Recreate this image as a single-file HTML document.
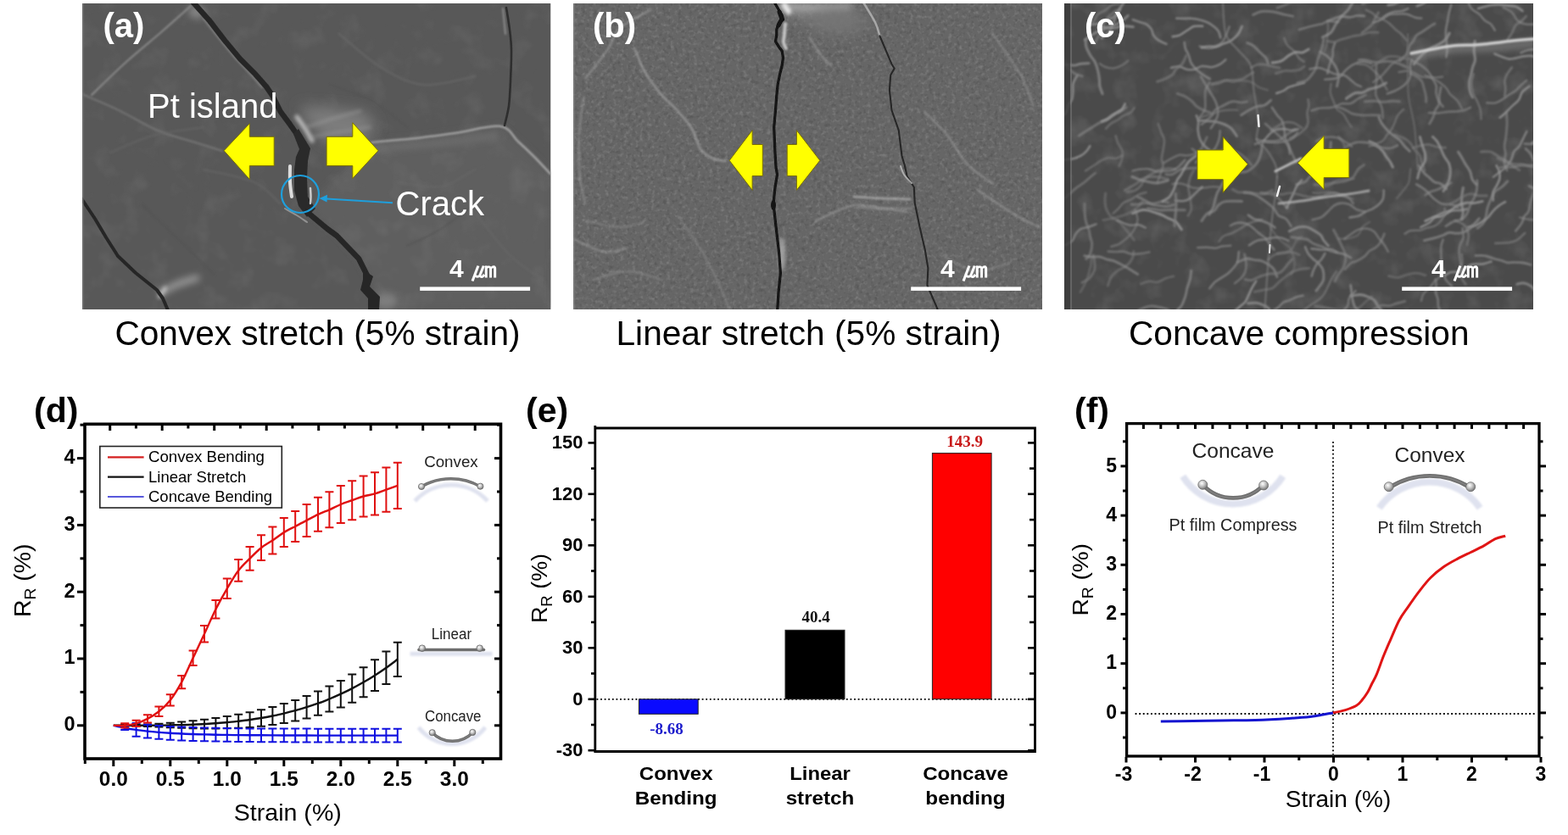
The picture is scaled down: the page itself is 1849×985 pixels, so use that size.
<!DOCTYPE html>
<html><head><meta charset="utf-8"><title>Figure</title>
<style>html,body{margin:0;padding:0;background:#fff;overflow:hidden;width:1849px;height:985px;} svg{display:block;}</style></head>
<body><svg width="1849" height="985" viewBox="0 0 1849 985">
<rect width="1849" height="985" fill="#fff"/>
<defs>
<filter id="b05" filterUnits="userSpaceOnUse" x="0" y="0" width="1849" height="985"><feGaussianBlur stdDeviation="0.5"/></filter>
<filter id="b1" filterUnits="userSpaceOnUse" x="0" y="0" width="1849" height="985"><feGaussianBlur stdDeviation="1"/></filter>
<filter id="b15" filterUnits="userSpaceOnUse" x="0" y="0" width="1849" height="985"><feGaussianBlur stdDeviation="1.5"/></filter>
<filter id="b2" filterUnits="userSpaceOnUse" x="0" y="0" width="1849" height="985"><feGaussianBlur stdDeviation="2"/></filter>
<filter id="b4" filterUnits="userSpaceOnUse" x="0" y="0" width="1849" height="985"><feGaussianBlur stdDeviation="4"/></filter>
<filter id="b8" filterUnits="userSpaceOnUse" x="0" y="0" width="1849" height="985"><feGaussianBlur stdDeviation="8"/></filter>
<filter id="nA" x="0" y="0" width="100%" height="100%">
  <feTurbulence type="fractalNoise" baseFrequency="0.035" numOctaves="3" seed="3" result="t"/>
  <feColorMatrix type="matrix" values="0 0 0 0 0.5  0 0 0 0 0.5  0 0 0 0 0.5  1.3 0 0 0 -0.65"/>
</filter>
<filter id="nB" x="0" y="0" width="100%" height="100%">
  <feTurbulence type="fractalNoise" baseFrequency="0.22" numOctaves="2" seed="7" result="t"/>
  <feColorMatrix type="matrix" values="0 0 0 0 1  0 0 0 0 1  0 0 0 0 1  0 0 0 1.6 -0.8" result="w"/>
</filter>
<filter id="nB2" x="0" y="0" width="100%" height="100%">
  <feTurbulence type="fractalNoise" baseFrequency="0.22" numOctaves="2" seed="11" result="t"/>
  <feColorMatrix type="matrix" values="0 0 0 0 0  0 0 0 0 0  0 0 0 0 0  0 0 0 1.6 -0.8" result="w"/>
</filter>
<clipPath id="cA"><rect x="97" y="4" width="552.5" height="361"/></clipPath>
<clipPath id="cB"><rect x="676" y="4" width="553" height="361"/></clipPath>
<clipPath id="cC"><rect x="1255" y="4" width="553" height="361"/></clipPath>
</defs>
<g clip-path="url(#cA)">
<rect x="97" y="4" width="552.5" height="361" fill="#585858"/>
<polygon points="438.0,168.0 492.0,163.0 537.0,157.0 590.0,149.0 611.0,167.0 629.0,184.0 649.0,205.0 649.5,365.0 445.0,365.0 436.0,330.0 423.0,305.0 397.0,276.0 373.0,256.0 360.0,247.0" fill="#5e5e5e" filter="url(#b4)"/>
<rect x="97" y="4" width="552.5" height="361" filter="url(#nA)" opacity="0.18"/>
<path d="M97.0,111.0 C104.2,114.2 125.2,122.8 140.0,130.0 C154.8,137.2 171.0,147.7 186.0,154.0 C201.0,160.3 217.3,164.0 230.0,168.0 C242.7,172.0 256.7,176.3 262.0,178.0" fill="none" stroke="#767676" stroke-width="2.5" stroke-linecap="round" stroke-linejoin="round" opacity="0.8" filter="url(#b1)"/>
<path d="M167.0,241.0 C174.2,247.8 195.7,268.2 210.0,282.0 C224.3,295.8 245.8,317.0 253.0,324.0" fill="none" stroke="#535353" stroke-width="2" stroke-linecap="round" stroke-linejoin="round" opacity="0.7" filter="url(#b1)"/>
<path d="M400.0,40.0 C408.3,46.7 433.3,70.0 450.0,80.0 C466.7,90.0 481.7,98.3 500.0,100.0 C518.3,101.7 550.0,91.7 560.0,90.0" fill="none" stroke="#686868" stroke-width="3" stroke-linecap="round" stroke-linejoin="round" opacity="0.6" filter="url(#b1)"/>
<path d="M390.0,100.0 C398.3,103.3 425.0,111.7 440.0,120.0 C455.0,128.3 473.3,145.0 480.0,150.0" fill="none" stroke="#525252" stroke-width="2" stroke-linecap="round" stroke-linejoin="round" opacity="0.6" filter="url(#b1)"/>
<path d="M470.0,215.0 C478.3,215.8 505.0,222.5 520.0,220.0 C535.0,217.5 553.3,203.3 560.0,200.0" fill="none" stroke="#686868" stroke-width="3" stroke-linecap="round" stroke-linejoin="round" opacity="0.5" filter="url(#b1)"/>
<path d="M480.0,290.0 C486.7,286.7 506.7,278.3 520.0,270.0 C533.3,261.7 553.3,245.0 560.0,240.0" fill="none" stroke="#525252" stroke-width="2" stroke-linecap="round" stroke-linejoin="round" opacity="0.6" filter="url(#b1)"/>
<path d="M560.0,250.0 C566.7,258.3 586.7,286.7 600.0,300.0 C613.3,313.3 633.3,325.0 640.0,330.0" fill="none" stroke="#686868" stroke-width="3" stroke-linecap="round" stroke-linejoin="round" opacity="0.5" filter="url(#b1)"/>
<path d="M240.0,200.0 C250.0,202.5 285.0,208.3 300.0,215.0 C315.0,221.7 325.0,235.8 330.0,240.0" fill="none" stroke="#686868" stroke-width="3" stroke-linecap="round" stroke-linejoin="round" opacity="0.5" filter="url(#b1)"/>
<path d="M130.0,180.0 C138.3,176.7 161.7,165.0 180.0,160.0 C198.3,155.0 230.0,151.7 240.0,150.0" fill="none" stroke="#666" stroke-width="3" stroke-linecap="round" stroke-linejoin="round" opacity="0.5" filter="url(#b1)"/>
<path d="M108.0,112.0 C115.0,105.3 136.3,84.3 150.0,72.0 C163.7,59.7 177.5,48.8 190.0,38.0 C202.5,27.2 219.2,12.2 225.0,7.0" fill="none" stroke="#8c8c8c" stroke-width="2.2" stroke-linecap="round" stroke-linejoin="round" opacity="0.9" filter="url(#b1)"/>
<path d="M438.0,168.0 C443.3,167.5 461.0,165.8 470.0,165.0 C479.0,164.2 480.8,164.3 492.0,163.0 C503.2,161.7 520.7,159.3 537.0,157.0 C553.3,154.7 577.7,147.3 590.0,149.0 C602.3,150.7 604.5,161.2 611.0,167.0 C617.5,172.8 622.7,177.7 629.0,184.0 C635.3,190.3 645.7,201.5 649.0,205.0" fill="none" stroke="#a8a8a8" stroke-width="2.5" stroke-linecap="round" stroke-linejoin="round" opacity="0.95" filter="url(#b1)"/>
<path d="M445.0,175.0 C452.5,174.3 474.2,172.5 490.0,171.0 C505.8,169.5 524.2,167.8 540.0,166.0 C555.8,164.2 577.5,161.0 585.0,160.0" fill="none" stroke="#777" stroke-width="6" stroke-linecap="round" stroke-linejoin="round" opacity="0.8" filter="url(#b4)"/>
<path d="M362.0,140.0 C365.8,141.7 377.0,147.0 385.0,150.0 C393.0,153.0 401.7,155.5 410.0,158.0 C418.3,160.5 430.8,163.8 435.0,165.0" fill="none" stroke="#7a7a7a" stroke-width="10" stroke-linecap="round" stroke-linejoin="round" opacity="0.8" filter="url(#b8)"/>
<path d="M190.0,345.0 C193.3,343.3 203.0,337.8 210.0,335.0 C217.0,332.2 228.3,329.2 232.0,328.0" fill="none" stroke="#a8a8a8" stroke-width="7" stroke-linecap="round" stroke-linejoin="round" opacity="0.9" filter="url(#b4)"/>
<path d="M188.0,350.0 L195.0,340.0" fill="none" stroke="#c8c8c8" stroke-width="4" stroke-linecap="round" stroke-linejoin="round" opacity="0.9" filter="url(#b2)"/>
<ellipse cx="232" cy="14" rx="10" ry="8" fill="#909090" filter="url(#b4)" opacity="0.8"/>
<ellipse cx="455" cy="355" rx="14" ry="10" fill="#8a8a8a" filter="url(#b4)" opacity="0.7"/>
<polygon points="352.0,125.0 372.0,150.0 385.0,168.0 420.0,166.0 445.0,150.0 430.0,132.0 395.0,128.0" fill="#7c7c7c" filter="url(#b8)"/>
<path d="M350.0,138.0 C351.7,140.3 357.0,147.3 360.0,152.0 C363.0,156.7 366.7,163.7 368.0,166.0" fill="none" stroke="#c8c8c8" stroke-width="5" stroke-linecap="round" stroke-linejoin="round" opacity="0.9" filter="url(#b2)"/>
<path d="M362.0,150.0 C367.0,148.3 381.5,143.2 392.0,140.0 C402.5,136.8 419.5,132.5 425.0,131.0" fill="none" stroke="#a0a0a0" stroke-width="3" stroke-linecap="round" stroke-linejoin="round" opacity="0.55" filter="url(#b2)"/>
<path d="M366.0,162.0 C371.7,161.0 388.3,158.0 400.0,156.0 C411.7,154.0 430.0,151.0 436.0,150.0" fill="none" stroke="#a0a0a0" stroke-width="3" stroke-linecap="round" stroke-linejoin="round" opacity="0.5" filter="url(#b2)"/>
<path d="M240.0,22.0 L259.0,46.0 L278.0,69.0 L296.0,88.0 L309.0,103.0" fill="none" stroke="#8c8c8c" stroke-width="2.5" stroke-linecap="round" stroke-linejoin="round" opacity="0.7" filter="url(#b1)"/>
<path d="M228.0,3.0 L246.6,23.8 L264.8,47.5 L283.1,69.5 L301.4,87.8 L314.2,102.4 L321.5,113.3 L330.7,131.6 L341.6,146.3 L354.4,164.5 L362.0,175.5" fill="none" stroke="#282828" stroke-width="6.5" stroke-linecap="round" stroke-linejoin="round" opacity="1" filter="url(#b05)"/>
<polygon points="346.0,158.0 352.0,152.0 366.0,175.0 363.0,190.0 362.0,210.0 363.0,232.0 372.0,246.0 362.0,256.0 352.0,243.0 347.0,225.0 347.0,200.0 349.0,185.0 353.0,176.0" fill="#2b2b2b" filter="url(#b05)"/>
<path d="M362.0,250.0 L386.0,270.0 L397.0,278.0 L423.0,305.0 L433.0,325.0" fill="none" stroke="#262626" stroke-width="6.5" stroke-linecap="round" stroke-linejoin="round" opacity="1" filter="url(#b05)"/>
<polygon points="428.0,318.0 440.0,326.0 436.0,338.0 448.0,350.0 447.0,366.0 434.0,366.0 434.0,352.0 425.0,342.0 428.0,330.0" fill="#262626" filter="url(#b05)"/>
<path d="M342.0,196.0 C342.0,199.2 341.7,209.0 342.0,215.0 C342.3,221.0 343.7,229.2 344.0,232.0" fill="none" stroke="#e4e4e4" stroke-width="4" stroke-linecap="round" stroke-linejoin="round" opacity="0.95" filter="url(#b05)"/>
<path d="M366.0,222.0 C366.1,223.7 366.5,229.0 366.5,232.0 C366.5,235.0 366.1,238.7 366.0,240.0" fill="none" stroke="#d8d8d8" stroke-width="2.5" stroke-linecap="round" stroke-linejoin="round" opacity="0.9" filter="url(#b05)"/>
<path d="M336.0,246.0 C338.3,247.3 345.7,251.3 350.0,254.0 C354.3,256.7 360.0,260.7 362.0,262.0" fill="none" stroke="#a0a0a0" stroke-width="2" stroke-linecap="round" stroke-linejoin="round" opacity="0.8" filter="url(#b05)"/>
<path d="M96.0,234.0 L112.0,258.0 L125.0,280.0 L139.0,302.0 L160.0,322.0 L185.0,342.0 L192.0,352.0 L198.0,366.0" fill="none" stroke="#262626" stroke-width="4" stroke-linecap="round" stroke-linejoin="round" opacity="1" filter="url(#b05)"/>
<path d="M597.0,9.0 C597.7,13.3 600.0,26.7 601.0,35.0 C602.0,43.3 602.8,49.0 603.0,59.0 C603.2,69.0 602.5,84.0 602.0,95.0 C601.5,106.0 601.2,116.2 600.0,125.0 C598.8,133.8 595.8,144.2 595.0,148.0" fill="none" stroke="#2e2e2e" stroke-width="2.6" stroke-linecap="round" stroke-linejoin="round" opacity="1" filter="url(#b05)"/>
<path d="M593.0,10.0 L596.0,40.0" fill="none" stroke="#9a9a9a" stroke-width="2" stroke-linecap="round" stroke-linejoin="round" opacity="0.8" filter="url(#b1)"/>
<rect x="97" y="4" width="2" height="361" fill="#777" opacity="0.6"/>
</g>
<polygon points="264.1,177.7 294.3,145.7 294.3,161.3 323.2,161.3 323.2,195.6 294.3,195.6 294.3,211.5" fill="#ffff00" stroke="#7a7000" stroke-width="1" stroke-linejoin="miter"/>
<polygon points="446.0,177.7 415.8,144.8 415.8,161.3 385.1,161.3 385.1,195.6 415.8,195.6 415.8,210.6" fill="#ffff00" stroke="#7a7000" stroke-width="1" stroke-linejoin="miter"/>
<circle cx="354" cy="229" r="22" fill="none" stroke="#1e9fdc" stroke-width="2.2"/>
<line x1="381" y1="234.3" x2="463" y2="239.2" stroke="#1e9fdc" stroke-width="2"/>
<polygon points="376.5,234.0 386.0,229.8 385.5,238.6" fill="#1e9fdc"/>
<g clip-path="url(#cB)">
<rect x="676" y="4" width="553" height="361" fill="#666666"/>
<rect x="676" y="4" width="553" height="361" filter="url(#nB)" opacity="0.22"/>
<rect x="676" y="4" width="553" height="361" filter="url(#nB2)" opacity="0.22"/>
<path d="M690.7,92.0 C695.0,86.5 709.6,68.8 716.3,59.0 C723.0,49.2 722.5,41.2 731.0,33.3 C739.5,25.3 761.5,15.0 767.6,11.3" fill="none" stroke="#a4a4a4" stroke-width="3" stroke-linecap="round" stroke-linejoin="round" opacity="0.45" filter="url(#b1)"/>
<path d="M749.0,59.0 C750.9,63.3 755.4,76.0 760.3,84.6 C765.2,93.1 772.5,103.0 778.6,110.3 C784.7,117.6 790.8,121.9 796.9,128.6 C803.0,135.3 810.3,142.7 815.2,150.6 C820.1,158.5 821.9,170.1 826.2,176.2 C830.5,182.3 835.9,184.9 840.9,187.2 C845.9,189.5 853.5,189.5 856.0,190.0" fill="none" stroke="#a4a4a4" stroke-width="3" stroke-linecap="round" stroke-linejoin="round" opacity="0.6" filter="url(#b1)"/>
<path d="M688.0,115.0 C687.2,122.5 683.7,144.2 683.0,160.0 C682.3,175.8 682.8,196.7 684.0,210.0 C685.2,223.3 689.0,235.0 690.0,240.0" fill="none" stroke="#a4a4a4" stroke-width="3" stroke-linecap="round" stroke-linejoin="round" opacity="0.35" filter="url(#b1)"/>
<path d="M676.0,282.0 C682.0,284.5 701.7,295.2 712.0,297.0 C722.3,298.8 733.7,293.7 738.0,293.0" fill="none" stroke="#a4a4a4" stroke-width="3" stroke-linecap="round" stroke-linejoin="round" opacity="0.4" filter="url(#b1)"/>
<path d="M688.0,260.0 C695.0,261.3 718.0,267.7 730.0,268.0 C742.0,268.3 755.0,263.0 760.0,262.0" fill="none" stroke="#a4a4a4" stroke-width="2.5" stroke-linecap="round" stroke-linejoin="round" opacity="0.3" filter="url(#b1)"/>
<path d="M961.8,260.5 C969.1,257.4 992.4,244.6 1005.8,242.2 C1019.2,239.8 1031.7,244.6 1042.4,245.9 C1053.1,247.2 1065.4,249.3 1070.0,250.0" fill="none" stroke="#a4a4a4" stroke-width="3" stroke-linecap="round" stroke-linejoin="round" opacity="0.45" filter="url(#b1)"/>
<path d="M1090.0,132.0 C1094.3,136.3 1107.1,147.5 1115.7,157.9 C1124.3,168.3 1132.2,184.7 1141.4,194.5 C1150.6,204.3 1165.8,212.8 1170.7,216.5" fill="none" stroke="#a4a4a4" stroke-width="3" stroke-linecap="round" stroke-linejoin="round" opacity="0.45" filter="url(#b1)"/>
<path d="M1152.4,223.9 C1159.7,228.8 1184.1,245.9 1196.3,253.2 C1208.5,260.5 1220.7,265.4 1225.6,267.8" fill="none" stroke="#a4a4a4" stroke-width="3" stroke-linecap="round" stroke-linejoin="round" opacity="0.45" filter="url(#b1)"/>
<path d="M954.5,44.3 C957.0,48.0 964.9,60.8 969.2,66.3 C973.5,71.8 978.3,75.5 980.1,77.3" fill="none" stroke="#a4a4a4" stroke-width="3" stroke-linecap="round" stroke-linejoin="round" opacity="0.45" filter="url(#b1)"/>
<path d="M1170.7,40.6 C1176.2,48.5 1195.8,74.2 1203.7,88.3 C1211.6,102.3 1215.9,118.8 1218.3,124.9" fill="none" stroke="#a4a4a4" stroke-width="3" stroke-linecap="round" stroke-linejoin="round" opacity="0.35" filter="url(#b1)"/>
<path d="M800.0,255.0 C805.0,262.5 821.7,285.8 830.0,300.0 C838.3,314.2 845.0,329.2 850.0,340.0 C855.0,350.8 858.3,360.8 860.0,365.0" fill="none" stroke="#a4a4a4" stroke-width="2.5" stroke-linecap="round" stroke-linejoin="round" opacity="0.3" filter="url(#b1)"/>
<path d="M700.0,330.0 C706.7,328.3 726.7,320.0 740.0,320.0 C753.3,320.0 773.3,328.3 780.0,330.0" fill="none" stroke="#a4a4a4" stroke-width="3" stroke-linecap="round" stroke-linejoin="round" opacity="0.3" filter="url(#b1)"/>
<path d="M1110.0,300.0 C1116.7,303.3 1136.7,318.3 1150.0,320.0 C1163.3,321.7 1183.3,311.7 1190.0,310.0" fill="none" stroke="#a4a4a4" stroke-width="3" stroke-linecap="round" stroke-linejoin="round" opacity="0.3" filter="url(#b1)"/>
<path d="M1007.0,232.0 C1012.5,232.3 1029.0,233.5 1040.0,234.0 C1051.0,234.5 1067.5,234.8 1073.0,235.0" fill="none" stroke="#b0b0b0" stroke-width="3" stroke-linecap="round" stroke-linejoin="round" opacity="0.7" filter="url(#b1)"/>
<path d="M1010.0,245.0 C1015.8,245.2 1034.2,245.8 1045.0,246.0 C1055.8,246.2 1070.0,246.0 1075.0,246.0" fill="none" stroke="#a0a0a0" stroke-width="3" stroke-linecap="round" stroke-linejoin="round" opacity="0.4" filter="url(#b1)"/>
<path d="M922.0,7.0 C925.0,7.3 932.8,8.5 940.0,9.0 C947.2,9.5 955.0,10.0 965.0,10.0 C975.0,10.0 994.2,9.2 1000.0,9.0" fill="none" stroke="#c8c8c8" stroke-width="8" stroke-linecap="round" stroke-linejoin="round" opacity="0.95" filter="url(#b4)"/>
<path d="M930.0,12.0 C935.0,13.3 948.3,18.3 960.0,20.0 C971.7,21.7 993.3,21.7 1000.0,22.0" fill="none" stroke="#888" stroke-width="14" stroke-linecap="round" stroke-linejoin="round" opacity="0.7" filter="url(#b8)"/>
<path d="M925.0,6.0 L930.0,14.0" fill="none" stroke="#f0f0f0" stroke-width="6" stroke-linecap="round" stroke-linejoin="round" opacity="1" filter="url(#b2)"/>
<path d="M926.0,28.0 C925.8,30.0 925.3,36.3 925.0,40.0 C924.7,43.7 923.7,47.2 924.0,50.0 C924.3,52.8 926.5,55.8 927.0,57.0" fill="none" stroke="#c8c8c8" stroke-width="4" stroke-linecap="round" stroke-linejoin="round" opacity="0.95" filter="url(#b1)"/>
<ellipse cx="922" cy="300" rx="4" ry="20" fill="#b0b0b0" filter="url(#b2)" opacity="0.8"/>
<ellipse cx="990" cy="25" rx="35" ry="18" fill="#747474" filter="url(#b8)" opacity="0.8"/>
<path d="M913.3,3.0 L918.4,11.7 L922.2,18.1 L923.5,23.2 L918.4,27.0 L915.8,34.7 L915.8,41.1 L914.5,48.8 L918.4,55.2 L922.2,60.3 L923.5,68.0 L922.2,77.0 L919.7,87.2 L917.1,100.0 L915.8,112.8 L914.5,130.0 L912.7,150.0 L914.0,180.6 L915.0,197.0 L916.5,206.0 L914.0,221.0 L912.0,240.0 L915.0,267.0 L918.6,298.0 L920.4,322.0 L918.0,345.0 L916.7,366.0" fill="none" stroke="#121212" stroke-width="3.2" stroke-linecap="round" stroke-linejoin="round" opacity="1" filter="url(#b05)"/>
<path d="M919.0,14.0 L922.0,22.0 L918.0,30.0" fill="none" stroke="#121212" stroke-width="5" stroke-linecap="round" stroke-linejoin="round" opacity="1" filter="url(#b05)"/>
<ellipse cx="912" cy="242" rx="3" ry="6" fill="#141414"/>
<path d="M1018.2,3.0 C1020.6,7.0 1029.1,20.4 1032.3,27.0 C1035.5,33.6 1036.6,39.8 1037.4,42.4" fill="none" stroke="#b8b8b8" stroke-width="2.5" stroke-linecap="round" stroke-linejoin="round" opacity="0.8" filter="url(#b05)"/>
<path d="M1037.4,42.4 L1051.5,75.7 L1054.7,80.8 L1050.2,88.5 L1048.9,106.4 L1051.5,130.0 L1059.8,153.8 L1063.5,184.0 L1066.8,195.0 L1069.6,207.9 L1077.8,220.7 L1078.7,239.1 L1084.3,266.7 L1090.7,294.2 L1094.4,316.3 L1093.4,336.5 L1104.5,362.2 L1106.0,366.0" fill="none" stroke="#262626" stroke-width="2.1" stroke-linecap="round" stroke-linejoin="round" opacity="1" filter="url(#b05)"/>
<path d="M1062.0,196.0 C1062.7,197.7 1063.8,202.7 1066.0,206.0 C1068.2,209.3 1073.5,214.3 1075.0,216.0" fill="none" stroke="#c0c0c0" stroke-width="2" stroke-linecap="round" stroke-linejoin="round" opacity="0.8" filter="url(#b05)"/>
<rect x="676" y="4" width="2" height="361" fill="#888" opacity="0.5"/>
</g>
<polygon points="860.2,189.3 887.1,153.7 887.1,170.5 899.3,170.5 899.3,207.5 887.1,207.5 887.1,224.3" fill="#ffff00" stroke="#7a7000" stroke-width="1" stroke-linejoin="miter"/>
<polygon points="966.8,189.3 939.4,153.7 939.4,170.5 928.2,170.5 928.2,207.5 939.4,207.5 939.4,224.3" fill="#ffff00" stroke="#7a7000" stroke-width="1" stroke-linejoin="miter"/>
<g clip-path="url(#cC)">
<rect x="1255" y="4" width="553" height="361" fill="#4a4a4a"/>
<rect x="1255" y="4" width="553" height="361" filter="url(#nA)" opacity="0.3"/>
<path d="M1606.3,4.4 C1608.1,3.8 1614.2,2.4 1617.1,0.7 C1620.0,-1.0 1622.1,-3.4 1623.5,-5.8 C1625.0,-8.1 1625.0,-11.1 1625.7,-13.6 C1626.4,-16.0 1627.3,-19.3 1627.6,-20.4" fill="none" stroke="#868686" stroke-width="2.9610599788721887" stroke-linecap="round" stroke-linejoin="round" opacity="0.7364078451689613" filter="url(#b1)"/>
<path d="M1482.0,164.4 C1483.4,164.8 1486.9,166.8 1490.2,167.2 C1493.6,167.6 1498.8,167.1 1502.0,166.7 C1505.2,166.4 1506.6,166.5 1509.3,165.1 C1512.0,163.7 1515.1,160.3 1518.1,158.2 C1521.2,156.0 1526.0,153.4 1527.5,152.4" fill="none" stroke="#7e7e7e" stroke-width="3.1784926111834966" stroke-linecap="round" stroke-linejoin="round" opacity="0.6644912365818803" filter="url(#b1)"/>
<path d="M1458.9,203.1 C1460.6,203.0 1466.5,203.4 1469.4,202.6 C1472.3,201.8 1474.3,200.0 1476.3,198.4 C1478.4,196.8 1480.1,195.2 1481.6,193.2 C1483.1,191.3 1484.2,189.4 1485.2,186.6 C1486.2,183.9 1487.2,179.9 1487.8,176.8 C1488.4,173.7 1488.6,169.4 1488.7,168.0" fill="none" stroke="#868686" stroke-width="2.961456250766841" stroke-linecap="round" stroke-linejoin="round" opacity="0.7180700697510773" filter="url(#b1)"/>
<path d="M1631.2,21.9 C1632.4,21.1 1635.7,17.9 1638.6,17.0 C1641.6,16.1 1645.4,16.6 1648.8,16.5 C1652.2,16.5 1655.8,15.9 1659.2,16.7 C1662.6,17.4 1666.4,20.0 1669.3,20.8 C1672.1,21.6 1675.2,21.4 1676.4,21.5" fill="none" stroke="#989898" stroke-width="2.452950884169238" stroke-linecap="round" stroke-linejoin="round" opacity="0.6104659148089315" filter="url(#b1)"/>
<path d="M1760.9,208.8 C1762.5,207.7 1767.5,203.9 1770.1,201.8 C1772.7,199.7 1774.5,198.7 1776.5,196.5 C1778.5,194.2 1780.5,191.2 1782.0,188.3 C1783.5,185.4 1783.7,181.6 1785.2,179.0 C1786.8,176.3 1789.6,175.4 1791.5,172.5 C1793.5,169.6 1795.4,164.7 1796.9,161.8 C1798.3,158.9 1799.7,156.2 1800.3,155.1" fill="none" stroke="#8e8e8e" stroke-width="2.5222730554786086" stroke-linecap="round" stroke-linejoin="round" opacity="0.7944411638666663" filter="url(#b1)"/>
<path d="M1335.4,251.5 C1337.3,250.9 1343.6,248.2 1346.6,247.7 C1349.6,247.1 1350.8,247.5 1353.6,248.1 C1356.5,248.7 1360.6,250.3 1363.6,251.3 C1366.5,252.2 1369.0,253.0 1371.4,254.1 C1373.8,255.2 1375.5,256.5 1378.0,257.7 C1380.5,259.0 1383.9,259.4 1386.4,261.6 C1389.0,263.8 1392.1,269.2 1393.3,270.7" fill="none" stroke="#989898" stroke-width="3.0095697592416517" stroke-linecap="round" stroke-linejoin="round" opacity="0.8387552395480458" filter="url(#b1)"/>
<path d="M1531.8,35.1 C1533.6,34.6 1538.7,33.0 1542.2,32.0 C1545.7,31.1 1549.9,30.1 1552.8,29.4 C1555.7,28.7 1557.4,28.6 1559.6,27.9 C1561.8,27.2 1563.1,25.4 1566.1,25.1 C1569.1,24.7 1575.6,25.7 1577.5,25.8" fill="none" stroke="#989898" stroke-width="2.5926972739577865" stroke-linecap="round" stroke-linejoin="round" opacity="0.5457809241352235" filter="url(#b1)"/>
<path d="M1565.6,24.7 C1567.0,24.2 1571.6,22.5 1574.4,21.5 C1577.2,20.6 1579.5,19.4 1582.4,19.2 C1585.2,19.0 1588.3,20.4 1591.4,20.3 C1594.5,20.2 1598.0,18.6 1600.9,18.4 C1603.8,18.2 1607.6,18.8 1608.9,18.9" fill="none" stroke="#989898" stroke-width="2.9373495677106263" stroke-linecap="round" stroke-linejoin="round" opacity="0.6095969199989717" filter="url(#b1)"/>
<path d="M1456.0,334.2 C1457.3,333.1 1461.7,330.1 1463.7,327.9 C1465.8,325.7 1467.3,324.0 1468.2,321.2 C1469.2,318.4 1469.6,314.7 1469.5,311.1 C1469.3,307.5 1467.8,301.6 1467.5,299.8" fill="none" stroke="#989898" stroke-width="2.590403707495196" stroke-linecap="round" stroke-linejoin="round" opacity="0.4783429399554614" filter="url(#b1)"/>
<path d="M1623.0,75.8 C1622.9,77.3 1622.7,82.3 1622.8,85.1 C1622.8,87.9 1623.4,89.9 1623.4,92.6 C1623.3,95.3 1622.7,98.0 1622.5,101.3 C1622.4,104.7 1621.7,109.2 1622.6,112.6 C1623.4,116.0 1626.2,119.0 1627.4,121.7 C1628.6,124.3 1629.3,125.6 1629.8,128.6 C1630.4,131.6 1630.6,137.7 1630.7,139.5" fill="none" stroke="#8e8e8e" stroke-width="2.552167126752649" stroke-linecap="round" stroke-linejoin="round" opacity="0.5494625335681143" filter="url(#b1)"/>
<path d="M1498.5,154.0 C1500.1,153.0 1505.4,149.6 1508.0,148.0 C1510.7,146.4 1511.5,145.0 1514.4,144.5 C1517.3,144.0 1522.0,143.9 1525.5,145.0 C1529.0,146.1 1533.8,150.1 1535.4,151.1" fill="none" stroke="#868686" stroke-width="2.788512900360575" stroke-linecap="round" stroke-linejoin="round" opacity="0.5165244442415656" filter="url(#b1)"/>
<path d="M1365.8,146.2 C1366.4,147.9 1368.2,153.4 1369.4,156.5 C1370.6,159.6 1372.6,161.5 1372.9,164.9 C1373.3,168.3 1372.1,173.1 1371.6,176.8 C1371.1,180.5 1369.8,184.1 1369.8,187.2 C1369.8,190.4 1371.8,192.6 1371.5,195.5 C1371.3,198.5 1369.7,201.7 1368.5,205.0 C1367.4,208.2 1365.4,213.4 1364.8,215.0" fill="none" stroke="#8e8e8e" stroke-width="2.781430813687148" stroke-linecap="round" stroke-linejoin="round" opacity="0.4700569349055814" filter="url(#b1)"/>
<path d="M1764.5,195.2 C1765.0,196.3 1767.1,199.2 1767.8,201.8 C1768.4,204.4 1769.0,207.8 1768.4,210.8 C1767.9,213.8 1765.7,217.2 1764.4,219.8 C1763.2,222.3 1761.6,223.3 1761.0,226.1 C1760.3,228.9 1760.6,234.7 1760.6,236.4" fill="none" stroke="#989898" stroke-width="2.563407359538829" stroke-linecap="round" stroke-linejoin="round" opacity="0.8238825030945709" filter="url(#b1)"/>
<path d="M1649.6,85.0 C1651.6,84.7 1658.2,83.4 1661.2,83.5 C1664.2,83.7 1665.3,84.8 1667.8,86.0 C1670.4,87.1 1673.4,89.7 1676.5,90.6 C1679.5,91.4 1683.3,90.9 1686.2,91.0 C1689.1,91.2 1691.3,91.5 1693.8,91.4 C1696.3,91.4 1699.9,90.7 1701.1,90.6" fill="none" stroke="#868686" stroke-width="2.5261974658857858" stroke-linecap="round" stroke-linejoin="round" opacity="0.5978108354955536" filter="url(#b1)"/>
<path d="M1716.1,260.2 C1717.6,260.9 1722.7,262.6 1725.0,264.2 C1727.3,265.9 1728.5,267.8 1729.7,270.1 C1730.8,272.4 1731.7,275.1 1731.8,278.2 C1731.8,281.3 1730.3,287.0 1730.0,288.7" fill="none" stroke="#868686" stroke-width="2.8838638616241794" stroke-linecap="round" stroke-linejoin="round" opacity="0.5589392849259265" filter="url(#b1)"/>
<path d="M1650.5,71.8 C1651.8,70.4 1656.9,66.7 1658.8,63.8 C1660.7,60.9 1660.7,56.7 1662.0,54.1 C1663.3,51.6 1665.2,50.6 1666.5,48.5 C1667.9,46.5 1668.4,43.6 1670.2,41.8 C1671.9,40.0 1674.3,39.4 1676.8,37.7 C1679.4,36.0 1682.9,33.4 1685.5,31.7 C1688.0,30.0 1690.8,28.4 1691.9,27.8" fill="none" stroke="#868686" stroke-width="3.0676760159088134" stroke-linecap="round" stroke-linejoin="round" opacity="0.668236115682209" filter="url(#b1)"/>
<path d="M1574.1,50.8 C1573.7,52.1 1572.1,56.0 1571.7,58.5 C1571.3,61.0 1572.2,63.0 1571.5,66.0 C1570.8,69.1 1568.7,73.4 1567.7,76.8 C1566.7,80.2 1565.8,85.0 1565.4,86.6" fill="none" stroke="#868686" stroke-width="2.589389865783487" stroke-linecap="round" stroke-linejoin="round" opacity="0.8203055290278226" filter="url(#b1)"/>
<path d="M1336.8,296.6 C1336.5,298.0 1336.5,302.2 1335.1,305.0 C1333.7,307.9 1331.0,311.3 1328.2,313.7 C1325.5,316.0 1321.5,316.8 1318.5,318.9 C1315.6,321.1 1312.6,323.4 1310.6,326.4 C1308.5,329.4 1307.0,335.2 1306.3,337.0" fill="none" stroke="#7e7e7e" stroke-width="3.053269284477543" stroke-linecap="round" stroke-linejoin="round" opacity="0.5389734870182658" filter="url(#b1)"/>
<path d="M1505.1,110.1 C1506.5,109.5 1511.1,108.2 1513.5,107.0 C1516.0,105.8 1517.2,104.0 1519.6,102.9 C1522.1,101.8 1525.0,101.3 1528.0,100.4 C1531.1,99.5 1536.4,98.0 1538.0,97.6" fill="none" stroke="#989898" stroke-width="2.492273401481142" stroke-linecap="round" stroke-linejoin="round" opacity="0.8256948561298862" filter="url(#b1)"/>
<path d="M1793.3,62.3 C1794.6,61.8 1798.5,59.7 1801.4,59.1 C1804.3,58.5 1807.9,58.0 1810.6,58.5 C1813.2,59.0 1815.4,60.3 1817.3,61.9 C1819.3,63.6 1821.4,67.2 1822.2,68.2" fill="none" stroke="#8e8e8e" stroke-width="2.4013530225749036" stroke-linecap="round" stroke-linejoin="round" opacity="0.7335141135336682" filter="url(#b1)"/>
<path d="M1767.9,198.0 C1769.2,197.8 1772.6,197.0 1775.2,196.8 C1777.9,196.7 1780.6,197.3 1783.9,197.0 C1787.1,196.7 1791.7,195.3 1794.9,195.0 C1798.2,194.8 1800.5,195.7 1803.4,195.5 C1806.3,195.4 1810.9,194.4 1812.3,194.2" fill="none" stroke="#7e7e7e" stroke-width="2.843529982133435" stroke-linecap="round" stroke-linejoin="round" opacity="0.7288833656777596" filter="url(#b1)"/>
<path d="M1353.4,245.7 C1354.8,245.9 1359.3,246.4 1361.8,246.7 C1364.4,247.1 1366.0,247.9 1368.7,248.0 C1371.4,248.1 1374.6,247.5 1377.9,247.5 C1381.1,247.4 1384.9,247.7 1388.1,247.8 C1391.4,247.8 1395.8,247.7 1397.3,247.7" fill="none" stroke="#868686" stroke-width="3.0349883192848015" stroke-linecap="round" stroke-linejoin="round" opacity="0.6544695987498348" filter="url(#b1)"/>
<path d="M1787.3,272.5 C1788.5,270.9 1792.8,266.0 1794.5,263.1 C1796.2,260.3 1796.2,257.5 1797.5,255.2 C1798.9,252.8 1801.3,252.2 1802.5,249.3 C1803.8,246.3 1804.0,241.2 1805.0,237.6 C1805.9,233.9 1807.3,230.9 1808.4,227.3 C1809.5,223.8 1811.0,218.2 1811.6,216.3" fill="none" stroke="#868686" stroke-width="2.707182773914201" stroke-linecap="round" stroke-linejoin="round" opacity="0.7373383661995954" filter="url(#b1)"/>
<path d="M1470.8,50.6 C1472.0,51.2 1475.6,52.3 1478.1,54.1 C1480.5,56.0 1483.1,59.2 1485.5,61.5 C1488.0,63.9 1491.1,65.9 1492.7,68.2 C1494.4,70.5 1495.0,74.1 1495.4,75.3" fill="none" stroke="#868686" stroke-width="2.9340621860690828" stroke-linecap="round" stroke-linejoin="round" opacity="0.7705666406889058" filter="url(#b1)"/>
<path d="M1803.2,219.5 C1804.6,220.3 1809.2,222.0 1811.7,224.2 C1814.2,226.4 1816.1,230.3 1818.0,232.9 C1819.9,235.4 1820.8,237.3 1823.1,239.4 C1825.3,241.5 1828.9,243.2 1831.2,245.5 C1833.6,247.8 1835.4,250.7 1837.0,253.2 C1838.6,255.7 1839.2,258.5 1841.0,260.5 C1842.9,262.5 1846.8,264.5 1848.0,265.3" fill="none" stroke="#989898" stroke-width="3.114421466232254" stroke-linecap="round" stroke-linejoin="round" opacity="0.5843390146485256" filter="url(#b1)"/>
<path d="M1290.5,51.9 C1291.2,50.5 1293.3,46.5 1294.8,43.9 C1296.3,41.3 1298.4,38.9 1299.5,36.1 C1300.6,33.3 1300.1,30.0 1301.5,27.2 C1302.8,24.5 1305.1,21.9 1307.6,19.4 C1310.0,16.9 1314.8,13.4 1316.3,12.2" fill="none" stroke="#7e7e7e" stroke-width="3.1541933259472774" stroke-linecap="round" stroke-linejoin="round" opacity="0.6407918930229428" filter="url(#b1)"/>
<path d="M1413.7,142.0 C1415.1,142.1 1419.2,142.4 1422.1,142.6 C1424.9,142.8 1427.7,142.6 1431.0,143.1 C1434.3,143.7 1438.2,144.5 1441.7,145.8 C1445.1,147.1 1448.7,148.6 1451.5,151.1 C1454.3,153.5 1457.3,159.1 1458.5,160.7" fill="none" stroke="#8e8e8e" stroke-width="2.8735142205023285" stroke-linecap="round" stroke-linejoin="round" opacity="0.8127715450347073" filter="url(#b1)"/>
<path d="M1619.6,26.6 C1621.0,26.1 1625.4,24.8 1627.9,23.4 C1630.3,21.9 1632.0,19.3 1634.5,17.8 C1637.0,16.3 1639.5,15.1 1642.7,14.3 C1645.9,13.5 1650.7,13.6 1653.7,12.9 C1656.7,12.1 1659.4,10.4 1660.5,10.0" fill="none" stroke="#8e8e8e" stroke-width="2.441668486594604" stroke-linecap="round" stroke-linejoin="round" opacity="0.7496097044331402" filter="url(#b1)"/>
<path d="M1782.8,79.5 C1781.7,81.1 1777.6,86.5 1776.2,89.2 C1774.8,92.0 1774.5,93.7 1774.3,96.1 C1774.1,98.5 1775.2,100.8 1775.2,103.7 C1775.2,106.6 1774.6,111.8 1774.5,113.5" fill="none" stroke="#868686" stroke-width="2.6049949572497493" stroke-linecap="round" stroke-linejoin="round" opacity="0.6360135933740882" filter="url(#b1)"/>
<path d="M1453.4,223.4 C1454.5,224.0 1457.6,226.4 1460.1,226.9 C1462.7,227.4 1465.3,226.3 1468.7,226.5 C1472.0,226.8 1476.6,228.0 1480.3,228.3 C1484.0,228.7 1487.5,229.4 1490.9,228.7 C1494.2,228.1 1498.8,225.1 1500.4,224.4" fill="none" stroke="#868686" stroke-width="3.0179847079609794" stroke-linecap="round" stroke-linejoin="round" opacity="0.4907605221783906" filter="url(#b1)"/>
<path d="M1725.4,221.4 C1725.2,222.9 1724.2,227.3 1723.9,230.4 C1723.6,233.5 1723.4,236.4 1723.6,239.9 C1723.8,243.3 1725.2,247.9 1725.2,251.0 C1725.2,254.1 1723.9,257.2 1723.7,258.4" fill="none" stroke="#989898" stroke-width="3.0629658488019667" stroke-linecap="round" stroke-linejoin="round" opacity="0.7042340424405784" filter="url(#b1)"/>
<path d="M1644.6,159.2 C1646.4,159.8 1652.5,161.5 1655.6,163.1 C1658.6,164.7 1660.9,166.4 1663.0,168.7 C1665.1,171.0 1666.5,174.7 1668.4,177.1 C1670.2,179.5 1672.7,180.7 1674.0,183.0 C1675.4,185.4 1675.4,188.1 1676.4,191.1 C1677.4,194.1 1679.4,199.5 1680.0,201.2" fill="none" stroke="#7e7e7e" stroke-width="2.7954452028927377" stroke-linecap="round" stroke-linejoin="round" opacity="0.5845586479565501" filter="url(#b1)"/>
<path d="M1428.6,178.8 C1430.4,178.7 1436.2,178.5 1439.1,178.0 C1442.0,177.5 1443.5,176.0 1445.8,175.8 C1448.1,175.7 1450.5,176.3 1453.1,177.1 C1455.8,178.0 1459.0,179.2 1461.8,180.9 C1464.5,182.7 1467.4,185.3 1469.8,187.6 C1472.1,190.0 1474.9,193.6 1475.9,194.8" fill="none" stroke="#8e8e8e" stroke-width="2.577277120378024" stroke-linecap="round" stroke-linejoin="round" opacity="0.4872213402218687" filter="url(#b1)"/>
<path d="M1635.9,110.4 C1637.5,109.8 1642.7,108.2 1645.9,106.7 C1649.1,105.1 1652.4,103.1 1654.9,101.2 C1657.4,99.3 1659.2,97.5 1660.7,95.3 C1662.1,93.1 1663.1,90.7 1663.5,87.9 C1663.8,85.0 1662.7,81.1 1662.9,78.2 C1663.1,75.3 1664.3,71.8 1664.6,70.5" fill="none" stroke="#868686" stroke-width="2.6211997015749513" stroke-linecap="round" stroke-linejoin="round" opacity="0.7454418614035803" filter="url(#b1)"/>
<path d="M1578.1,281.6 C1579.6,281.6 1583.7,282.0 1586.9,281.7 C1590.1,281.3 1594.5,280.5 1597.2,279.4 C1599.9,278.4 1601.5,277.2 1603.1,275.2 C1604.7,273.3 1604.8,269.9 1606.8,267.6 C1608.9,265.4 1613.7,262.7 1615.1,261.7" fill="none" stroke="#7e7e7e" stroke-width="2.4098123227004065" stroke-linecap="round" stroke-linejoin="round" opacity="0.4910350587151043" filter="url(#b1)"/>
<path d="M1405.7,175.5 C1406.8,176.5 1410.9,179.2 1412.8,181.5 C1414.8,183.8 1415.1,187.1 1417.3,189.4 C1419.4,191.6 1423.0,193.9 1425.7,195.0 C1428.4,196.0 1430.7,195.4 1433.4,195.7 C1436.1,196.1 1439.5,196.1 1441.8,197.1 C1444.2,198.2 1446.6,201.2 1447.6,202.0" fill="none" stroke="#7e7e7e" stroke-width="3.032592663874736" stroke-linecap="round" stroke-linejoin="round" opacity="0.6925270604971852" filter="url(#b1)"/>
<path d="M1372.5,192.0 C1374.0,191.2 1378.2,188.5 1381.3,187.0 C1384.4,185.4 1388.2,183.4 1391.1,182.8 C1394.1,182.2 1396.1,183.8 1399.1,183.5 C1402.1,183.3 1406.4,182.4 1409.2,181.2 C1411.9,180.1 1414.0,178.5 1415.7,176.8 C1417.3,175.0 1417.7,173.1 1419.0,170.6 C1420.3,168.1 1422.6,163.1 1423.3,161.6" fill="none" stroke="#989898" stroke-width="2.6304839116749514" stroke-linecap="round" stroke-linejoin="round" opacity="0.4630559421523697" filter="url(#b1)"/>
<path d="M1404.7,319.1 C1404.5,320.7 1404.2,325.6 1403.4,329.1 C1402.6,332.6 1400.8,336.8 1399.9,340.2 C1398.9,343.7 1398.8,346.4 1397.7,349.7 C1396.6,353.1 1394.9,357.7 1393.4,360.4 C1391.8,363.1 1389.7,363.6 1388.4,365.8 C1387.0,368.0 1385.7,372.4 1385.2,373.7" fill="none" stroke="#989898" stroke-width="2.77495837622093" stroke-linecap="round" stroke-linejoin="round" opacity="0.625661379469495" filter="url(#b1)"/>
<path d="M1416.8,146.7 C1417.8,146.0 1420.5,144.0 1422.4,142.3 C1424.4,140.5 1427.1,138.5 1428.8,136.4 C1430.5,134.4 1430.4,132.0 1432.7,130.1 C1434.9,128.1 1439.0,126.3 1442.4,124.6 C1445.8,122.8 1449.6,120.3 1453.1,119.7 C1456.6,119.1 1460.5,120.9 1463.4,120.9 C1466.3,121.0 1469.3,120.1 1470.5,119.9" fill="none" stroke="#868686" stroke-width="2.921207591546949" stroke-linecap="round" stroke-linejoin="round" opacity="0.6382003293006534" filter="url(#b1)"/>
<path d="M1762.6,63.4 C1764.0,64.0 1768.4,66.0 1771.2,67.1 C1774.0,68.1 1776.8,69.4 1779.4,69.6 C1782.1,69.9 1784.3,69.1 1787.1,68.6 C1790.0,68.0 1793.3,66.8 1796.4,66.4 C1799.4,65.9 1802.7,65.7 1805.4,65.9 C1808.0,66.1 1809.8,67.6 1812.3,67.6 C1814.9,67.5 1819.1,66.1 1820.4,65.8" fill="none" stroke="#8e8e8e" stroke-width="2.7233400456005965" stroke-linecap="round" stroke-linejoin="round" opacity="0.8380738907234309" filter="url(#b1)"/>
<path d="M1535.7,367.5 C1537.0,366.5 1540.5,363.2 1543.1,361.4 C1545.7,359.5 1548.8,357.8 1551.1,356.3 C1553.4,354.7 1555.2,353.7 1557.0,352.0 C1558.8,350.3 1560.2,348.8 1561.9,346.1 C1563.5,343.4 1565.5,338.7 1566.9,335.9 C1568.2,333.1 1568.4,332.0 1569.9,329.4 C1571.4,326.8 1574.9,321.7 1575.9,320.2" fill="none" stroke="#868686" stroke-width="2.4109395715728485" stroke-linecap="round" stroke-linejoin="round" opacity="0.5743000553573341" filter="url(#b1)"/>
<path d="M1475.5,79.7 C1476.7,79.1 1479.9,76.8 1482.4,76.2 C1485.0,75.6 1488.0,75.8 1490.9,76.2 C1493.8,76.5 1496.7,77.6 1499.7,78.2 C1502.7,78.9 1507.4,79.8 1508.9,80.2" fill="none" stroke="#7e7e7e" stroke-width="2.70686881059772" stroke-linecap="round" stroke-linejoin="round" opacity="0.6705060307521878" filter="url(#b1)"/>
<path d="M1765.9,186.6 C1767.6,187.4 1772.7,190.0 1776.2,191.1 C1779.7,192.3 1783.9,193.3 1786.8,193.7 C1789.7,194.1 1790.8,193.2 1793.8,193.6 C1796.8,194.0 1801.3,195.2 1804.7,196.1 C1808.2,197.1 1811.7,197.8 1814.5,199.4 C1817.3,200.9 1820.3,204.4 1821.4,205.5" fill="none" stroke="#7e7e7e" stroke-width="2.841533933656649" stroke-linecap="round" stroke-linejoin="round" opacity="0.588049576677203" filter="url(#b1)"/>
<path d="M1552.0,166.7 C1553.2,166.0 1556.9,163.7 1559.3,162.9 C1561.7,162.0 1563.4,161.6 1566.4,161.6 C1569.3,161.5 1573.8,161.8 1576.9,162.5 C1580.0,163.3 1582.1,164.6 1585.0,166.3 C1587.8,168.0 1592.5,171.6 1594.1,172.7" fill="none" stroke="#868686" stroke-width="2.429615689076461" stroke-linecap="round" stroke-linejoin="round" opacity="0.6481314598465694" filter="url(#b1)"/>
<path d="M1528.8,217.5 C1530.6,216.9 1537.1,215.5 1539.8,213.9 C1542.5,212.3 1542.2,209.9 1544.9,208.1 C1547.5,206.3 1552.7,205.3 1555.6,203.0 C1558.5,200.8 1560.5,197.4 1562.3,194.4 C1564.1,191.5 1565.2,187.9 1566.3,185.1 C1567.3,182.4 1567.9,181.0 1568.4,178.0 C1568.9,175.1 1569.3,169.5 1569.4,167.7" fill="none" stroke="#7e7e7e" stroke-width="2.9014393432063903" stroke-linecap="round" stroke-linejoin="round" opacity="0.8316558370490704" filter="url(#b1)"/>
<path d="M1746.4,179.0 C1748.3,179.0 1754.6,178.1 1758.0,179.1 C1761.5,180.1 1764.5,183.3 1767.1,184.8 C1769.7,186.3 1771.1,186.6 1773.7,188.3 C1776.4,190.0 1779.9,192.9 1782.9,195.0 C1785.9,197.1 1790.2,199.7 1791.7,200.7" fill="none" stroke="#8e8e8e" stroke-width="3.0369147721297693" stroke-linecap="round" stroke-linejoin="round" opacity="0.46839638747088513" filter="url(#b1)"/>
<path d="M1410.8,136.3 C1411.2,137.5 1412.9,140.4 1413.2,143.3 C1413.5,146.1 1412.2,149.8 1412.6,153.4 C1412.9,156.9 1413.8,161.5 1415.1,164.6 C1416.4,167.8 1418.4,170.1 1420.4,172.3 C1422.4,174.4 1425.7,176.7 1426.8,177.5" fill="none" stroke="#8e8e8e" stroke-width="2.772202604420241" stroke-linecap="round" stroke-linejoin="round" opacity="0.8095634126801283" filter="url(#b1)"/>
<path d="M1407.5,201.1 C1406.8,202.4 1404.5,206.0 1403.4,209.2 C1402.4,212.4 1401.5,216.9 1401.3,220.2 C1401.2,223.6 1402.1,226.3 1402.6,229.1 C1403.0,231.9 1403.5,234.2 1403.9,237.2 C1404.2,240.2 1405.2,244.1 1404.7,247.0 C1404.2,249.9 1401.5,253.3 1400.9,254.6" fill="none" stroke="#7e7e7e" stroke-width="2.852743213564559" stroke-linecap="round" stroke-linejoin="round" opacity="0.5597921520712911" filter="url(#b1)"/>
<path d="M1632.5,275.7 C1631.7,277.5 1629.3,283.4 1627.6,286.2 C1625.8,288.9 1624.2,290.5 1622.0,292.2 C1619.9,293.8 1617.0,294.3 1614.9,296.0 C1612.8,297.7 1611.8,300.1 1609.4,302.1 C1606.9,304.1 1602.9,306.4 1600.2,307.8 C1597.4,309.2 1595.3,308.8 1593.0,310.5 C1590.6,312.2 1587.1,316.5 1585.9,317.8" fill="none" stroke="#8e8e8e" stroke-width="2.7526585521302493" stroke-linecap="round" stroke-linejoin="round" opacity="0.5735731535810544" filter="url(#b1)"/>
<path d="M1572.5,271.1 C1573.1,272.2 1574.6,274.9 1576.1,277.8 C1577.6,280.7 1579.7,284.9 1581.4,288.5 C1583.0,292.0 1585.2,295.9 1586.1,299.0 C1587.0,302.1 1587.0,304.4 1586.6,307.3 C1586.2,310.2 1585.4,313.3 1583.8,316.3 C1582.3,319.2 1579.1,322.3 1577.5,324.9 C1575.9,327.5 1574.7,330.6 1574.1,331.7" fill="none" stroke="#8e8e8e" stroke-width="3.1732001675702017" stroke-linecap="round" stroke-linejoin="round" opacity="0.5063028060023531" filter="url(#b1)"/>
<path d="M1731.0,268.0 C1732.4,267.7 1737.1,266.9 1739.7,266.0 C1742.3,265.0 1743.9,264.0 1746.4,262.4 C1749.0,260.7 1752.7,258.2 1755.1,256.0 C1757.4,253.7 1758.6,251.2 1760.6,249.0 C1762.6,246.8 1764.7,244.8 1767.1,243.0 C1769.5,241.2 1773.7,238.9 1775.1,238.1" fill="none" stroke="#989898" stroke-width="2.577093760059192" stroke-linecap="round" stroke-linejoin="round" opacity="0.8161023634972637" filter="url(#b1)"/>
<path d="M1280.7,305.6 C1281.5,304.7 1284.2,303.0 1285.4,300.1 C1286.5,297.2 1287.6,291.6 1287.7,288.3 C1287.7,285.0 1286.4,283.1 1285.8,280.4 C1285.2,277.6 1285.0,274.9 1284.1,271.6 C1283.2,268.3 1281.1,263.9 1280.3,260.5 C1279.5,257.0 1279.4,254.2 1279.2,250.8 C1279.0,247.4 1279.0,242.0 1279.0,240.2" fill="none" stroke="#7e7e7e" stroke-width="3.0669544666370574" stroke-linecap="round" stroke-linejoin="round" opacity="0.7119687589973855" filter="url(#b1)"/>
<path d="M1592.8,349.0 C1594.8,348.8 1601.4,347.5 1604.5,347.6 C1607.7,347.7 1609.1,348.5 1611.7,349.6 C1614.4,350.7 1618.2,352.0 1620.4,354.0 C1622.6,356.0 1623.5,359.2 1625.1,361.4 C1626.8,363.7 1629.3,366.5 1630.2,367.6" fill="none" stroke="#8e8e8e" stroke-width="3.0593528655452573" stroke-linecap="round" stroke-linejoin="round" opacity="0.829604315304855" filter="url(#b1)"/>
<path d="M1296.8,75.0 C1298.0,75.7 1301.1,78.3 1303.9,79.2 C1306.7,80.1 1310.3,80.8 1313.6,80.4 C1316.9,80.0 1321.0,78.1 1323.8,76.7 C1326.5,75.2 1329.0,72.5 1330.1,71.7" fill="none" stroke="#868686" stroke-width="2.518043343953155" stroke-linecap="round" stroke-linejoin="round" opacity="0.5814238213728922" filter="url(#b1)"/>
<path d="M1753.8,-3.9 C1755.4,-4.9 1760.5,-7.2 1763.1,-9.8 C1765.7,-12.3 1768.0,-16.2 1769.3,-19.3 C1770.6,-22.3 1769.8,-25.0 1770.9,-27.9 C1771.9,-30.8 1774.8,-33.8 1775.6,-36.7 C1776.3,-39.5 1775.3,-43.6 1775.2,-45.0" fill="none" stroke="#868686" stroke-width="2.820868421278294" stroke-linecap="round" stroke-linejoin="round" opacity="0.7466872227816598" filter="url(#b1)"/>
<path d="M1666.3,174.5 C1667.6,174.2 1671.0,172.9 1674.1,172.2 C1677.1,171.6 1681.2,170.3 1684.6,170.5 C1688.0,170.7 1691.1,172.8 1694.4,173.4 C1697.8,174.0 1702.9,174.0 1704.6,174.1" fill="none" stroke="#8e8e8e" stroke-width="2.7831855287986906" stroke-linecap="round" stroke-linejoin="round" opacity="0.47433016299780234" filter="url(#b1)"/>
<path d="M1471.9,253.7 C1473.1,254.5 1476.6,257.4 1479.0,258.5 C1481.5,259.6 1483.7,259.3 1486.5,260.1 C1489.3,261.0 1493.0,262.1 1495.8,263.5 C1498.6,264.9 1502.0,267.6 1503.3,268.4" fill="none" stroke="#989898" stroke-width="2.88434143322825" stroke-linecap="round" stroke-linejoin="round" opacity="0.6314861670301887" filter="url(#b1)"/>
<path d="M1301.0,259.6 C1302.9,259.2 1308.6,258.4 1312.3,257.6 C1316.0,256.7 1319.6,255.7 1323.0,254.6 C1326.5,253.4 1330.1,252.1 1332.9,250.6 C1335.7,249.2 1337.6,248.1 1340.0,245.9 C1342.5,243.6 1346.4,238.4 1347.7,237.0" fill="none" stroke="#7e7e7e" stroke-width="3.065417510779884" stroke-linecap="round" stroke-linejoin="round" opacity="0.4768533232546591" filter="url(#b1)"/>
<path d="M1297.7,31.4 C1299.3,31.7 1304.5,32.7 1307.4,32.9 C1310.2,33.2 1312.0,33.1 1315.0,32.7 C1317.9,32.3 1321.5,30.9 1325.1,30.7 C1328.7,30.6 1334.5,31.5 1336.4,31.7" fill="none" stroke="#8e8e8e" stroke-width="2.880328072979742" stroke-linecap="round" stroke-linejoin="round" opacity="0.8373594501245898" filter="url(#b1)"/>
<path d="M1443.7,212.9 C1443.0,214.2 1440.9,218.2 1439.5,220.6 C1438.2,222.9 1436.6,224.7 1435.6,227.0 C1434.5,229.4 1433.9,231.9 1433.1,234.8 C1432.3,237.7 1432.1,241.3 1430.8,244.3 C1429.6,247.4 1426.6,251.6 1425.8,253.1" fill="none" stroke="#8e8e8e" stroke-width="2.9262649823991107" stroke-linecap="round" stroke-linejoin="round" opacity="0.6935979662212262" filter="url(#b1)"/>
<path d="M1636.8,5.9 C1638.1,5.7 1641.9,5.8 1644.6,4.7 C1647.4,3.6 1651.0,1.8 1653.4,-0.6 C1655.8,-3.0 1657.0,-7.6 1659.1,-9.7 C1661.1,-11.8 1663.2,-12.0 1665.6,-13.3 C1668.0,-14.5 1671.1,-16.0 1673.5,-17.3 C1676.0,-18.6 1679.2,-20.5 1680.3,-21.1" fill="none" stroke="#989898" stroke-width="3.021468495973393" stroke-linecap="round" stroke-linejoin="round" opacity="0.7386383870970692" filter="url(#b1)"/>
<path d="M1565.7,27.0 C1565.8,28.4 1566.2,32.4 1566.1,35.4 C1566.0,38.3 1565.2,41.8 1564.9,44.7 C1564.6,47.7 1564.8,50.5 1564.3,53.1 C1563.8,55.7 1562.2,59.0 1561.8,60.2" fill="none" stroke="#7e7e7e" stroke-width="2.9425743143468277" stroke-linecap="round" stroke-linejoin="round" opacity="0.49435590888037223" filter="url(#b1)"/>
<path d="M1580.1,193.7 C1580.8,192.4 1583.3,188.7 1584.2,186.2 C1585.1,183.7 1585.5,181.3 1585.6,178.6 C1585.7,175.9 1586.0,172.9 1584.8,170.0 C1583.7,167.1 1579.6,162.8 1578.5,161.3" fill="none" stroke="#868686" stroke-width="2.826065878293939" stroke-linecap="round" stroke-linejoin="round" opacity="0.501674280703686" filter="url(#b1)"/>
<path d="M1375.0,205.6 C1376.2,205.6 1379.4,206.6 1382.2,205.7 C1385.1,204.7 1388.9,201.0 1392.3,199.8 C1395.6,198.6 1398.7,198.8 1402.1,198.5 C1405.4,198.2 1409.6,198.3 1412.6,198.0 C1415.6,197.8 1417.7,198.1 1420.1,197.0 C1422.5,195.9 1424.2,193.1 1426.9,191.7 C1429.6,190.2 1434.8,188.9 1436.4,188.3" fill="none" stroke="#989898" stroke-width="3.0755874878517577" stroke-linecap="round" stroke-linejoin="round" opacity="0.4852519525191539" filter="url(#b1)"/>
<path d="M1382.5,217.0 C1383.8,216.9 1388.0,216.2 1390.6,216.3 C1393.1,216.5 1395.1,217.1 1397.8,218.0 C1400.5,218.8 1403.4,220.8 1406.8,221.4 C1410.1,222.1 1413.9,222.0 1417.6,221.8 C1421.4,221.6 1426.1,220.5 1429.3,220.3 C1432.6,220.1 1435.8,220.5 1437.1,220.5" fill="none" stroke="#8e8e8e" stroke-width="2.5578174422591866" stroke-linecap="round" stroke-linejoin="round" opacity="0.5085776873110778" filter="url(#b1)"/>
<path d="M1585.4,281.6 C1586.7,280.7 1590.5,277.8 1593.4,276.0 C1596.2,274.1 1599.2,271.8 1602.4,270.7 C1605.6,269.7 1609.6,269.3 1612.6,269.7 C1615.6,270.1 1618.2,271.5 1620.4,273.3 C1622.5,275.0 1623.6,277.9 1625.4,280.2 C1627.2,282.6 1629.4,284.7 1631.3,287.5 C1633.3,290.2 1636.1,295.3 1637.0,296.8" fill="none" stroke="#8e8e8e" stroke-width="2.45935252493863" stroke-linecap="round" stroke-linejoin="round" opacity="0.5907768890480306" filter="url(#b1)"/>
<path d="M1505.9,9.2 C1507.4,8.7 1511.9,7.2 1514.9,6.0 C1517.9,4.9 1520.5,3.1 1524.0,2.4 C1527.4,1.7 1531.7,2.1 1535.4,1.8 C1539.2,1.5 1544.6,0.8 1546.4,0.5" fill="none" stroke="#868686" stroke-width="2.7805032223544557" stroke-linecap="round" stroke-linejoin="round" opacity="0.5786107051521714" filter="url(#b1)"/>
<path d="M1330.2,18.3 C1329.3,19.2 1326.7,21.9 1324.9,23.4 C1323.0,25.0 1321.8,26.1 1318.9,27.5 C1316.1,28.9 1311.2,30.6 1307.8,31.8 C1304.4,33.1 1301.6,33.8 1298.3,35.2 C1295.1,36.7 1291.3,38.8 1288.1,40.8 C1285.0,42.7 1280.7,46.0 1279.3,47.1" fill="none" stroke="#8e8e8e" stroke-width="2.9178442855754456" stroke-linecap="round" stroke-linejoin="round" opacity="0.7656907726254658" filter="url(#b1)"/>
<path d="M1282.2,30.6 C1283.6,29.6 1288.1,26.9 1290.1,24.6 C1292.2,22.4 1292.3,19.2 1294.5,17.1 C1296.8,14.9 1300.8,13.7 1303.6,11.8 C1306.4,9.9 1308.8,7.0 1311.6,5.8 C1314.3,4.5 1318.6,4.6 1320.0,4.3" fill="none" stroke="#7e7e7e" stroke-width="2.662781243402867" stroke-linecap="round" stroke-linejoin="round" opacity="0.7073973053445277" filter="url(#b1)"/>
<path d="M1317.2,260.0 C1318.6,260.6 1322.8,262.6 1325.6,263.6 C1328.4,264.6 1331.3,265.6 1334.1,265.8 C1336.9,266.1 1339.3,264.6 1342.1,265.0 C1344.9,265.5 1349.4,268.1 1350.8,268.7" fill="none" stroke="#868686" stroke-width="2.5239561383555236" stroke-linecap="round" stroke-linejoin="round" opacity="0.8499906484412114" filter="url(#b1)"/>
<path d="M1412.1,292.1 C1414.0,292.1 1419.9,291.7 1423.5,291.8 C1427.1,291.9 1430.5,292.9 1433.4,292.7 C1436.4,292.5 1438.1,291.0 1441.0,290.5 C1444.0,290.0 1449.4,289.9 1451.1,289.8" fill="none" stroke="#868686" stroke-width="2.4349539423636113" stroke-linecap="round" stroke-linejoin="round" opacity="0.7384731991221708" filter="url(#b1)"/>
<path d="M1450.8,266.3 C1452.1,265.7 1455.2,263.3 1458.3,262.9 C1461.3,262.4 1466.2,262.9 1469.2,263.7 C1472.1,264.5 1473.7,266.0 1476.1,267.7 C1478.4,269.5 1480.8,272.0 1483.5,274.2 C1486.1,276.4 1489.7,278.4 1492.1,280.8 C1494.4,283.2 1495.8,286.3 1497.5,288.6 C1499.3,290.9 1501.7,293.6 1502.5,294.6" fill="none" stroke="#868686" stroke-width="2.510718827682745" stroke-linecap="round" stroke-linejoin="round" opacity="0.770503689660619" filter="url(#b1)"/>
<path d="M1386.3,236.7 C1387.8,236.8 1393.1,237.5 1395.8,237.1 C1398.6,236.7 1400.4,235.9 1402.7,234.4 C1405.0,232.9 1407.0,230.4 1409.5,228.1 C1412.0,225.8 1416.4,221.8 1417.8,220.6" fill="none" stroke="#8e8e8e" stroke-width="2.5776304055255843" stroke-linecap="round" stroke-linejoin="round" opacity="0.8285653052047042" filter="url(#b1)"/>
<path d="M1499.9,126.8 C1501.0,128.4 1504.7,134.1 1506.7,136.7 C1508.6,139.2 1510.2,139.2 1511.5,141.9 C1512.8,144.6 1513.8,149.1 1514.5,152.7 C1515.1,156.3 1514.7,160.6 1515.6,163.6 C1516.4,166.7 1518.7,168.1 1519.6,171.0 C1520.5,174.0 1520.8,179.7 1521.1,181.4" fill="none" stroke="#868686" stroke-width="2.775288101724395" stroke-linecap="round" stroke-linejoin="round" opacity="0.7535364619062428" filter="url(#b1)"/>
<path d="M1592.7,336.5 C1592.9,338.3 1593.8,344.0 1594.2,347.0 C1594.6,350.0 1594.5,352.0 1595.1,354.5 C1595.7,357.1 1596.4,360.2 1598.0,362.5 C1599.6,364.9 1602.9,366.2 1604.8,368.6 C1606.7,370.9 1608.6,375.3 1609.4,376.6" fill="none" stroke="#8e8e8e" stroke-width="2.799863377790088" stroke-linecap="round" stroke-linejoin="round" opacity="0.7846750882421341" filter="url(#b1)"/>
<path d="M1547.9,233.2 C1549.5,233.1 1554.8,232.9 1557.9,232.1 C1561.0,231.4 1563.7,229.5 1566.3,228.7 C1568.9,227.8 1571.2,227.0 1573.5,227.1 C1575.9,227.2 1577.9,228.4 1580.5,229.3 C1583.2,230.2 1587.0,230.7 1589.5,232.5 C1592.1,234.2 1594.7,238.7 1595.8,240.0" fill="none" stroke="#7e7e7e" stroke-width="2.4348275401334214" stroke-linecap="round" stroke-linejoin="round" opacity="0.799332575411007" filter="url(#b1)"/>
<path d="M1463.6,135.7 C1465.1,134.8 1469.5,131.7 1472.6,130.0 C1475.8,128.3 1479.4,126.6 1482.5,125.6 C1485.6,124.6 1488.4,125.4 1491.1,124.2 C1493.8,122.9 1497.4,119.2 1498.7,118.2" fill="none" stroke="#868686" stroke-width="2.9477460531271866" stroke-linecap="round" stroke-linejoin="round" opacity="0.7821534627054411" filter="url(#b1)"/>
<path d="M1799.2,175.4 C1800.1,176.4 1803.0,178.5 1804.7,181.2 C1806.5,183.9 1807.9,188.6 1809.6,191.5 C1811.3,194.4 1812.7,195.8 1814.8,198.3 C1816.9,200.8 1820.3,204.2 1822.4,206.4 C1824.5,208.5 1825.8,209.4 1827.5,211.4 C1829.2,213.4 1831.4,215.9 1832.5,218.2 C1833.6,220.6 1833.8,224.1 1834.1,225.3" fill="none" stroke="#989898" stroke-width="3.039473929214592" stroke-linecap="round" stroke-linejoin="round" opacity="0.5592866424455494" filter="url(#b1)"/>
<path d="M1491.9,145.8 C1493.1,146.9 1496.3,149.8 1499.0,152.1 C1501.6,154.4 1504.9,157.3 1507.7,159.8 C1510.5,162.3 1513.7,165.0 1515.7,167.3 C1517.8,169.6 1518.3,170.8 1519.8,173.5 C1521.3,176.2 1523.3,180.5 1524.7,183.4 C1526.1,186.4 1527.6,190.0 1528.2,191.3" fill="none" stroke="#8e8e8e" stroke-width="2.6365119594722737" stroke-linecap="round" stroke-linejoin="round" opacity="0.5811679621366239" filter="url(#b1)"/>
<path d="M1496.9,265.6 C1497.9,267.2 1500.5,272.1 1502.8,275.3 C1505.1,278.4 1507.7,281.7 1510.6,284.4 C1513.5,287.1 1518.1,289.1 1520.3,291.3 C1522.4,293.6 1522.6,295.4 1523.5,297.9 C1524.5,300.4 1525.8,303.2 1526.2,306.3 C1526.6,309.4 1526.7,313.9 1526.0,316.7 C1525.3,319.6 1522.8,322.3 1522.2,323.4" fill="none" stroke="#7e7e7e" stroke-width="2.453786690449687" stroke-linecap="round" stroke-linejoin="round" opacity="0.4639195863194168" filter="url(#b1)"/>
<path d="M1684.9,133.1 C1686.8,133.1 1692.9,133.5 1696.6,133.3 C1700.3,133.1 1703.9,132.2 1707.3,131.9 C1710.7,131.6 1713.7,131.8 1717.0,131.5 C1720.3,131.1 1724.3,130.7 1727.1,129.9 C1729.9,129.1 1732.8,127.2 1734.0,126.7" fill="none" stroke="#868686" stroke-width="2.709589904031411" stroke-linecap="round" stroke-linejoin="round" opacity="0.6496175841025867" filter="url(#b1)"/>
<path d="M1562.3,93.7 C1564.3,93.5 1571.1,93.3 1574.3,92.6 C1577.4,91.9 1579.3,91.0 1581.3,89.5 C1583.3,87.9 1583.8,85.6 1586.3,83.4 C1588.7,81.1 1592.3,77.9 1595.8,76.1 C1599.2,74.3 1603.5,72.7 1607.0,72.4 C1610.6,72.2 1615.4,74.3 1617.1,74.7" fill="none" stroke="#8e8e8e" stroke-width="2.6322898262222507" stroke-linecap="round" stroke-linejoin="round" opacity="0.6699988589947562" filter="url(#b1)"/>
<path d="M1414.5,54.4 C1416.0,54.8 1420.8,56.7 1423.7,57.0 C1426.5,57.2 1428.7,56.9 1431.6,55.8 C1434.5,54.7 1438.6,52.5 1441.0,50.2 C1443.3,47.8 1444.3,44.8 1445.7,41.6 C1447.2,38.5 1449.0,33.1 1449.7,31.4" fill="none" stroke="#868686" stroke-width="2.468972385321546" stroke-linecap="round" stroke-linejoin="round" opacity="0.6947793450482084" filter="url(#b1)"/>
<path d="M1419.7,371.8 C1421.0,372.0 1424.5,371.6 1427.1,372.8 C1429.6,374.0 1432.4,377.0 1435.2,379.0 C1438.0,381.0 1440.6,383.1 1443.8,384.8 C1446.9,386.6 1451.2,387.6 1454.2,389.5 C1457.2,391.5 1458.6,394.5 1461.7,396.4 C1464.8,398.2 1469.0,399.5 1472.7,400.8 C1476.4,402.1 1481.9,403.7 1483.7,404.3" fill="none" stroke="#8e8e8e" stroke-width="2.814481706339213" stroke-linecap="round" stroke-linejoin="round" opacity="0.7825563225870165" filter="url(#b1)"/>
<path d="M1416.8,56.1 C1418.2,55.9 1422.0,55.1 1425.0,54.9 C1428.0,54.7 1431.8,55.5 1434.8,54.9 C1437.7,54.4 1439.8,52.7 1442.6,51.5 C1445.3,50.4 1448.5,50.0 1451.4,48.1 C1454.4,46.2 1457.9,43.1 1460.1,40.2 C1462.3,37.4 1463.9,32.5 1464.6,31.0" fill="none" stroke="#989898" stroke-width="2.8508944275450365" stroke-linecap="round" stroke-linejoin="round" opacity="0.7870120016453556" filter="url(#b1)"/>
<path d="M1711.3,5.7 C1710.8,7.4 1709.2,12.7 1708.4,16.2 C1707.7,19.6 1707.2,22.9 1706.7,26.2 C1706.1,29.5 1705.1,32.6 1704.9,36.2 C1704.8,39.8 1705.4,44.2 1705.6,47.9 C1705.9,51.7 1706.5,55.7 1706.5,58.9 C1706.5,62.2 1705.6,66.0 1705.4,67.4" fill="none" stroke="#8e8e8e" stroke-width="2.5264643576121655" stroke-linecap="round" stroke-linejoin="round" opacity="0.7254454286691934" filter="url(#b1)"/>
<path d="M1479.8,170.1 C1481.6,169.5 1487.4,166.7 1490.4,166.2 C1493.5,165.8 1495.1,167.3 1498.0,167.6 C1500.9,167.8 1504.6,168.1 1507.8,167.9 C1511.0,167.7 1514.2,167.1 1517.0,166.3 C1519.8,165.5 1522.3,164.6 1524.5,162.9 C1526.7,161.3 1529.1,157.6 1530.0,156.5" fill="none" stroke="#7e7e7e" stroke-width="2.734507794667901" stroke-linecap="round" stroke-linejoin="round" opacity="0.7956655401449724" filter="url(#b1)"/>
<path d="M1788.9,335.2 C1790.2,335.0 1793.9,333.6 1796.6,333.9 C1799.3,334.3 1802.7,335.8 1805.3,337.5 C1807.8,339.2 1809.3,342.7 1811.8,344.3 C1814.3,346.0 1817.5,346.5 1820.2,347.4 C1822.9,348.4 1825.6,349.0 1828.1,349.9 C1830.5,350.8 1833.6,352.3 1834.7,352.7" fill="none" stroke="#989898" stroke-width="3.105871581094561" stroke-linecap="round" stroke-linejoin="round" opacity="0.6479576814100705" filter="url(#b1)"/>
<path d="M1614.7,172.4 C1616.0,172.0 1619.9,171.0 1622.6,169.9 C1625.3,168.8 1628.6,167.6 1630.7,166.0 C1632.8,164.3 1633.3,162.2 1634.9,160.0 C1636.5,157.9 1638.9,155.7 1640.5,153.2 C1642.1,150.7 1643.1,148.0 1644.4,145.2 C1645.7,142.4 1646.4,138.9 1648.2,136.2 C1650.0,133.5 1654.0,130.1 1655.1,128.8" fill="none" stroke="#8e8e8e" stroke-width="2.477345188819788" stroke-linecap="round" stroke-linejoin="round" opacity="0.5014653562756861" filter="url(#b1)"/>
<path d="M1455.9,367.0 C1457.1,366.0 1461.0,362.6 1463.1,360.8 C1465.2,358.9 1467.0,358.1 1468.5,356.0 C1470.1,353.9 1471.1,350.9 1472.3,348.2 C1473.6,345.5 1474.7,342.6 1476.2,339.8 C1477.7,337.0 1480.3,333.0 1481.1,331.6" fill="none" stroke="#989898" stroke-width="2.6548240254074456" stroke-linecap="round" stroke-linejoin="round" opacity="0.8225474942119959" filter="url(#b1)"/>
<path d="M1467.0,227.4 C1468.4,227.5 1472.7,227.3 1475.5,228.0 C1478.3,228.7 1480.6,229.9 1483.6,231.7 C1486.5,233.4 1490.3,236.2 1493.3,238.5 C1496.3,240.8 1499.3,243.0 1501.7,245.6 C1504.1,248.2 1505.3,252.0 1507.7,254.1 C1510.2,256.2 1513.8,255.9 1516.3,258.0 C1518.7,260.1 1521.6,265.4 1522.6,266.9" fill="none" stroke="#868686" stroke-width="2.866818621638112" stroke-linecap="round" stroke-linejoin="round" opacity="0.7385600449185227" filter="url(#b1)"/>
<path d="M1341.3,232.1 C1342.6,232.7 1346.0,234.2 1348.8,235.7 C1351.5,237.1 1354.8,239.8 1357.8,240.9 C1360.9,242.1 1363.9,242.2 1366.9,242.6 C1369.9,243.1 1372.9,243.7 1375.9,243.5 C1379.0,243.3 1383.6,241.7 1385.2,241.3" fill="none" stroke="#7e7e7e" stroke-width="2.9886698170149453" stroke-linecap="round" stroke-linejoin="round" opacity="0.7991270835649281" filter="url(#b1)"/>
<path d="M1280.2,47.1 C1280.3,48.5 1280.0,52.4 1281.0,55.6 C1282.0,58.7 1284.4,63.1 1286.1,66.0 C1287.8,68.9 1289.8,70.2 1291.2,73.1 C1292.6,75.9 1293.8,79.7 1294.6,83.1 C1295.5,86.5 1296.0,90.4 1296.4,93.4 C1296.8,96.5 1296.2,98.5 1296.8,101.4 C1297.4,104.3 1299.4,109.1 1300.0,110.7" fill="none" stroke="#868686" stroke-width="3.1858082371807965" stroke-linecap="round" stroke-linejoin="round" opacity="0.8265942185309845" filter="url(#b1)"/>
<path d="M1680.7,260.7 C1682.5,259.9 1688.2,256.9 1691.3,255.9 C1694.5,255.0 1696.8,256.1 1699.7,255.1 C1702.5,254.1 1705.6,252.0 1708.7,249.9 C1711.8,247.9 1714.7,244.5 1718.1,242.7 C1721.6,240.9 1726.1,239.8 1729.4,239.2 C1732.7,238.7 1734.7,239.8 1737.8,239.5 C1741.0,239.2 1746.5,237.8 1748.2,237.4" fill="none" stroke="#989898" stroke-width="2.924777640440726" stroke-linecap="round" stroke-linejoin="round" opacity="0.8196038527559522" filter="url(#b1)"/>
<path d="M1667.2,75.7 C1668.3,74.4 1671.6,70.2 1673.7,67.9 C1675.7,65.7 1677.2,64.0 1679.5,62.1 C1681.8,60.3 1685.1,58.1 1687.5,56.7 C1689.9,55.3 1691.5,55.0 1694.1,53.6 C1696.7,52.2 1700.6,50.6 1703.1,48.2 C1705.7,45.8 1708.2,40.7 1709.2,39.2" fill="none" stroke="#8e8e8e" stroke-width="3.18232856946647" stroke-linecap="round" stroke-linejoin="round" opacity="0.8358075068901556" filter="url(#b1)"/>
<path d="M1334.2,241.1 C1335.6,241.2 1340.1,241.5 1342.7,241.2 C1345.3,240.9 1346.9,239.7 1349.8,239.5 C1352.7,239.4 1356.6,240.5 1360.0,240.2 C1363.5,239.9 1367.5,238.0 1370.4,237.8 C1373.4,237.6 1376.3,238.8 1377.5,238.9" fill="none" stroke="#868686" stroke-width="3.0700839112746046" stroke-linecap="round" stroke-linejoin="round" opacity="0.6171539928980021" filter="url(#b1)"/>
<path d="M1772.7,8.7 C1774.4,9.7 1780.2,12.0 1782.9,14.6 C1785.7,17.1 1786.7,21.8 1789.2,24.0 C1791.7,26.3 1794.6,27.6 1798.1,28.3 C1801.5,29.0 1806.1,28.9 1810.0,28.5 C1813.9,28.1 1819.7,26.3 1821.6,25.9" fill="none" stroke="#7e7e7e" stroke-width="2.507359956807254" stroke-linecap="round" stroke-linejoin="round" opacity="0.8057039855079666" filter="url(#b1)"/>
<path d="M1529.9,97.9 C1531.6,97.4 1537.4,96.7 1540.1,95.2 C1542.9,93.7 1544.3,91.5 1546.2,89.0 C1548.2,86.5 1550.4,83.3 1551.7,80.2 C1553.0,77.1 1553.0,73.4 1553.9,70.4 C1554.8,67.3 1556.2,64.7 1557.1,61.9 C1558.1,59.2 1559.0,56.3 1559.6,53.7 C1560.2,51.1 1560.7,47.5 1560.9,46.3" fill="none" stroke="#868686" stroke-width="3.148660309601111" stroke-linecap="round" stroke-linejoin="round" opacity="0.6409816393959572" filter="url(#b1)"/>
<path d="M1248.9,139.6 C1250.2,138.5 1255.1,135.5 1257.0,132.8 C1258.9,130.0 1259.1,125.7 1260.3,123.1 C1261.5,120.4 1263.3,119.3 1264.1,116.8 C1264.9,114.3 1265.0,111.3 1265.2,108.3 C1265.4,105.3 1264.6,102.0 1265.4,98.8 C1266.2,95.7 1269.2,91.0 1270.0,89.4" fill="none" stroke="#989898" stroke-width="2.910969060159507" stroke-linecap="round" stroke-linejoin="round" opacity="0.7261161509675256" filter="url(#b1)"/>
<path d="M1776.5,133.6 C1776.6,135.4 1777.1,141.0 1777.1,144.3 C1777.1,147.6 1776.9,150.3 1776.6,153.3 C1776.4,156.4 1776.0,159.4 1775.6,162.6 C1775.2,165.9 1774.1,169.8 1774.1,172.9 C1774.0,175.9 1775.4,177.7 1775.4,181.0 C1775.4,184.2 1773.7,188.9 1774.0,192.3 C1774.3,195.6 1776.5,199.5 1777.1,201.0" fill="none" stroke="#989898" stroke-width="2.8513349778187798" stroke-linecap="round" stroke-linejoin="round" opacity="0.4812410888589761" filter="url(#b1)"/>
<path d="M1279.9,201.5 C1281.5,200.5 1286.5,197.6 1289.5,195.6 C1292.6,193.6 1295.2,191.2 1298.0,189.6 C1300.9,188.1 1303.8,186.7 1306.8,186.2 C1309.8,185.7 1313.4,187.3 1316.1,186.8 C1318.8,186.4 1321.9,184.2 1323.0,183.7" fill="none" stroke="#7e7e7e" stroke-width="2.4461894247460196" stroke-linecap="round" stroke-linejoin="round" opacity="0.6327193902847504" filter="url(#b1)"/>
<path d="M1506.2,299.2 C1507.9,299.1 1513.2,299.3 1516.1,298.4 C1519.0,297.4 1521.2,296.1 1523.4,293.6 C1525.6,291.0 1527.2,285.5 1529.2,283.1 C1531.2,280.7 1534.3,279.7 1535.3,279.0" fill="none" stroke="#7e7e7e" stroke-width="2.7270935486553984" stroke-linecap="round" stroke-linejoin="round" opacity="0.4626939484092316" filter="url(#b1)"/>
<path d="M1679.5,283.7 C1681.3,283.3 1686.9,282.0 1690.6,281.0 C1694.3,279.9 1698.7,278.6 1701.7,277.6 C1704.6,276.5 1705.4,274.8 1708.4,274.4 C1711.4,274.1 1716.0,275.8 1719.7,275.3 C1723.4,274.9 1727.2,273.7 1730.4,271.7 C1733.7,269.7 1736.9,265.9 1739.2,263.6 C1741.5,261.3 1743.3,258.7 1744.2,257.8" fill="none" stroke="#868686" stroke-width="3.004943531887146" stroke-linecap="round" stroke-linejoin="round" opacity="0.7839286446674862" filter="url(#b1)"/>
<path d="M1797.8,169.6 C1799.2,169.6 1803.3,170.0 1806.1,169.8 C1808.8,169.6 1811.3,168.2 1814.4,168.6 C1817.4,169.0 1820.9,171.8 1824.4,172.2 C1827.9,172.6 1831.8,171.7 1835.4,171.3 C1839.0,170.8 1843.1,169.4 1846.1,169.4 C1849.0,169.4 1850.5,171.0 1852.9,171.1 C1855.3,171.3 1859.2,170.7 1860.4,170.6" fill="none" stroke="#8e8e8e" stroke-width="2.9376189094977754" stroke-linecap="round" stroke-linejoin="round" opacity="0.6285764264994409" filter="url(#b1)"/>
<path d="M1737.8,87.3 C1737.4,89.0 1735.4,94.1 1735.2,97.8 C1735.1,101.6 1736.0,106.0 1737.1,109.7 C1738.3,113.4 1740.8,116.8 1742.2,120.1 C1743.6,123.4 1745.0,125.9 1745.7,129.3 C1746.5,132.7 1746.4,138.5 1746.5,140.4" fill="none" stroke="#868686" stroke-width="2.514608347330663" stroke-linecap="round" stroke-linejoin="round" opacity="0.5707057740576813" filter="url(#b1)"/>
<path d="M1618.0,78.3 C1619.3,77.5 1622.8,75.4 1625.8,73.6 C1628.8,71.7 1632.5,68.5 1635.9,67.3 C1639.3,66.1 1643.1,66.4 1646.2,66.6 C1649.3,66.8 1651.9,68.1 1654.6,68.7 C1657.2,69.2 1660.9,69.6 1662.2,69.8" fill="none" stroke="#7e7e7e" stroke-width="2.8303426115126538" stroke-linecap="round" stroke-linejoin="round" opacity="0.5235515914988997" filter="url(#b1)"/>
<path d="M1381.1,80.0 C1382.8,79.7 1387.7,78.2 1390.8,78.5 C1394.0,78.8 1397.1,81.5 1400.0,82.0 C1402.9,82.5 1405.2,82.3 1408.2,81.7 C1411.2,81.0 1414.3,78.5 1417.8,78.0 C1421.2,77.6 1425.4,79.6 1428.9,79.2 C1432.5,78.8 1436.2,77.0 1438.9,75.6 C1441.7,74.1 1444.3,71.1 1445.4,70.3" fill="none" stroke="#8e8e8e" stroke-width="2.5505306351462043" stroke-linecap="round" stroke-linejoin="round" opacity="0.7994481833958158" filter="url(#b1)"/>
<path d="M1675.4,268.1 C1677.1,267.2 1682.9,264.5 1685.6,262.7 C1688.2,260.8 1688.6,258.8 1691.1,256.9 C1693.5,255.1 1696.9,252.8 1700.3,251.4 C1703.7,250.0 1707.9,249.0 1711.5,248.5 C1715.1,247.9 1718.9,248.3 1722.0,248.0 C1725.1,247.7 1728.7,246.9 1730.1,246.7" fill="none" stroke="#989898" stroke-width="2.704529395498338" stroke-linecap="round" stroke-linejoin="round" opacity="0.7602055528255081" filter="url(#b1)"/>
<path d="M1546.5,130.4 C1548.3,129.9 1553.5,128.0 1557.1,127.5 C1560.7,126.9 1564.8,127.5 1567.9,127.1 C1571.0,126.8 1573.3,126.1 1575.7,125.3 C1578.1,124.5 1579.4,122.9 1582.3,122.3 C1585.2,121.7 1589.8,122.9 1593.0,121.9 C1596.1,121.0 1598.3,118.4 1601.2,116.7 C1604.2,115.0 1609.1,112.7 1610.7,111.9" fill="none" stroke="#989898" stroke-width="2.663892228782288" stroke-linecap="round" stroke-linejoin="round" opacity="0.5109645640736573" filter="url(#b1)"/>
<path d="M1459.6,309.2 C1461.3,308.5 1466.6,305.6 1470.0,305.2 C1473.4,304.8 1477.1,306.3 1480.1,306.8 C1483.1,307.2 1485.4,307.1 1487.9,307.9 C1490.3,308.6 1492.5,309.8 1494.9,311.4 C1497.2,313.0 1500.2,315.0 1502.0,317.5 C1503.9,320.0 1505.2,325.0 1505.9,326.5" fill="none" stroke="#8e8e8e" stroke-width="3.071254794875964" stroke-linecap="round" stroke-linejoin="round" opacity="0.6595777661616318" filter="url(#b1)"/>
<path d="M1287.0,303.4 C1287.0,304.7 1287.1,309.0 1286.7,311.5 C1286.4,314.0 1285.6,315.8 1284.9,318.3 C1284.2,320.9 1283.7,323.9 1282.6,326.9 C1281.6,329.9 1280.1,333.5 1278.6,336.4 C1277.2,339.4 1274.7,343.2 1273.9,344.6" fill="none" stroke="#7e7e7e" stroke-width="2.8257699880101894" stroke-linecap="round" stroke-linejoin="round" opacity="0.4562927067476879" filter="url(#b1)"/>
<path d="M1477.4,1.3 C1478.8,0.1 1482.6,-4.0 1485.5,-6.2 C1488.5,-8.4 1492.1,-10.9 1494.9,-12.0 C1497.7,-13.1 1500.1,-12.0 1502.4,-12.8 C1504.8,-13.6 1506.9,-14.9 1509.0,-16.8 C1511.1,-18.7 1512.9,-22.3 1515.1,-24.3 C1517.3,-26.2 1521.1,-27.8 1522.3,-28.6" fill="none" stroke="#7e7e7e" stroke-width="3.167438235318824" stroke-linecap="round" stroke-linejoin="round" opacity="0.48160769752577415" filter="url(#b1)"/>
<path d="M1504.3,86.7 C1506.1,86.2 1512.1,84.1 1515.2,83.6 C1518.2,83.0 1519.8,83.8 1522.6,83.6 C1525.5,83.4 1529.8,83.2 1532.3,82.3 C1534.9,81.5 1537.1,79.0 1538.1,78.3" fill="none" stroke="#868686" stroke-width="3.0762638356322625" stroke-linecap="round" stroke-linejoin="round" opacity="0.4830744490023207" filter="url(#b1)"/>
<path d="M1609.4,119.9 C1611.3,119.7 1617.3,119.0 1620.8,119.0 C1624.4,119.1 1627.0,120.4 1630.6,120.4 C1634.1,120.4 1638.8,119.2 1642.1,119.1 C1645.5,119.0 1649.1,119.7 1650.5,119.8" fill="none" stroke="#8e8e8e" stroke-width="3.0803420800833985" stroke-linecap="round" stroke-linejoin="round" opacity="0.5217418012880276" filter="url(#b1)"/>
<path d="M1253.8,73.1 C1252.9,74.2 1250.4,77.4 1248.4,79.6 C1246.4,81.9 1244.3,84.8 1241.6,86.7 C1238.9,88.6 1235.1,89.7 1232.1,90.9 C1229.1,92.2 1227.0,93.5 1223.8,94.2 C1220.6,94.9 1215.9,95.3 1212.9,95.4 C1209.9,95.5 1208.1,95.3 1205.6,94.7 C1203.0,94.1 1198.8,92.1 1197.4,91.6" fill="none" stroke="#8e8e8e" stroke-width="3.0709397260905402" stroke-linecap="round" stroke-linejoin="round" opacity="0.6248353011373997" filter="url(#b1)"/>
<path d="M1437.4,284.9 C1438.3,283.8 1440.4,280.1 1442.8,278.5 C1445.2,276.9 1448.6,276.9 1451.8,275.5 C1455.0,274.0 1458.9,271.8 1462.1,270.0 C1465.3,268.1 1468.3,265.8 1470.9,264.4 C1473.5,263.0 1474.9,262.6 1477.8,261.6 C1480.7,260.7 1486.7,259.3 1488.4,258.9" fill="none" stroke="#8e8e8e" stroke-width="2.5233767710924146" stroke-linecap="round" stroke-linejoin="round" opacity="0.4828152038692594" filter="url(#b1)"/>
<path d="M1647.1,234.0 C1648.3,232.5 1652.2,227.9 1654.5,224.9 C1656.8,222.0 1659.6,218.9 1660.9,216.2 C1662.2,213.5 1661.9,211.7 1662.3,208.9 C1662.7,206.0 1663.2,200.8 1663.4,199.2" fill="none" stroke="#7e7e7e" stroke-width="2.47169507356831" stroke-linecap="round" stroke-linejoin="round" opacity="0.4913171709366497" filter="url(#b1)"/>
<path d="M1558.1,220.0 C1559.6,219.9 1563.9,220.2 1567.0,219.0 C1570.1,217.8 1573.1,214.1 1576.7,212.8 C1580.3,211.5 1585.2,211.6 1588.5,211.3 C1591.8,211.0 1595.0,211.0 1596.3,210.9" fill="none" stroke="#7e7e7e" stroke-width="2.615135170824118" stroke-linecap="round" stroke-linejoin="round" opacity="0.5178006980980636" filter="url(#b1)"/>
<path d="M1396.6,50.0 C1396.9,51.2 1397.1,54.8 1397.9,57.3 C1398.7,59.7 1400.4,61.9 1401.5,64.7 C1402.6,67.5 1403.3,71.6 1404.5,74.2 C1405.8,76.8 1406.8,77.9 1409.1,80.2 C1411.3,82.5 1415.0,85.8 1418.0,87.9 C1420.9,90.0 1425.2,92.1 1426.7,93.0" fill="none" stroke="#989898" stroke-width="2.744492976757738" stroke-linecap="round" stroke-linejoin="round" opacity="0.6260891685925013" filter="url(#b1)"/>
<path d="M1710.3,240.4 C1711.5,239.8 1715.0,238.2 1717.3,236.8 C1719.7,235.5 1721.7,233.4 1724.5,232.1 C1727.3,230.8 1730.7,229.1 1734.1,228.8 C1737.5,228.6 1741.6,230.6 1744.8,230.9 C1748.0,231.2 1751.8,230.9 1753.2,230.9" fill="none" stroke="#7e7e7e" stroke-width="3.1456537220707568" stroke-linecap="round" stroke-linejoin="round" opacity="0.596006214958095" filter="url(#b1)"/>
<path d="M1357.9,371.0 C1356.9,372.2 1354.2,376.0 1352.0,378.2 C1349.8,380.3 1347.0,381.5 1344.7,383.8 C1342.4,386.1 1340.8,389.6 1338.1,391.9 C1335.4,394.2 1330.2,396.5 1328.6,397.5" fill="none" stroke="#7e7e7e" stroke-width="2.511343298157072" stroke-linecap="round" stroke-linejoin="round" opacity="0.7191910609582162" filter="url(#b1)"/>
<path d="M1416.1,90.3 C1417.1,92.0 1420.3,97.6 1422.1,100.6 C1423.8,103.6 1425.0,105.4 1426.7,108.3 C1428.5,111.3 1431.2,115.1 1432.7,118.3 C1434.2,121.5 1435.3,124.5 1435.8,127.5 C1436.3,130.5 1436.5,133.3 1435.9,136.3 C1435.2,139.2 1433.2,142.6 1431.9,145.1 C1430.5,147.6 1428.5,150.3 1427.8,151.3" fill="none" stroke="#868686" stroke-width="2.6840070555587916" stroke-linecap="round" stroke-linejoin="round" opacity="0.7130406578323063" filter="url(#b1)"/>
<path d="M1610.6,11.7 C1611.9,12.3 1616.2,13.9 1618.4,15.4 C1620.6,16.9 1621.6,19.3 1623.8,20.6 C1626.0,21.9 1628.9,21.9 1631.5,23.2 C1634.1,24.6 1637.3,26.8 1639.6,28.7 C1641.9,30.6 1643.1,32.6 1645.2,34.5 C1647.4,36.5 1650.2,38.0 1652.5,40.3 C1654.9,42.6 1658.2,46.9 1659.3,48.2" fill="none" stroke="#868686" stroke-width="2.4196501224206153" stroke-linecap="round" stroke-linejoin="round" opacity="0.5879869550398074" filter="url(#b1)"/>
<path d="M1304.1,151.8 C1305.1,150.8 1307.7,147.4 1310.1,145.6 C1312.6,143.8 1316.2,142.6 1318.6,141.1 C1321.0,139.6 1322.2,137.9 1324.6,136.5 C1327.0,135.1 1330.9,134.4 1333.1,132.8 C1335.2,131.3 1336.9,128.1 1337.6,127.2" fill="none" stroke="#8e8e8e" stroke-width="2.674462358045399" stroke-linecap="round" stroke-linejoin="round" opacity="0.45903404608124493" filter="url(#b1)"/>
<path d="M1306.8,296.6 C1308.2,296.7 1312.4,297.0 1315.4,297.0 C1318.4,297.0 1321.6,296.3 1324.7,296.7 C1327.9,297.2 1331.1,299.3 1334.5,299.7 C1337.8,300.1 1341.3,299.5 1344.7,299.1 C1348.2,298.8 1353.5,297.7 1355.3,297.4" fill="none" stroke="#868686" stroke-width="2.743642272882675" stroke-linecap="round" stroke-linejoin="round" opacity="0.6298300045496319" filter="url(#b1)"/>
<path d="M1247.5,76.0 C1249.3,76.0 1255.2,76.2 1258.5,76.4 C1261.8,76.6 1264.6,77.3 1267.3,77.1 C1270.0,76.9 1271.8,75.6 1274.6,75.2 C1277.4,74.8 1282.5,74.7 1284.1,74.6" fill="none" stroke="#989898" stroke-width="2.8890467369112014" stroke-linecap="round" stroke-linejoin="round" opacity="0.6887883317131974" filter="url(#b1)"/>
<path d="M1576.7,126.2 C1578.2,126.7 1583.3,128.1 1586.1,129.4 C1588.9,130.6 1591.1,132.6 1593.5,133.6 C1596.0,134.6 1598.4,134.9 1600.9,135.3 C1603.4,135.7 1605.6,136.0 1608.6,136.0 C1611.5,136.1 1615.4,135.7 1618.6,135.7 C1621.7,135.7 1626.1,136.1 1627.7,136.2" fill="none" stroke="#7e7e7e" stroke-width="2.9547463412234842" stroke-linecap="round" stroke-linejoin="round" opacity="0.704200656823454" filter="url(#b1)"/>
<path d="M1609.6,372.0 C1611.1,370.9 1615.6,367.5 1618.8,365.6 C1622.0,363.7 1625.6,361.3 1628.9,360.4 C1632.1,359.6 1635.3,361.1 1638.3,360.7 C1641.3,360.2 1643.7,358.8 1646.8,357.9 C1649.9,357.0 1655.1,355.9 1656.8,355.4" fill="none" stroke="#7e7e7e" stroke-width="2.7325043482192894" stroke-linecap="round" stroke-linejoin="round" opacity="0.7238786682239946" filter="url(#b1)"/>
<path d="M1719.5,179.2 C1720.3,180.4 1722.6,184.0 1724.0,186.3 C1725.3,188.7 1726.2,190.5 1727.8,193.2 C1729.4,195.8 1732.2,199.2 1733.5,202.2 C1734.9,205.3 1734.9,209.1 1736.1,211.6 C1737.4,214.2 1740.2,216.5 1741.0,217.4" fill="none" stroke="#989898" stroke-width="3.0054289939499528" stroke-linecap="round" stroke-linejoin="round" opacity="0.6668173516470519" filter="url(#b1)"/>
<path d="M1674.4,161.4 C1674.9,163.3 1676.6,169.6 1677.7,172.9 C1678.7,176.2 1680.0,178.3 1680.5,181.2 C1680.9,184.1 1681.3,187.3 1680.3,190.4 C1679.3,193.5 1676.0,196.3 1674.5,199.6 C1673.1,202.9 1672.1,208.5 1671.6,210.3" fill="none" stroke="#989898" stroke-width="2.8882094420955817" stroke-linecap="round" stroke-linejoin="round" opacity="0.7944194785080967" filter="url(#b1)"/>
<path d="M1486.9,227.3 C1488.5,227.5 1493.6,228.1 1496.5,228.6 C1499.3,229.2 1501.8,229.3 1504.1,230.6 C1506.4,231.9 1507.8,234.0 1510.1,236.5 C1512.4,238.9 1516.6,243.9 1517.9,245.3" fill="none" stroke="#8e8e8e" stroke-width="3.000075309191293" stroke-linecap="round" stroke-linejoin="round" opacity="0.5042355625712036" filter="url(#b1)"/>
<path d="M1477.6,17.4 C1479.2,16.7 1484.0,14.2 1487.4,13.5 C1490.8,12.9 1494.9,13.2 1498.2,13.5 C1501.6,13.7 1504.6,14.5 1507.5,15.2 C1510.4,15.9 1512.7,16.8 1515.5,17.4 C1518.4,18.1 1523.1,18.8 1524.6,19.1" fill="none" stroke="#8e8e8e" stroke-width="2.999841906298552" stroke-linecap="round" stroke-linejoin="round" opacity="0.6111403093207284" filter="url(#b1)"/>
<path d="M1637.5,325.7 C1639.4,326.0 1644.9,327.7 1648.6,327.4 C1652.4,327.0 1656.3,324.7 1659.9,323.8 C1663.6,323.0 1666.8,322.0 1670.3,322.2 C1673.8,322.3 1679.2,324.3 1681.0,324.7" fill="none" stroke="#7e7e7e" stroke-width="2.743714480548189" stroke-linecap="round" stroke-linejoin="round" opacity="0.5371319740060824" filter="url(#b1)"/>
<path d="M1364.7,96.2 C1366.2,95.7 1370.6,94.5 1373.6,93.1 C1376.6,91.7 1380.5,89.9 1382.7,88.0 C1384.8,86.1 1384.8,83.7 1386.7,81.7 C1388.5,79.6 1391.8,78.4 1393.8,75.7 C1395.8,73.0 1398.0,67.3 1398.8,65.6" fill="none" stroke="#7e7e7e" stroke-width="3.1934705910565366" stroke-linecap="round" stroke-linejoin="round" opacity="0.6326072543879626" filter="url(#b1)"/>
<path d="M1486.7,370.4 C1488.6,369.9 1494.6,368.8 1498.0,367.6 C1501.4,366.3 1504.5,364.6 1507.1,362.7 C1509.7,360.9 1511.2,358.0 1513.5,356.6 C1515.8,355.1 1518.4,355.1 1520.9,354.1 C1523.4,353.1 1526.0,351.4 1528.6,350.5 C1531.2,349.6 1535.3,349.0 1536.6,348.7" fill="none" stroke="#8e8e8e" stroke-width="2.4008690429533788" stroke-linecap="round" stroke-linejoin="round" opacity="0.7314792159056176" filter="url(#b1)"/>
<path d="M1514.4,45.0 C1515.0,46.4 1515.9,50.4 1517.9,53.0 C1519.9,55.6 1524.0,58.1 1526.3,60.6 C1528.6,63.2 1529.8,66.2 1531.7,68.3 C1533.6,70.3 1536.6,72.0 1537.6,72.8" fill="none" stroke="#8e8e8e" stroke-width="2.6940493516980943" stroke-linecap="round" stroke-linejoin="round" opacity="0.49128061328337036" filter="url(#b1)"/>
<path d="M1414.1,139.3 C1415.6,138.7 1420.5,136.8 1423.3,135.9 C1426.1,135.1 1428.4,135.0 1430.9,134.1 C1433.4,133.3 1435.2,131.8 1438.4,131.1 C1441.5,130.3 1446.4,129.9 1449.9,129.7 C1453.3,129.5 1457.6,129.7 1459.1,129.7" fill="none" stroke="#868686" stroke-width="2.480372089982111" stroke-linecap="round" stroke-linejoin="round" opacity="0.4846752133863954" filter="url(#b1)"/>
<path d="M1670.1,217.3 C1671.3,218.0 1675.0,219.9 1677.2,221.5 C1679.5,223.0 1681.3,224.6 1683.6,226.7 C1685.9,228.9 1688.1,232.0 1690.9,234.4 C1693.8,236.7 1697.3,239.5 1700.8,240.6 C1704.3,241.8 1709.0,240.5 1712.0,241.2 C1715.1,241.8 1718.0,244.1 1719.2,244.7" fill="none" stroke="#868686" stroke-width="2.6364336409936535" stroke-linecap="round" stroke-linejoin="round" opacity="0.7491374563924997" filter="url(#b1)"/>
<path d="M1275.8,333.5 C1277.3,332.6 1282.1,330.8 1284.6,328.3 C1287.0,325.8 1289.6,321.7 1290.6,318.6 C1291.7,315.5 1291.1,312.7 1290.8,309.8 C1290.6,306.8 1289.5,302.4 1289.2,301.0" fill="none" stroke="#7e7e7e" stroke-width="2.946353639201941" stroke-linecap="round" stroke-linejoin="round" opacity="0.5961649851392394" filter="url(#b1)"/>
<path d="M1675.9,354.8 C1676.3,353.5 1676.6,349.8 1678.3,347.1 C1680.1,344.4 1684.3,341.2 1686.5,338.7 C1688.7,336.1 1689.4,334.2 1691.6,332.0 C1693.9,329.7 1698.7,326.3 1700.1,325.2" fill="none" stroke="#7e7e7e" stroke-width="2.4659422495397165" stroke-linecap="round" stroke-linejoin="round" opacity="0.7307242554494064" filter="url(#b1)"/>
<path d="M1548.2,227.2 C1549.5,227.4 1553.0,228.0 1555.9,227.9 C1558.8,227.8 1562.5,226.7 1565.8,226.8 C1569.1,226.9 1572.8,227.9 1575.9,228.6 C1578.9,229.4 1580.7,230.5 1583.9,231.5 C1587.2,232.5 1593.4,234.1 1595.3,234.6" fill="none" stroke="#868686" stroke-width="2.4689702387131915" stroke-linecap="round" stroke-linejoin="round" opacity="0.47316237760925217" filter="url(#b1)"/>
<path d="M1490.5,165.9 C1491.6,164.6 1495.2,160.0 1497.4,157.9 C1499.6,155.8 1501.0,154.3 1503.6,153.3 C1506.3,152.3 1509.8,151.9 1513.2,151.9 C1516.5,152.0 1520.6,153.7 1523.6,153.8 C1526.6,153.8 1529.9,152.5 1531.1,152.3" fill="none" stroke="#989898" stroke-width="2.4944453762258902" stroke-linecap="round" stroke-linejoin="round" opacity="0.7431743350220166" filter="url(#b1)"/>
<path d="M1753.4,121.3 C1755.1,121.3 1760.3,122.0 1763.3,121.4 C1766.4,120.7 1769.0,118.9 1771.6,117.3 C1774.3,115.7 1776.9,113.5 1779.4,111.8 C1782.0,110.2 1784.9,108.9 1787.0,107.3 C1789.1,105.6 1790.0,103.9 1792.2,101.9 C1794.4,99.8 1798.8,96.0 1800.1,94.8" fill="none" stroke="#868686" stroke-width="2.4020548048260086" stroke-linecap="round" stroke-linejoin="round" opacity="0.7463119849825647" filter="url(#b1)"/>
<path d="M1730.2,-0.4 C1731.0,1.4 1732.9,7.4 1735.3,10.3 C1737.6,13.1 1741.7,14.3 1744.3,16.6 C1746.9,18.9 1748.8,22.3 1751.1,24.3 C1753.4,26.3 1756.2,26.6 1758.2,28.6 C1760.1,30.5 1762.0,34.6 1762.8,35.8" fill="none" stroke="#8e8e8e" stroke-width="2.495520743739849" stroke-linecap="round" stroke-linejoin="round" opacity="0.6786143850469832" filter="url(#b1)"/>
<path d="M1625.4,14.9 C1624.8,15.9 1623.1,18.9 1621.8,21.3 C1620.6,23.6 1619.7,26.6 1618.0,28.8 C1616.3,31.0 1613.5,32.8 1611.5,34.4 C1609.5,36.1 1606.9,38.0 1606.0,38.8" fill="none" stroke="#868686" stroke-width="3.0276057738298734" stroke-linecap="round" stroke-linejoin="round" opacity="0.566638036262413" filter="url(#b1)"/>
<path d="M1662.9,86.5 C1664.3,87.2 1669.2,89.3 1671.5,90.9 C1673.8,92.6 1675.6,94.4 1676.9,96.5 C1678.1,98.6 1678.2,100.5 1678.9,103.3 C1679.7,106.1 1681.0,110.4 1681.4,113.2 C1681.9,116.0 1681.6,119.1 1681.7,120.2" fill="none" stroke="#989898" stroke-width="2.9258430801407984" stroke-linecap="round" stroke-linejoin="round" opacity="0.45058481621423113" filter="url(#b1)"/>
<path d="M1724.7,269.2 C1724.8,271.1 1725.9,277.8 1725.5,280.9 C1725.1,284.1 1722.9,285.5 1722.1,287.9 C1721.3,290.2 1720.7,291.9 1720.6,294.9 C1720.5,298.0 1721.1,302.4 1721.6,306.1 C1722.1,309.9 1723.3,315.5 1723.6,317.4" fill="none" stroke="#7e7e7e" stroke-width="2.4679219340131917" stroke-linecap="round" stroke-linejoin="round" opacity="0.8398219160673004" filter="url(#b1)"/>
<path d="M1299.0,45.3 C1300.4,44.0 1305.5,39.8 1307.7,37.3 C1309.8,34.8 1310.6,33.1 1311.9,30.2 C1313.2,27.2 1314.0,23.0 1315.5,19.8 C1317.0,16.5 1320.1,12.2 1321.1,10.7" fill="none" stroke="#989898" stroke-width="2.58688898131065" stroke-linecap="round" stroke-linejoin="round" opacity="0.6311031409262295" filter="url(#b1)"/>
<path d="M1778.1,46.3 C1778.9,45.0 1781.5,41.2 1783.1,38.4 C1784.6,35.6 1785.5,31.9 1787.3,29.7 C1789.2,27.5 1791.9,26.9 1794.0,25.2 C1796.0,23.4 1798.7,20.1 1799.7,19.1" fill="none" stroke="#8e8e8e" stroke-width="3.046077523744433" stroke-linecap="round" stroke-linejoin="round" opacity="0.48616835521940993" filter="url(#b1)"/>
<path d="M1416.9,260.7 C1417.9,259.3 1420.8,254.3 1423.3,252.3 C1425.7,250.3 1429.3,250.4 1431.5,248.7 C1433.8,247.0 1434.8,243.8 1436.8,242.0 C1438.8,240.2 1440.5,238.7 1443.5,237.9 C1446.5,237.1 1451.2,237.4 1454.7,237.3 C1458.2,237.2 1462.9,237.4 1464.5,237.4" fill="none" stroke="#8e8e8e" stroke-width="3.0431174027550805" stroke-linecap="round" stroke-linejoin="round" opacity="0.6348172995504956" filter="url(#b1)"/>
<path d="M1324.0,-0.5 C1325.5,-0.6 1329.5,-1.4 1332.9,-1.4 C1336.4,-1.3 1341.1,0.2 1344.6,-0.2 C1348.1,-0.5 1351.1,-3.1 1353.9,-3.6 C1356.7,-4.0 1358.9,-3.7 1361.2,-2.8 C1363.5,-1.9 1366.5,1.3 1367.6,2.1" fill="none" stroke="#7e7e7e" stroke-width="2.4735829109256144" stroke-linecap="round" stroke-linejoin="round" opacity="0.7737194661164031" filter="url(#b1)"/>
<path d="M1723.7,300.0 C1723.8,301.6 1724.6,306.7 1724.3,309.8 C1723.9,312.9 1721.7,315.3 1721.6,318.4 C1721.6,321.5 1722.8,325.7 1723.9,328.5 C1725.0,331.4 1727.6,334.2 1728.3,335.3" fill="none" stroke="#868686" stroke-width="2.7568091445173253" stroke-linecap="round" stroke-linejoin="round" opacity="0.5599927076096969" filter="url(#b1)"/>
<path d="M1329.0,226.5 C1330.6,226.2 1335.9,225.8 1338.5,224.6 C1341.2,223.4 1343.3,221.3 1345.1,219.3 C1346.8,217.2 1346.9,214.4 1348.8,212.2 C1350.7,210.1 1353.6,208.2 1356.4,206.3 C1359.3,204.5 1362.5,202.2 1366.0,200.9 C1369.6,199.6 1374.3,198.9 1377.7,198.7 C1381.2,198.5 1385.0,199.5 1386.5,199.7" fill="none" stroke="#7e7e7e" stroke-width="2.852520892038305" stroke-linecap="round" stroke-linejoin="round" opacity="0.5876136479159504" filter="url(#b1)"/>
<path d="M1426.7,97.0 C1425.8,98.5 1422.4,102.9 1421.5,106.5 C1420.5,110.1 1421.4,114.7 1421.2,118.5 C1421.1,122.2 1421.9,125.8 1420.7,129.3 C1419.5,132.7 1415.1,137.4 1414.0,139.1" fill="none" stroke="#8e8e8e" stroke-width="2.592922236123842" stroke-linecap="round" stroke-linejoin="round" opacity="0.5491428216006291" filter="url(#b1)"/>
<path d="M1546.5,293.3 C1548.5,293.5 1554.5,294.3 1558.4,294.5 C1562.3,294.6 1567.0,293.6 1570.1,294.2 C1573.2,294.8 1574.4,297.1 1576.9,298.0 C1579.4,299.0 1582.6,298.9 1585.3,300.0 C1588.0,301.0 1591.8,303.4 1593.1,304.1" fill="none" stroke="#8e8e8e" stroke-width="2.6813457187864707" stroke-linecap="round" stroke-linejoin="round" opacity="0.7313811531679654" filter="url(#b1)"/>
<path d="M1565.7,48.6 C1567.0,48.7 1571.1,49.9 1573.5,49.6 C1576.0,49.3 1578.0,47.7 1580.3,46.9 C1582.6,46.2 1584.6,45.8 1587.2,45.1 C1589.7,44.4 1592.3,43.4 1595.5,42.6 C1598.7,41.9 1603.3,41.6 1606.4,40.9 C1609.4,40.1 1610.7,38.7 1613.8,38.3 C1616.9,37.8 1623.2,38.2 1625.1,38.2" fill="none" stroke="#8e8e8e" stroke-width="2.8692873400729675" stroke-linecap="round" stroke-linejoin="round" opacity="0.45876515849742894" filter="url(#b1)"/>
<path d="M1763.2,286.9 C1765.2,286.9 1771.7,286.8 1774.9,286.6 C1778.1,286.4 1779.9,286.2 1782.4,285.5 C1784.8,284.9 1786.9,284.6 1789.6,282.8 C1792.2,281.0 1796.8,276.2 1798.2,274.9" fill="none" stroke="#7e7e7e" stroke-width="2.5393621367644243" stroke-linecap="round" stroke-linejoin="round" opacity="0.7096721062579257" filter="url(#b1)"/>
<path d="M1792.3,256.5 C1794.1,256.9 1799.6,258.3 1803.1,258.9 C1806.7,259.4 1810.7,259.8 1813.8,259.8 C1816.9,259.8 1818.9,260.0 1821.6,258.7 C1824.2,257.4 1826.8,254.2 1829.7,252.0 C1832.6,249.8 1837.4,246.6 1838.9,245.6" fill="none" stroke="#8e8e8e" stroke-width="2.654573529488076" stroke-linecap="round" stroke-linejoin="round" opacity="0.5228327024054189" filter="url(#b1)"/>
<path d="M1702.0,225.5 C1702.9,223.9 1706.0,219.7 1707.4,216.2 C1708.8,212.8 1710.0,208.5 1710.2,204.7 C1710.5,200.8 1710.0,196.7 1708.8,193.3 C1707.6,190.0 1704.8,187.7 1703.1,184.5 C1701.3,181.3 1699.8,177.0 1698.4,174.1 C1697.0,171.1 1696.0,168.8 1694.5,166.7 C1693.0,164.6 1690.3,162.2 1689.5,161.4" fill="none" stroke="#989898" stroke-width="2.976330870397575" stroke-linecap="round" stroke-linejoin="round" opacity="0.7648080024362641" filter="url(#b1)"/>
<path d="M1272.2,160.2 C1273.4,159.4 1277.3,156.7 1279.6,155.3 C1281.9,153.8 1283.4,153.0 1286.0,151.4 C1288.7,149.7 1292.4,147.0 1295.6,145.3 C1298.8,143.7 1302.7,142.8 1305.2,141.3 C1307.7,139.8 1308.3,137.6 1310.5,136.2 C1312.7,134.8 1315.4,134.6 1318.4,133.0 C1321.3,131.4 1326.5,127.6 1328.2,126.5" fill="none" stroke="#8e8e8e" stroke-width="3.110345014187443" stroke-linecap="round" stroke-linejoin="round" opacity="0.5867232804599559" filter="url(#b1)"/>
<path d="M1335.9,23.3 C1337.5,23.8 1342.7,25.6 1345.4,26.6 C1348.2,27.5 1350.2,27.5 1352.2,28.8 C1354.3,30.1 1356.4,32.2 1357.7,34.4 C1359.0,36.5 1358.9,39.5 1360.3,41.7 C1361.7,43.9 1363.5,45.7 1366.0,47.4 C1368.5,49.1 1373.8,51.2 1375.4,51.9" fill="none" stroke="#989898" stroke-width="2.6379205181452527" stroke-linecap="round" stroke-linejoin="round" opacity="0.7142391570851894" filter="url(#b1)"/>
<path d="M1299.2,143.1 C1300.6,142.5 1304.8,141.1 1307.6,139.5 C1310.3,137.8 1313.3,135.0 1315.8,133.3 C1318.4,131.6 1321.0,131.1 1322.8,129.3 C1324.6,127.5 1326.0,123.6 1326.7,122.5" fill="none" stroke="#989898" stroke-width="2.778856520913655" stroke-linecap="round" stroke-linejoin="round" opacity="0.8408230783997062" filter="url(#b1)"/>
<path d="M1310.3,290.9 C1311.8,290.4 1316.5,289.6 1319.5,288.0 C1322.6,286.3 1326.0,283.3 1328.6,281.1 C1331.2,278.8 1333.2,276.9 1335.1,274.5 C1336.9,272.0 1338.6,269.1 1339.7,266.3 C1340.7,263.6 1341.6,261.3 1341.5,258.2 C1341.3,255.1 1339.1,249.5 1338.6,247.8" fill="none" stroke="#8e8e8e" stroke-width="2.6750331092368373" stroke-linecap="round" stroke-linejoin="round" opacity="0.48428292473596685" filter="url(#b1)"/>
<path d="M1550.9,361.0 C1552.4,361.2 1556.6,361.8 1559.9,362.3 C1563.3,362.9 1567.3,363.8 1571.0,364.5 C1574.8,365.2 1579.2,365.9 1582.3,366.4 C1585.4,366.9 1586.9,366.3 1589.6,367.4 C1592.3,368.6 1595.4,371.2 1598.4,373.2 C1601.5,375.3 1605.4,377.2 1608.0,379.6 C1610.7,382.0 1613.3,386.4 1614.4,387.8" fill="none" stroke="#868686" stroke-width="3.005751004511355" stroke-linecap="round" stroke-linejoin="round" opacity="0.4981127499021733" filter="url(#b1)"/>
<path d="M1342.7,366.1 C1343.8,365.6 1346.9,363.8 1349.3,362.9 C1351.8,362.1 1354.5,361.2 1357.1,361.0 C1359.7,360.8 1362.1,361.4 1364.8,361.9 C1367.5,362.3 1370.2,362.6 1373.2,363.7 C1376.3,364.8 1381.4,367.8 1383.1,368.7" fill="none" stroke="#8e8e8e" stroke-width="2.7178839954856286" stroke-linecap="round" stroke-linejoin="round" opacity="0.6052396612059003" filter="url(#b1)"/>
<path d="M1429.3,99.1 C1430.5,98.7 1433.8,97.6 1436.7,96.8 C1439.5,96.1 1443.5,94.6 1446.3,94.6 C1449.1,94.5 1450.5,96.6 1453.5,96.6 C1456.5,96.7 1460.6,95.0 1464.3,95.0 C1467.9,95.0 1472.0,95.5 1475.5,96.8 C1478.9,98.2 1481.8,101.5 1485.0,103.1 C1488.2,104.7 1493.1,105.8 1494.7,106.3" fill="none" stroke="#7e7e7e" stroke-width="2.620331313627803" stroke-linecap="round" stroke-linejoin="round" opacity="0.4649862681990854" filter="url(#b1)"/>
<path d="M1326.3,224.5 C1327.3,223.9 1330.4,222.3 1332.6,221.0 C1334.9,219.7 1337.5,218.4 1339.8,216.8 C1342.2,215.2 1344.2,212.8 1346.6,211.4 C1349.1,210.0 1351.5,208.9 1354.7,208.5 C1357.9,208.0 1362.2,208.3 1366.0,208.8 C1369.8,209.3 1375.6,211.1 1377.5,211.6" fill="none" stroke="#868686" stroke-width="3.1793755396826486" stroke-linecap="round" stroke-linejoin="round" opacity="0.5037542083873762" filter="url(#b1)"/>
<path d="M1495.4,306.3 C1496.4,305.5 1498.9,302.7 1501.6,301.3 C1504.4,299.9 1508.2,298.5 1511.8,297.9 C1515.4,297.3 1519.7,297.1 1523.1,297.5 C1526.5,298.0 1530.7,300.0 1532.2,300.5" fill="none" stroke="#868686" stroke-width="2.9676555186915117" stroke-linecap="round" stroke-linejoin="round" opacity="0.4762467870447728" filter="url(#b1)"/>
<path d="M1472.9,289.3 C1474.5,288.3 1479.6,284.8 1482.6,283.7 C1485.6,282.6 1487.5,283.1 1490.8,282.5 C1494.0,281.9 1498.8,280.6 1502.1,280.2 C1505.4,279.9 1507.6,279.8 1510.5,280.5 C1513.4,281.1 1517.9,283.4 1519.3,284.0" fill="none" stroke="#8e8e8e" stroke-width="2.593550475671689" stroke-linecap="round" stroke-linejoin="round" opacity="0.7224697441773509" filter="url(#b1)"/>
<path d="M1521.2,163.2 C1522.8,162.4 1528.2,160.4 1531.3,158.3 C1534.3,156.3 1537.8,153.4 1539.7,151.1 C1541.6,148.8 1542.2,147.5 1542.5,144.5 C1542.8,141.5 1541.4,136.5 1541.5,133.3 C1541.7,130.1 1543.1,128.1 1543.3,125.4 C1543.5,122.7 1542.7,118.7 1542.6,117.3" fill="none" stroke="#868686" stroke-width="2.7276057571964336" stroke-linecap="round" stroke-linejoin="round" opacity="0.5576334317075828" filter="url(#b1)"/>
<path d="M1256.3,289.2 C1257.7,288.3 1262.7,285.9 1264.7,283.7 C1266.7,281.5 1266.7,278.5 1268.3,276.3 C1269.9,274.0 1271.7,271.7 1274.3,270.2 C1277.0,268.8 1281.2,268.5 1284.2,267.5 C1287.2,266.5 1291.1,264.9 1292.5,264.4" fill="none" stroke="#989898" stroke-width="2.574567243258345" stroke-linecap="round" stroke-linejoin="round" opacity="0.6335992075562439" filter="url(#b1)"/>
<path d="M1415.7,191.3 C1417.4,191.0 1422.8,189.6 1425.9,189.7 C1429.0,189.8 1431.6,190.7 1434.6,191.7 C1437.5,192.6 1441.1,194.6 1443.9,195.5 C1446.6,196.3 1450.1,196.5 1451.3,196.7" fill="none" stroke="#8e8e8e" stroke-width="2.621186599973409" stroke-linecap="round" stroke-linejoin="round" opacity="0.5845134615551262" filter="url(#b1)"/>
<path d="M1428.7,99.4 C1430.3,99.2 1435.5,98.8 1438.2,98.0 C1440.9,97.3 1441.9,95.6 1444.8,95.0 C1447.8,94.5 1452.6,94.9 1455.9,94.7 C1459.1,94.4 1461.9,94.3 1464.4,93.5 C1466.8,92.7 1468.3,91.2 1470.5,89.8 C1472.8,88.5 1476.6,86.2 1477.8,85.5" fill="none" stroke="#7e7e7e" stroke-width="2.98938567659449" stroke-linecap="round" stroke-linejoin="round" opacity="0.6118395578511802" filter="url(#b1)"/>
<path d="M1574.4,370.0 C1576.1,369.7 1580.8,368.8 1584.4,368.0 C1588.0,367.2 1592.6,366.3 1595.8,365.3 C1599.0,364.4 1601.1,363.8 1603.7,362.1 C1606.2,360.4 1608.9,357.2 1611.2,355.1 C1613.6,353.1 1616.7,350.7 1617.8,349.8" fill="none" stroke="#7e7e7e" stroke-width="2.6069214804481664" stroke-linecap="round" stroke-linejoin="round" opacity="0.5011776558784213" filter="url(#b1)"/>
<path d="M1701.7,282.6 C1701.3,283.9 1699.7,287.2 1699.4,290.4 C1699.0,293.6 1699.2,297.9 1699.4,301.7 C1699.6,305.5 1700.0,309.6 1700.5,313.1 C1701.1,316.6 1702.1,319.9 1702.9,322.8 C1703.6,325.6 1703.4,327.6 1705.0,330.1 C1706.5,332.5 1710.8,336.2 1712.0,337.4" fill="none" stroke="#8e8e8e" stroke-width="2.5556350439815363" stroke-linecap="round" stroke-linejoin="round" opacity="0.6388878729624332" filter="url(#b1)"/>
<path d="M1312.7,251.6 C1313.7,250.7 1316.5,248.4 1318.6,246.3 C1320.7,244.1 1322.7,240.8 1325.2,238.9 C1327.8,237.1 1330.9,237.0 1333.8,235.4 C1336.7,233.9 1339.6,231.0 1342.6,229.5 C1345.6,228.1 1350.2,227.3 1351.7,226.9" fill="none" stroke="#868686" stroke-width="2.4464108705801575" stroke-linecap="round" stroke-linejoin="round" opacity="0.5753656287029355" filter="url(#b1)"/>
<path d="M1500.4,73.9 C1502.2,73.6 1507.9,73.3 1511.0,71.9 C1514.2,70.6 1516.5,67.7 1519.1,65.9 C1521.8,64.2 1524.3,62.4 1527.1,61.7 C1529.9,61.0 1533.3,62.5 1536.0,61.9 C1538.7,61.3 1541.9,58.7 1543.1,58.1" fill="none" stroke="#989898" stroke-width="3.1136051137579273" stroke-linecap="round" stroke-linejoin="round" opacity="0.8300274461927328" filter="url(#b1)"/>
<path d="M1672.6,195.2 C1673.8,196.7 1677.4,201.9 1679.5,204.3 C1681.6,206.6 1683.1,207.4 1685.2,209.2 C1687.2,211.0 1689.3,213.6 1691.6,214.8 C1693.8,216.1 1696.3,215.2 1698.6,216.6 C1700.9,217.9 1704.3,221.7 1705.5,222.8" fill="none" stroke="#989898" stroke-width="2.9494241237370513" stroke-linecap="round" stroke-linejoin="round" opacity="0.6234660920142354" filter="url(#b1)"/>
<path d="M1320.6,370.5 C1322.3,371.5 1327.8,374.6 1330.8,376.0 C1333.8,377.5 1336.1,377.8 1338.3,379.1 C1340.6,380.4 1342.4,381.6 1344.5,383.7 C1346.6,385.7 1348.4,389.4 1350.7,391.4 C1353.0,393.4 1357.1,395.1 1358.3,395.9" fill="none" stroke="#8e8e8e" stroke-width="2.912256868218119" stroke-linecap="round" stroke-linejoin="round" opacity="0.6000769730703358" filter="url(#b1)"/>
<path d="M1680.8,229.9 C1681.8,229.3 1684.4,227.4 1686.9,226.3 C1689.3,225.2 1692.6,224.6 1695.5,223.4 C1698.4,222.2 1701.6,220.4 1704.2,219.1 C1706.8,217.8 1709.9,216.1 1711.1,215.5" fill="none" stroke="#8e8e8e" stroke-width="2.9293316608725775" stroke-linecap="round" stroke-linejoin="round" opacity="0.5704465819027169" filter="url(#b1)"/>
<path d="M1619.3,96.8 C1620.7,95.8 1625.0,93.4 1627.6,91.1 C1630.2,88.8 1632.6,85.6 1634.9,83.0 C1637.3,80.4 1638.9,77.7 1641.6,75.5 C1644.3,73.3 1649.6,70.7 1651.2,69.8" fill="none" stroke="#868686" stroke-width="2.7278049844226313" stroke-linecap="round" stroke-linejoin="round" opacity="0.593168734620323" filter="url(#b1)"/>
<path d="M1335.6,201.6 C1336.7,201.4 1339.4,200.3 1342.4,199.9 C1345.5,199.5 1350.4,198.8 1353.9,199.2 C1357.5,199.7 1360.9,202.0 1363.8,202.4 C1366.7,202.8 1368.2,202.0 1371.2,201.8 C1374.2,201.6 1378.8,201.9 1381.8,201.1 C1384.8,200.4 1386.5,199.3 1389.1,197.2 C1391.7,195.1 1396.0,190.0 1397.4,188.6" fill="none" stroke="#989898" stroke-width="2.4400641566503576" stroke-linecap="round" stroke-linejoin="round" opacity="0.5556500091084163" filter="url(#b1)"/>
<path d="M1704.4,324.6 C1705.6,324.0 1708.2,321.8 1711.2,321.1 C1714.2,320.4 1719.7,321.1 1722.6,320.1 C1725.6,319.2 1726.5,317.0 1728.9,315.6 C1731.2,314.3 1733.3,312.5 1736.6,311.8 C1739.8,311.1 1744.7,312.0 1748.4,311.5 C1752.0,310.9 1756.9,309.0 1758.6,308.5" fill="none" stroke="#989898" stroke-width="2.5462955362429143" stroke-linecap="round" stroke-linejoin="round" opacity="0.7759857158145985" filter="url(#b1)"/>
<path d="M1471.4,357.8 C1473.1,357.7 1478.8,357.1 1481.7,357.4 C1484.6,357.7 1486.7,358.7 1488.9,359.6 C1491.2,360.6 1493.5,361.5 1495.3,363.2 C1497.1,364.8 1497.8,367.3 1499.5,369.7 C1501.3,372.1 1504.1,374.6 1505.7,377.5 C1507.3,380.5 1507.6,384.5 1509.1,387.3 C1510.6,390.1 1513.8,393.1 1514.8,394.2" fill="none" stroke="#989898" stroke-width="3.0900606196192753" stroke-linecap="round" stroke-linejoin="round" opacity="0.6945433677101619" filter="url(#b1)"/>
<path d="M1742.2,269.2 C1743.3,268.2 1747.5,265.7 1749.1,263.4 C1750.8,261.2 1751.4,258.7 1752.2,255.7 C1753.0,252.7 1753.1,248.7 1754.0,245.3 C1755.0,241.9 1756.6,238.4 1758.0,235.2 C1759.3,232.1 1760.1,228.8 1762.3,226.4 C1764.4,224.0 1768.3,222.7 1770.9,220.6 C1773.4,218.5 1776.6,215.1 1777.8,213.9" fill="none" stroke="#8e8e8e" stroke-width="2.9813215747390807" stroke-linecap="round" stroke-linejoin="round" opacity="0.623139162843565" filter="url(#b1)"/>
<path d="M1517.3,245.2 C1518.1,243.5 1520.7,237.8 1522.2,234.6 C1523.7,231.4 1524.9,228.8 1526.1,226.2 C1527.4,223.6 1528.0,221.3 1529.4,219.1 C1530.9,216.8 1534.1,213.6 1535.0,212.5" fill="none" stroke="#989898" stroke-width="2.4402805716212352" stroke-linecap="round" stroke-linejoin="round" opacity="0.83805801951336" filter="url(#b1)"/>
<path d="M1370.8,237.5 C1372.2,236.6 1376.9,234.4 1379.1,232.2 C1381.3,229.9 1382.5,227.2 1384.0,224.0 C1385.5,220.8 1386.6,215.6 1387.9,212.8 C1389.3,210.0 1390.7,209.0 1392.0,207.0 C1393.3,205.0 1393.9,203.3 1395.5,200.7 C1397.0,198.1 1398.8,194.1 1401.3,191.2 C1403.8,188.4 1408.9,184.9 1410.4,183.7" fill="none" stroke="#989898" stroke-width="2.8498660576751904" stroke-linecap="round" stroke-linejoin="round" opacity="0.8060443595300248" filter="url(#b1)"/>
<path d="M1614.8,167.0 C1616.1,167.6 1620.1,169.0 1622.6,170.8 C1625.1,172.6 1627.9,175.2 1630.0,177.6 C1632.0,180.0 1633.3,182.7 1634.8,184.9 C1636.4,187.2 1638.0,188.9 1639.3,191.0 C1640.5,193.0 1641.9,196.2 1642.4,197.2" fill="none" stroke="#989898" stroke-width="3.1715469467634723" stroke-linecap="round" stroke-linejoin="round" opacity="0.7819535542537605" filter="url(#b1)"/>
<path d="M1410.0,191.8 C1411.4,190.6 1415.6,186.4 1418.4,184.5 C1421.1,182.7 1424.2,182.1 1426.5,180.6 C1428.9,179.1 1430.8,178.0 1432.6,175.4 C1434.4,172.8 1436.3,168.7 1437.3,165.2 C1438.4,161.6 1438.5,156.0 1438.7,154.2" fill="none" stroke="#868686" stroke-width="2.4862125978299936" stroke-linecap="round" stroke-linejoin="round" opacity="0.7367151657877371" filter="url(#b1)"/>
<path d="M1479.2,344.3 C1480.8,344.0 1485.4,343.0 1488.9,342.3 C1492.5,341.5 1497.2,341.5 1500.5,339.9 C1503.7,338.3 1505.8,334.8 1508.3,332.6 C1510.8,330.4 1512.6,328.9 1515.4,326.8 C1518.2,324.7 1521.5,321.9 1525.0,320.3 C1528.4,318.6 1532.9,317.6 1536.1,317.0 C1539.2,316.3 1542.6,316.5 1543.9,316.4" fill="none" stroke="#868686" stroke-width="2.9260174489053847" stroke-linecap="round" stroke-linejoin="round" opacity="0.4914215844494271" filter="url(#b1)"/>
<path d="M1587.5,116.3 C1589.1,115.3 1594.2,111.0 1597.4,109.9 C1600.6,108.7 1603.7,110.0 1606.6,109.3 C1609.5,108.5 1611.6,106.3 1614.7,105.2 C1617.8,104.1 1621.8,103.8 1625.1,102.6 C1628.4,101.4 1632.9,98.6 1634.5,97.8" fill="none" stroke="#989898" stroke-width="3.1484096619700286" stroke-linecap="round" stroke-linejoin="round" opacity="0.734749742558058" filter="url(#b1)"/>
<path d="M1602.4,70.7 C1603.7,70.7 1606.9,70.3 1610.1,70.8 C1613.3,71.2 1618.1,73.3 1621.6,73.5 C1625.2,73.8 1627.9,72.5 1631.3,72.4 C1634.6,72.2 1638.5,72.1 1641.8,72.7 C1645.1,73.3 1647.8,74.5 1651.1,75.8 C1654.5,77.1 1660.1,79.7 1661.9,80.4" fill="none" stroke="#7e7e7e" stroke-width="3.115092801102336" stroke-linecap="round" stroke-linejoin="round" opacity="0.7196973942156694" filter="url(#b1)"/>
<path d="M1546.7,325.8 C1547.0,324.6 1548.0,320.9 1549.0,318.5 C1550.1,316.1 1551.3,313.5 1552.8,311.4 C1554.4,309.3 1556.7,308.0 1558.3,305.8 C1559.9,303.7 1561.8,299.9 1562.5,298.8" fill="none" stroke="#8e8e8e" stroke-width="2.636112452769285" stroke-linecap="round" stroke-linejoin="round" opacity="0.726237940145604" filter="url(#b1)"/>
<path d="M1670.8,7.2 C1672.3,6.6 1676.9,5.3 1679.9,3.5 C1682.8,1.8 1685.7,-1.6 1688.4,-3.2 C1691.2,-4.8 1693.2,-5.3 1696.4,-6.1 C1699.6,-6.8 1704.1,-7.1 1707.9,-7.9 C1711.7,-8.8 1717.3,-10.7 1719.2,-11.2" fill="none" stroke="#989898" stroke-width="2.4430417538461997" stroke-linecap="round" stroke-linejoin="round" opacity="0.8363332854274648" filter="url(#b1)"/>
<path d="M1665.2,71.6 C1666.9,72.4 1672.4,74.9 1675.5,76.8 C1678.5,78.8 1681.1,81.0 1683.3,83.4 C1685.5,85.9 1687.0,88.5 1688.7,91.5 C1690.5,94.5 1692.9,98.1 1693.7,101.2 C1694.5,104.2 1693.0,106.6 1693.5,109.6 C1694.0,112.7 1695.4,116.8 1696.8,119.5 C1698.1,122.2 1700.8,124.7 1701.6,125.7" fill="none" stroke="#8e8e8e" stroke-width="2.7428062515205873" stroke-linecap="round" stroke-linejoin="round" opacity="0.6008792908210583" filter="url(#b1)"/>
<path d="M1559.5,44.0 C1561.2,43.0 1566.9,40.8 1569.6,38.1 C1572.2,35.4 1573.4,31.2 1575.5,28.1 C1577.5,25.0 1579.6,22.1 1581.9,19.4 C1584.3,16.6 1587.5,14.2 1589.8,11.4 C1592.1,8.5 1593.9,4.6 1595.6,2.1 C1597.3,-0.5 1599.1,-2.9 1599.9,-3.9" fill="none" stroke="#989898" stroke-width="3.165590174102003" stroke-linecap="round" stroke-linejoin="round" opacity="0.6601580268739522" filter="url(#b1)"/>
<path d="M1539.1,291.4 C1539.7,292.7 1540.9,296.5 1542.4,298.8 C1544.0,301.1 1546.2,303.3 1548.2,305.3 C1550.3,307.2 1552.5,308.2 1554.5,310.4 C1556.5,312.5 1559.0,315.1 1560.0,318.3 C1561.1,321.5 1561.1,326.5 1560.7,329.4 C1560.3,332.3 1559.0,333.4 1557.6,335.7 C1556.1,337.9 1552.9,341.8 1552.0,343.0" fill="none" stroke="#868686" stroke-width="2.9460410886148223" stroke-linecap="round" stroke-linejoin="round" opacity="0.8335587264295734" filter="url(#b1)"/>
<path d="M1426.3,340.3 C1427.3,339.1 1430.0,335.0 1432.4,332.9 C1434.7,330.8 1437.7,329.3 1440.3,327.6 C1443.0,325.8 1445.7,324.5 1448.2,322.4 C1450.7,320.3 1453.5,317.3 1455.4,315.0 C1457.2,312.7 1458.4,311.8 1459.3,308.8 C1460.3,305.8 1460.6,299.0 1460.8,297.0" fill="none" stroke="#8e8e8e" stroke-width="2.56862517994842" stroke-linecap="round" stroke-linejoin="round" opacity="0.7007732303901666" filter="url(#b1)"/>
<path d="M1600.7,75.4 C1602.4,75.6 1607.9,75.4 1611.1,76.7 C1614.3,78.0 1617.0,80.8 1619.8,83.3 C1622.5,85.8 1625.9,89.2 1627.8,91.8 C1629.8,94.3 1630.1,96.3 1631.4,98.6 C1632.8,101.0 1635.1,104.9 1635.8,106.1" fill="none" stroke="#8e8e8e" stroke-width="2.5423937308443474" stroke-linecap="round" stroke-linejoin="round" opacity="0.4792992116638066" filter="url(#b1)"/>
<path d="M1387.3,21.6 C1389.0,21.6 1394.6,21.9 1397.5,21.9 C1400.3,22.0 1401.8,21.5 1404.6,21.7 C1407.3,21.9 1410.9,22.4 1414.1,23.2 C1417.3,23.9 1420.7,24.8 1423.7,26.3 C1426.7,27.7 1429.7,30.0 1432.0,31.8 C1434.2,33.6 1435.8,35.1 1437.0,37.1 C1438.2,39.2 1438.8,43.2 1439.2,44.4" fill="none" stroke="#989898" stroke-width="2.625213955433811" stroke-linecap="round" stroke-linejoin="round" opacity="0.6926263364747323" filter="url(#b1)"/>
<path d="M1768.6,138.8 C1769.6,138.0 1772.3,136.1 1774.5,133.9 C1776.8,131.8 1779.5,128.7 1782.2,126.0 C1784.9,123.4 1788.6,120.9 1790.8,118.0 C1793.0,115.1 1793.0,111.3 1795.1,108.5 C1797.2,105.8 1802.2,102.7 1803.6,101.6" fill="none" stroke="#989898" stroke-width="2.4089201662154447" stroke-linecap="round" stroke-linejoin="round" opacity="0.832956659643248" filter="url(#b1)"/>
<path d="M1739.2,48.3 C1739.1,50.2 1738.1,56.3 1738.2,60.0 C1738.2,63.7 1739.7,67.5 1739.5,70.6 C1739.2,73.8 1737.6,75.9 1736.7,78.9 C1735.9,82.0 1735.1,86.0 1734.5,88.9 C1733.8,91.8 1732.8,93.4 1732.6,96.5 C1732.4,99.6 1732.7,104.6 1733.4,107.6 C1734.0,110.7 1736.0,113.7 1736.5,114.9" fill="none" stroke="#8e8e8e" stroke-width="3.145895892322519" stroke-linecap="round" stroke-linejoin="round" opacity="0.7905550889701897" filter="url(#b1)"/>
<path d="M1806.8,168.9 C1807.8,168.0 1810.2,165.6 1812.7,163.5 C1815.3,161.5 1819.3,158.9 1822.1,156.5 C1824.9,154.1 1827.5,151.5 1829.3,149.0 C1831.2,146.5 1832.5,142.8 1833.2,141.6" fill="none" stroke="#8e8e8e" stroke-width="2.6542287497869803" stroke-linecap="round" stroke-linejoin="round" opacity="0.8100474363371687" filter="url(#b1)"/>
<path d="M1499.6,227.4 C1501.6,227.7 1507.9,229.3 1511.2,229.4 C1514.6,229.5 1516.5,227.8 1519.6,227.8 C1522.8,227.7 1527.0,228.4 1530.1,229.0 C1533.2,229.6 1535.1,230.7 1538.2,231.3 C1541.3,231.9 1545.2,232.5 1548.5,232.6 C1551.8,232.7 1556.3,232.1 1557.9,232.0" fill="none" stroke="#7e7e7e" stroke-width="2.644377437156268" stroke-linecap="round" stroke-linejoin="round" opacity="0.5934966408454387" filter="url(#b1)"/>
<path d="M1556.7,61.3 C1557.8,61.9 1561.3,63.4 1563.6,65.2 C1566.0,67.1 1568.6,69.5 1570.8,72.4 C1573.0,75.2 1575.5,78.9 1576.7,82.2 C1578.0,85.5 1578.4,88.9 1578.3,92.2 C1578.3,95.5 1576.8,100.3 1576.5,101.9" fill="none" stroke="#868686" stroke-width="2.841275198820927" stroke-linecap="round" stroke-linejoin="round" opacity="0.8125214309592732" filter="url(#b1)"/>
<path d="M1552.1,371.5 C1554.0,371.3 1559.7,370.6 1563.5,370.5 C1567.2,370.3 1571.4,371.1 1574.8,370.5 C1578.1,369.9 1581.1,368.6 1583.5,366.8 C1586.0,365.1 1588.1,362.7 1589.4,360.2 C1590.6,357.8 1589.3,355.0 1590.9,352.2 C1592.4,349.3 1597.2,344.6 1598.5,343.0" fill="none" stroke="#868686" stroke-width="2.512296554125669" stroke-linecap="round" stroke-linejoin="round" opacity="0.7528824285094042" filter="url(#b1)"/>
<path d="M1335.0,208.5 C1336.4,209.1 1340.9,211.1 1343.7,212.0 C1346.5,212.9 1349.1,213.3 1351.6,213.8 C1354.1,214.4 1356.3,215.0 1358.7,215.4 C1361.1,215.7 1362.9,216.3 1365.9,215.9 C1369.0,215.5 1375.2,213.5 1377.1,213.0" fill="none" stroke="#989898" stroke-width="3.134321555224916" stroke-linecap="round" stroke-linejoin="round" opacity="0.6052372439791984" filter="url(#b1)"/>
<path d="M1743.1,10.0 C1744.4,9.7 1748.5,8.4 1751.1,7.8 C1753.7,7.1 1756.0,6.4 1758.7,6.0 C1761.5,5.6 1764.2,5.3 1767.5,5.4 C1770.9,5.5 1775.3,6.3 1778.7,6.6 C1782.0,7.0 1784.7,6.7 1787.5,7.8 C1790.3,8.8 1794.2,12.1 1795.5,13.0" fill="none" stroke="#989898" stroke-width="2.6760258584431504" stroke-linecap="round" stroke-linejoin="round" opacity="0.7768947060934288" filter="url(#b1)"/>
<path d="M1692.9,329.5 C1693.0,330.7 1693.5,334.2 1693.6,336.8 C1693.6,339.4 1692.8,342.1 1693.1,344.9 C1693.5,347.6 1695.1,350.6 1695.6,353.3 C1696.1,356.0 1695.3,357.9 1696.0,360.9 C1696.7,363.9 1698.9,368.0 1699.7,371.3 C1700.5,374.6 1700.4,377.8 1700.7,380.7 C1701.0,383.5 1701.5,387.3 1701.7,388.6" fill="none" stroke="#868686" stroke-width="2.72871936573056" stroke-linecap="round" stroke-linejoin="round" opacity="0.708903693656221" filter="url(#b1)"/>
<path d="M1382.7,43.2 C1383.9,43.0 1387.4,43.0 1390.3,41.8 C1393.2,40.5 1397.2,37.5 1400.2,35.7 C1403.1,33.9 1404.9,31.9 1407.9,31.1 C1410.9,30.3 1416.4,30.9 1418.1,30.9" fill="none" stroke="#989898" stroke-width="2.573274734313508" stroke-linecap="round" stroke-linejoin="round" opacity="0.8289015474490776" filter="url(#b1)"/>
<path d="M1587.7,172.7 C1589.4,172.0 1594.7,169.1 1597.7,168.3 C1600.7,167.4 1602.9,167.7 1605.6,167.7 C1608.3,167.8 1611.1,168.0 1613.9,168.6 C1616.6,169.3 1619.1,170.6 1622.0,171.6 C1625.0,172.7 1628.5,174.1 1631.5,174.6 C1634.6,175.1 1637.8,175.2 1640.5,174.7 C1643.2,174.1 1646.6,171.9 1647.8,171.4" fill="none" stroke="#7e7e7e" stroke-width="2.8844088142889652" stroke-linecap="round" stroke-linejoin="round" opacity="0.780605674235705" filter="url(#b1)"/>
<path d="M1345.2,334.9 C1346.9,334.4 1351.8,332.0 1355.0,331.7 C1358.3,331.3 1361.3,333.5 1364.6,332.9 C1368.0,332.2 1372.0,329.2 1375.3,328.0 C1378.5,326.9 1382.7,326.3 1384.2,325.9" fill="none" stroke="#7e7e7e" stroke-width="2.434750626669185" stroke-linecap="round" stroke-linejoin="round" opacity="0.5981509800995121" filter="url(#b1)"/>
<path d="M1544.3,81.5 C1546.2,81.3 1551.7,79.8 1555.3,80.1 C1558.9,80.5 1562.7,82.5 1565.9,83.7 C1569.1,84.9 1571.1,86.5 1574.3,87.3 C1577.5,88.2 1582.2,87.9 1585.0,88.8 C1587.8,89.7 1588.9,91.2 1591.2,92.9 C1593.4,94.6 1596.3,97.6 1598.6,99.2 C1600.9,100.7 1603.9,101.6 1605.0,102.1" fill="none" stroke="#8e8e8e" stroke-width="2.4942628831849207" stroke-linecap="round" stroke-linejoin="round" opacity="0.6811948583201785" filter="url(#b1)"/>
<path d="M1249.1,241.8 C1250.0,240.6 1253.0,236.9 1255.0,234.8 C1256.9,232.7 1258.7,231.1 1260.9,229.0 C1263.1,226.9 1265.4,224.7 1268.2,222.4 C1271.1,220.2 1275.4,217.6 1278.0,215.6 C1280.7,213.6 1281.7,212.2 1284.0,210.3 C1286.3,208.4 1290.4,205.2 1291.7,204.2" fill="none" stroke="#868686" stroke-width="2.843929085038663" stroke-linecap="round" stroke-linejoin="round" opacity="0.5980851875516588" filter="url(#b1)"/>
<path d="M1388.4,110.6 C1390.0,111.2 1395.2,112.6 1398.1,114.1 C1400.9,115.6 1403.5,117.6 1405.6,119.5 C1407.7,121.3 1408.6,123.5 1410.8,125.3 C1413.0,127.0 1415.8,128.5 1418.6,129.8 C1421.4,131.1 1426.3,132.5 1427.8,133.1" fill="none" stroke="#8e8e8e" stroke-width="3.171656201099614" stroke-linecap="round" stroke-linejoin="round" opacity="0.5142952036532868" filter="url(#b1)"/>
<path d="M1248.0,29.3 C1248.2,30.7 1248.6,34.6 1249.3,37.6 C1250.0,40.5 1251.6,43.6 1252.2,47.2 C1252.8,50.7 1252.4,55.2 1252.8,58.8 C1253.2,62.4 1253.4,65.4 1254.4,69.0 C1255.5,72.5 1256.8,76.9 1259.0,79.9 C1261.1,82.8 1264.5,85.1 1267.4,86.8 C1270.2,88.4 1274.8,89.4 1276.3,89.9" fill="none" stroke="#8e8e8e" stroke-width="2.9255073781654746" stroke-linecap="round" stroke-linejoin="round" opacity="0.5306828971224058" filter="url(#b1)"/>
<path d="M1699.2,102.8 C1698.9,104.5 1697.6,109.6 1697.2,113.0 C1696.8,116.4 1697.5,120.5 1696.8,123.3 C1696.0,126.0 1693.9,127.1 1692.8,129.5 C1691.6,132.0 1691.1,135.3 1690.0,138.1 C1688.8,140.8 1686.3,144.7 1685.6,146.0" fill="none" stroke="#868686" stroke-width="2.989540432117116" stroke-linecap="round" stroke-linejoin="round" opacity="0.6570970803957179" filter="url(#b1)"/>
<path d="M1283.8,29.0 C1285.6,28.8 1291.1,28.9 1294.8,28.0 C1298.5,27.1 1302.6,24.9 1305.7,23.5 C1308.9,22.2 1311.8,21.4 1313.9,19.7 C1316.0,18.0 1316.6,15.6 1318.3,13.1 C1319.9,10.7 1322.0,7.6 1323.7,5.0 C1325.5,2.5 1327.8,-1.0 1328.6,-2.2" fill="none" stroke="#8e8e8e" stroke-width="3.1653674796682205" stroke-linecap="round" stroke-linejoin="round" opacity="0.771176897028943" filter="url(#b1)"/>
<path d="M1740.0,301.6 C1741.8,301.6 1747.2,301.1 1750.9,301.7 C1754.5,302.3 1758.8,304.2 1762.1,305.2 C1765.5,306.1 1768.5,306.7 1771.2,307.5 C1773.8,308.3 1775.5,309.6 1777.9,309.9 C1780.2,310.2 1782.0,309.3 1785.2,309.4 C1788.4,309.4 1793.8,309.7 1797.1,310.2 C1800.4,310.7 1803.7,312.0 1805.0,312.4" fill="none" stroke="#989898" stroke-width="2.6824770123750223" stroke-linecap="round" stroke-linejoin="round" opacity="0.6149703888757398" filter="url(#b1)"/>
<path d="M1547.6,259.2 C1549.4,258.7 1555.1,258.0 1558.3,256.2 C1561.6,254.4 1564.5,250.7 1567.0,248.4 C1569.5,246.1 1570.9,243.8 1573.3,242.3 C1575.7,240.9 1578.2,239.8 1581.2,239.6 C1584.2,239.4 1588.5,240.1 1591.5,241.3 C1594.5,242.5 1596.2,245.3 1599.2,246.8 C1602.2,248.2 1607.8,249.2 1609.5,249.7" fill="none" stroke="#989898" stroke-width="2.5622132470306185" stroke-linecap="round" stroke-linejoin="round" opacity="0.532711452928804" filter="url(#b1)"/>
<path d="M1386.1,228.2 C1386.2,229.9 1386.9,235.0 1386.9,238.5 C1387.0,242.0 1386.6,246.3 1386.5,249.3 C1386.3,252.3 1386.0,253.6 1385.8,256.5 C1385.6,259.4 1385.2,264.9 1385.1,266.6" fill="none" stroke="#7e7e7e" stroke-width="3.1047897988378987" stroke-linecap="round" stroke-linejoin="round" opacity="0.8092484801571409" filter="url(#b1)"/>
<path d="M1569.6,98.6 C1569.5,100.4 1568.4,106.0 1568.8,109.3 C1569.2,112.6 1570.7,115.1 1572.0,118.4 C1573.3,121.7 1574.8,126.4 1576.8,129.1 C1578.7,131.7 1581.7,131.8 1583.8,134.3 C1585.9,136.7 1587.8,141.0 1589.4,143.6 C1591.0,146.2 1592.9,148.9 1593.6,149.9" fill="none" stroke="#7e7e7e" stroke-width="2.4067348838557003" stroke-linecap="round" stroke-linejoin="round" opacity="0.5762605061805562" filter="url(#b1)"/>
<path d="M1625.9,138.0 C1626.5,139.3 1627.6,142.8 1629.4,145.6 C1631.3,148.3 1634.7,152.3 1637.0,154.6 C1639.2,157.0 1640.8,158.0 1643.0,159.7 C1645.2,161.5 1648.3,163.0 1650.4,165.0 C1652.6,167.1 1653.9,169.7 1655.9,171.9 C1657.9,174.2 1661.4,177.4 1662.4,178.5" fill="none" stroke="#868686" stroke-width="2.948809529713194" stroke-linecap="round" stroke-linejoin="round" opacity="0.841708980726876" filter="url(#b1)"/>
<path d="M1705.0,266.7 C1706.6,265.8 1711.4,262.5 1714.5,261.2 C1717.6,259.9 1721.0,260.2 1723.5,258.7 C1726.1,257.2 1728.1,255.0 1729.9,252.2 C1731.6,249.3 1732.5,244.6 1733.9,241.4 C1735.4,238.2 1737.4,235.9 1738.6,233.0 C1739.9,230.1 1740.9,227.4 1741.4,224.0 C1742.0,220.6 1741.7,214.6 1741.8,212.7" fill="none" stroke="#8e8e8e" stroke-width="2.9524345407685155" stroke-linecap="round" stroke-linejoin="round" opacity="0.6093607607453311" filter="url(#b1)"/>
<path d="M1278.9,301.8 C1280.3,302.0 1284.1,302.8 1287.1,303.0 C1290.1,303.2 1293.9,302.5 1296.9,303.0 C1299.9,303.5 1302.4,305.0 1305.1,305.9 C1307.9,306.7 1310.7,306.9 1313.7,307.9 C1316.6,309.0 1319.7,310.6 1322.7,312.2 C1325.7,313.7 1328.5,315.4 1331.6,317.3 C1334.8,319.2 1340.0,322.6 1341.7,323.6" fill="none" stroke="#989898" stroke-width="2.93855427211788" stroke-linecap="round" stroke-linejoin="round" opacity="0.5920436153563567" filter="url(#b1)"/>
<path d="M1520.4,272.7 C1522.2,271.9 1527.7,268.8 1531.2,268.0 C1534.7,267.2 1538.4,267.3 1541.4,267.9 C1544.5,268.6 1547.0,270.5 1549.6,272.1 C1552.2,273.6 1555.2,275.2 1557.1,277.1 C1558.9,279.0 1559.3,281.3 1560.8,283.5 C1562.4,285.6 1565.4,288.9 1566.4,290.0" fill="none" stroke="#989898" stroke-width="2.8843079784193297" stroke-linecap="round" stroke-linejoin="round" opacity="0.7341733940466415" filter="url(#b1)"/>
<path d="M1468.4,329.7 C1469.7,329.8 1473.4,331.0 1476.3,330.4 C1479.2,329.8 1482.5,327.2 1486.0,326.0 C1489.5,324.7 1494.2,323.6 1497.3,323.0 C1500.4,322.5 1502.3,323.3 1504.7,322.8 C1507.1,322.3 1509.3,321.8 1511.6,319.9 C1514.0,318.0 1516.9,313.5 1518.9,311.1 C1520.9,308.8 1523.0,306.8 1523.8,305.9" fill="none" stroke="#7e7e7e" stroke-width="3.196810985107727" stroke-linecap="round" stroke-linejoin="round" opacity="0.6595931165367257" filter="url(#b1)"/>
<path d="M1303.7,228.0 C1303.6,229.4 1302.8,233.2 1303.0,236.2 C1303.1,239.3 1303.2,243.0 1304.4,246.3 C1305.6,249.5 1307.8,253.4 1310.3,255.8 C1312.8,258.2 1316.9,258.8 1319.3,260.8 C1321.7,262.7 1322.5,264.9 1324.7,267.5 C1326.9,270.1 1330.2,274.0 1332.3,276.6 C1334.5,279.2 1336.6,282.1 1337.4,283.2" fill="none" stroke="#7e7e7e" stroke-width="3.1587889057256158" stroke-linecap="round" stroke-linejoin="round" opacity="0.5040459631965823" filter="url(#b1)"/>
<path d="M1549.7,217.7 C1551.4,217.8 1556.8,218.2 1559.9,218.0 C1563.0,217.8 1565.2,216.9 1568.5,216.4 C1571.7,215.9 1576.1,215.4 1579.4,214.8 C1582.7,214.3 1585.3,214.0 1588.0,213.0 C1590.7,212.1 1593.4,211.4 1595.6,209.2 C1597.9,207.0 1599.3,202.2 1601.4,199.8 C1603.6,197.3 1607.3,195.4 1608.5,194.6" fill="none" stroke="#7e7e7e" stroke-width="2.95021597100549" stroke-linecap="round" stroke-linejoin="round" opacity="0.6640395552167806" filter="url(#b1)"/>
<path d="M1522.9,279.8 C1524.8,280.0 1530.7,280.7 1533.8,281.2 C1537.0,281.6 1539.1,281.5 1541.7,282.5 C1544.2,283.6 1546.3,286.3 1549.3,287.7 C1552.2,289.1 1556.0,289.6 1559.3,291.0 C1562.6,292.5 1566.3,295.1 1569.2,296.2 C1572.0,297.3 1575.2,297.3 1576.5,297.5" fill="none" stroke="#868686" stroke-width="3.0399672562477256" stroke-linecap="round" stroke-linejoin="round" opacity="0.6566440247432539" filter="url(#b1)"/>
<path d="M1591.5,256.6 C1593.3,256.2 1599.5,255.5 1602.5,254.4 C1605.6,253.3 1607.0,251.4 1609.7,250.0 C1612.5,248.6 1616.1,247.8 1619.0,246.1 C1621.9,244.5 1625.1,242.0 1627.1,240.0 C1629.1,238.0 1630.2,236.7 1631.0,234.1 C1631.8,231.5 1631.7,226.1 1631.8,224.4" fill="none" stroke="#868686" stroke-width="2.625691630060644" stroke-linecap="round" stroke-linejoin="round" opacity="0.8389330419965788" filter="url(#b1)"/>
<path d="M1315.6,160.3 C1316.1,161.7 1316.9,165.6 1318.2,168.6 C1319.5,171.6 1322.6,175.1 1323.5,178.3 C1324.3,181.4 1323.6,184.7 1323.0,187.6 C1322.4,190.5 1320.4,194.3 1319.9,195.6" fill="none" stroke="#868686" stroke-width="3.020522328570019" stroke-linecap="round" stroke-linejoin="round" opacity="0.4724153377607571" filter="url(#b1)"/>
<path d="M1285.3,172.2 C1284.6,173.3 1282.8,176.6 1281.0,178.5 C1279.2,180.4 1277.1,182.3 1274.6,183.7 C1272.1,185.1 1268.6,186.4 1266.0,187.1 C1263.4,187.8 1261.9,187.5 1258.9,187.9 C1255.9,188.3 1252.0,189.1 1248.2,189.6 C1244.4,190.2 1240.1,190.7 1236.4,191.2 C1232.7,191.8 1227.8,192.7 1226.1,193.0" fill="none" stroke="#989898" stroke-width="2.5268891491244094" stroke-linecap="round" stroke-linejoin="round" opacity="0.8244860986562466" filter="url(#b1)"/>
<path d="M1656.5,275.8 C1657.6,275.2 1660.5,272.8 1663.6,272.1 C1666.6,271.4 1671.8,272.1 1674.9,271.5 C1677.9,271.0 1679.4,269.6 1681.9,268.9 C1684.5,268.1 1687.8,268.1 1690.4,267.1 C1692.9,266.0 1695.2,264.8 1697.4,262.5 C1699.5,260.2 1702.3,256.0 1703.3,253.3 C1704.3,250.5 1703.5,247.3 1703.6,246.1" fill="none" stroke="#7e7e7e" stroke-width="2.523993553944818" stroke-linecap="round" stroke-linejoin="round" opacity="0.7253626155740389" filter="url(#b1)"/>
<path d="M1680.5,88.8 C1682.3,89.6 1688.6,92.1 1691.5,93.5 C1694.4,95.0 1695.4,95.6 1697.7,97.3 C1700.1,99.1 1703.7,101.9 1705.7,104.2 C1707.7,106.4 1707.5,108.3 1709.7,110.7 C1711.8,113.1 1716.1,115.8 1718.5,118.7 C1720.9,121.6 1723.0,126.5 1723.9,128.0" fill="none" stroke="#7e7e7e" stroke-width="2.4170822661474345" stroke-linecap="round" stroke-linejoin="round" opacity="0.7432755327015081" filter="url(#b1)"/>
<path d="M1664.0,63.0 C1668.3,62.2 1681.7,59.5 1690.0,58.0 C1698.3,56.5 1705.7,54.8 1714.0,54.0 C1722.3,53.2 1732.3,53.5 1740.0,53.0 C1747.7,52.5 1752.5,51.8 1760.0,51.0 C1767.5,50.2 1776.8,48.8 1785.0,48.0 C1793.2,47.2 1805.0,46.3 1809.0,46.0" fill="none" stroke="#e0e0e0" stroke-width="3.5" stroke-linecap="round" stroke-linejoin="round" opacity="0.95" filter="url(#b1)"/>
<path d="M1664.0,66.0 C1672.3,64.7 1698.0,59.7 1714.0,58.0 C1730.0,56.3 1744.2,57.2 1760.0,56.0 C1775.8,54.8 1800.8,51.8 1809.0,51.0" fill="none" stroke="#aaa" stroke-width="6" stroke-linecap="round" stroke-linejoin="round" opacity="0.6" filter="url(#b4)"/>
<path d="M1660.0,40.0 C1660.0,46.7 1659.8,67.7 1660.0,80.0 C1660.2,92.3 1659.7,102.3 1661.0,114.0 C1662.3,125.7 1666.2,135.7 1668.0,150.0 C1669.8,164.3 1671.3,191.7 1672.0,200.0" fill="none" stroke="#6e6e6e" stroke-width="2" stroke-linecap="round" stroke-linejoin="round" opacity="0.8" filter="url(#b1)"/>
<path d="M1442.0,4.0 C1442.6,10.1 1442.6,31.4 1445.6,40.6 C1448.6,49.8 1455.1,52.9 1460.0,59.0 C1464.9,65.1 1471.9,69.4 1475.0,77.3 C1478.1,85.2 1477.0,95.6 1478.5,106.6 C1480.0,117.6 1483.4,133.6 1484.0,143.3 C1484.6,153.0 1480.5,159.6 1482.0,165.0 C1483.5,170.4 1489.3,171.1 1493.0,176.0 C1496.7,180.9 1501.8,189.1 1504.0,194.6 C1506.2,200.1 1505.7,206.6 1506.0,209.0" fill="none" stroke="#858585" stroke-width="2.2" stroke-linecap="round" stroke-linejoin="round" opacity="0.6" filter="url(#b1)"/>
<path d="M1506.0,209.0 C1505.7,212.7 1504.9,223.7 1504.0,231.0 C1503.1,238.3 1501.8,243.2 1500.6,253.0 C1499.4,262.8 1497.9,279.4 1497.0,289.8 C1496.1,300.2 1495.9,302.8 1495.0,315.5 C1494.1,328.2 1492.0,357.6 1491.4,366.0" fill="none" stroke="#858585" stroke-width="2.2" stroke-linecap="round" stroke-linejoin="round" opacity="0.6" filter="url(#b1)"/>
<path d="M1483.5,136.0 L1484.5,149.0" fill="none" stroke="#f0f0f0" stroke-width="2.5" stroke-linecap="round" stroke-linejoin="round" opacity="1"/>
<path d="M1509.0,220.0 L1506.0,231.0" fill="none" stroke="#f0f0f0" stroke-width="2.5" stroke-linecap="round" stroke-linejoin="round" opacity="1"/>
<path d="M1497.5,289.0 L1497.0,298.0" fill="none" stroke="#e0e0e0" stroke-width="2" stroke-linecap="round" stroke-linejoin="round" opacity="1"/>
<path d="M1504.0,202.0 C1506.7,200.7 1515.0,196.5 1520.0,194.0 C1525.0,191.5 1531.7,188.2 1534.0,187.0" fill="none" stroke="#c8c8c8" stroke-width="3" stroke-linecap="round" stroke-linejoin="round" opacity="0.9" filter="url(#b1)"/>
<path d="M1508.0,240.0 C1512.5,239.5 1526.3,238.2 1535.0,237.0 C1543.7,235.8 1550.8,234.3 1560.0,233.0 C1569.2,231.7 1581.0,230.3 1590.0,229.0 C1599.0,227.7 1610.0,225.7 1614.0,225.0" fill="none" stroke="#b0b0b0" stroke-width="3" stroke-linecap="round" stroke-linejoin="round" opacity="0.85" filter="url(#b1)"/>
<rect x="1255" y="4" width="7" height="361" fill="#3a3a3a" opacity="0.8"/>
<rect x="1262" y="4" width="2" height="361" fill="#777" opacity="0.6"/>
</g>
<polygon points="1471.4,193.8 1442.2,161.4 1442.2,177.0 1411.9,177.0 1411.9,211.7 1442.2,211.7 1442.2,227.3" fill="#ffff00" stroke="#7a7000" stroke-width="1" stroke-linejoin="miter"/>
<polygon points="1530.3,192.2 1561.2,160.3 1561.2,175.4 1590.9,175.4 1590.9,209.5 1561.2,209.5 1561.2,223.6" fill="#ffff00" stroke="#7a7000" stroke-width="1" stroke-linejoin="miter"/>
<text x="121.5" y="43.5" font-family='"Liberation Sans", Arial, Helvetica, sans-serif' font-size="40" font-weight="700" fill="#fff">(a)</text>
<text x="699" y="43.5" font-family='"Liberation Sans", Arial, Helvetica, sans-serif' font-size="40" font-weight="700" fill="#fff">(b)</text>
<text x="1279" y="43.5" font-family='"Liberation Sans", Arial, Helvetica, sans-serif' font-size="40" font-weight="700" fill="#fff">(c)</text>
<text x="174" y="139.3" font-family='"Liberation Sans", Arial, Helvetica, sans-serif' font-size="40" font-weight="400" fill="#fff">Pt island</text>
<text x="466.5" y="253.8" font-family='"Liberation Sans", Arial, Helvetica, sans-serif' font-size="40" font-weight="400" fill="#fff">Crack</text>
<rect x="495.2" y="338.4" width="129.9" height="4.5" fill="#fff"/>
<text x="530" y="326.8" font-family='"Liberation Sans", Arial, Helvetica, sans-serif' font-size="30" font-weight="700" fill="#fff" transform="skewX(0)">4</text>
<text x="555.3" y="327" font-family='"Liberation Sans", NanumGothic, sans-serif' font-size="31" font-weight="700" fill="#fff">㎛</text>
<rect x="1074.2" y="338.4" width="129.9" height="4.5" fill="#fff"/>
<text x="1109" y="326.8" font-family='"Liberation Sans", Arial, Helvetica, sans-serif' font-size="30" font-weight="700" fill="#fff" transform="skewX(0)">4</text>
<text x="1134.3" y="327" font-family='"Liberation Sans", NanumGothic, sans-serif' font-size="31" font-weight="700" fill="#fff">㎛</text>
<rect x="1653.2" y="338.4" width="129.9" height="4.5" fill="#fff"/>
<text x="1688" y="326.8" font-family='"Liberation Sans", Arial, Helvetica, sans-serif' font-size="30" font-weight="700" fill="#fff" transform="skewX(0)">4</text>
<text x="1713.3" y="327" font-family='"Liberation Sans", NanumGothic, sans-serif' font-size="31" font-weight="700" fill="#fff">㎛</text>
<text x="135.5" y="407.2" font-family='"Liberation Sans", Arial, Helvetica, sans-serif' font-size="40" font-weight="400" text-anchor="start" fill="#000" textLength="478" lengthAdjust="spacingAndGlyphs">Convex stretch (5% strain)</text>
<text x="726.5" y="407.2" font-family='"Liberation Sans", Arial, Helvetica, sans-serif' font-size="40" font-weight="400" text-anchor="start" fill="#000" textLength="454" lengthAdjust="spacingAndGlyphs">Linear stretch (5% strain)</text>
<text x="1331.0" y="406.8" font-family='"Liberation Sans", Arial, Helvetica, sans-serif' font-size="40" font-weight="400" text-anchor="start" fill="#000" textLength="401.5" lengthAdjust="spacingAndGlyphs">Concave compression</text>
<text x="40.0" y="497.5" font-family='"Liberation Sans", Arial, Helvetica, sans-serif' font-size="41" font-weight="700" text-anchor="start" fill="#000">(d)</text>
<rect x="100" y="500.3" width="490.5" height="394.7" fill="none" stroke="#000" stroke-width="3.6"/>
<line x1="100.3" y1="896.5" x2="100.3" y2="901.0" stroke="#000" stroke-width="3"/>
<line x1="133.8" y1="896.5" x2="133.8" y2="904.0" stroke="#000" stroke-width="3"/>
<line x1="167.3" y1="896.5" x2="167.3" y2="901.0" stroke="#000" stroke-width="3"/>
<line x1="200.8" y1="896.5" x2="200.8" y2="904.0" stroke="#000" stroke-width="3"/>
<line x1="234.3" y1="896.5" x2="234.3" y2="901.0" stroke="#000" stroke-width="3"/>
<line x1="267.8" y1="896.5" x2="267.8" y2="904.0" stroke="#000" stroke-width="3"/>
<line x1="301.3" y1="896.5" x2="301.3" y2="901.0" stroke="#000" stroke-width="3"/>
<line x1="334.8" y1="896.5" x2="334.8" y2="904.0" stroke="#000" stroke-width="3"/>
<line x1="368.3" y1="896.5" x2="368.3" y2="901.0" stroke="#000" stroke-width="3"/>
<line x1="401.8" y1="896.5" x2="401.8" y2="904.0" stroke="#000" stroke-width="3"/>
<line x1="435.3" y1="896.5" x2="435.3" y2="901.0" stroke="#000" stroke-width="3"/>
<line x1="468.8" y1="896.5" x2="468.8" y2="904.0" stroke="#000" stroke-width="3"/>
<line x1="502.3" y1="896.5" x2="502.3" y2="901.0" stroke="#000" stroke-width="3"/>
<line x1="535.8" y1="896.5" x2="535.8" y2="904.0" stroke="#000" stroke-width="3"/>
<line x1="569.3" y1="896.5" x2="569.3" y2="901.0" stroke="#000" stroke-width="3"/>
<line x1="129.7" y1="501.5" x2="129.7" y2="508.0" stroke="#000" stroke-width="3"/>
<line x1="160.4" y1="501.5" x2="160.4" y2="505.5" stroke="#000" stroke-width="3"/>
<line x1="191.2" y1="501.5" x2="191.2" y2="508.0" stroke="#000" stroke-width="3"/>
<line x1="221.9" y1="501.5" x2="221.9" y2="505.5" stroke="#000" stroke-width="3"/>
<line x1="252.7" y1="501.5" x2="252.7" y2="508.0" stroke="#000" stroke-width="3"/>
<line x1="283.4" y1="501.5" x2="283.4" y2="505.5" stroke="#000" stroke-width="3"/>
<line x1="314.2" y1="501.5" x2="314.2" y2="508.0" stroke="#000" stroke-width="3"/>
<line x1="344.9" y1="501.5" x2="344.9" y2="505.5" stroke="#000" stroke-width="3"/>
<line x1="375.7" y1="501.5" x2="375.7" y2="508.0" stroke="#000" stroke-width="3"/>
<line x1="406.4" y1="501.5" x2="406.4" y2="505.5" stroke="#000" stroke-width="3"/>
<line x1="437.2" y1="501.5" x2="437.2" y2="508.0" stroke="#000" stroke-width="3"/>
<line x1="467.9" y1="501.5" x2="467.9" y2="505.5" stroke="#000" stroke-width="3"/>
<line x1="498.7" y1="501.5" x2="498.7" y2="508.0" stroke="#000" stroke-width="3"/>
<line x1="529.5" y1="501.5" x2="529.5" y2="505.5" stroke="#000" stroke-width="3"/>
<line x1="560.2" y1="501.5" x2="560.2" y2="508.0" stroke="#000" stroke-width="3"/>
<line x1="91.0" y1="855.8" x2="99.0" y2="855.8" stroke="#000" stroke-width="3"/>
<line x1="590.0" y1="855.8" x2="583.0" y2="855.8" stroke="#000" stroke-width="3"/>
<line x1="94.5" y1="816.4" x2="99.0" y2="816.4" stroke="#000" stroke-width="3"/>
<line x1="590.0" y1="816.4" x2="586.0" y2="816.4" stroke="#000" stroke-width="3"/>
<line x1="91.0" y1="777.0" x2="99.0" y2="777.0" stroke="#000" stroke-width="3"/>
<line x1="590.0" y1="777.0" x2="583.0" y2="777.0" stroke="#000" stroke-width="3"/>
<line x1="94.5" y1="737.6" x2="99.0" y2="737.6" stroke="#000" stroke-width="3"/>
<line x1="590.0" y1="737.6" x2="586.0" y2="737.6" stroke="#000" stroke-width="3"/>
<line x1="91.0" y1="698.2" x2="99.0" y2="698.2" stroke="#000" stroke-width="3"/>
<line x1="590.0" y1="698.2" x2="583.0" y2="698.2" stroke="#000" stroke-width="3"/>
<line x1="94.5" y1="658.8" x2="99.0" y2="658.8" stroke="#000" stroke-width="3"/>
<line x1="590.0" y1="658.8" x2="586.0" y2="658.8" stroke="#000" stroke-width="3"/>
<line x1="91.0" y1="619.4" x2="99.0" y2="619.4" stroke="#000" stroke-width="3"/>
<line x1="590.0" y1="619.4" x2="583.0" y2="619.4" stroke="#000" stroke-width="3"/>
<line x1="94.5" y1="580.0" x2="99.0" y2="580.0" stroke="#000" stroke-width="3"/>
<line x1="590.0" y1="580.0" x2="586.0" y2="580.0" stroke="#000" stroke-width="3"/>
<line x1="91.0" y1="540.6" x2="99.0" y2="540.6" stroke="#000" stroke-width="3"/>
<line x1="590.0" y1="540.6" x2="583.0" y2="540.6" stroke="#000" stroke-width="3"/>
<line x1="94.5" y1="501.2" x2="99.0" y2="501.2" stroke="#000" stroke-width="3"/>
<line x1="590.0" y1="501.2" x2="586.0" y2="501.2" stroke="#000" stroke-width="3"/>
<text x="88.5" y="862.1" font-family='"Liberation Sans", Arial, Helvetica, sans-serif' font-size="23.5" font-weight="700" text-anchor="end" fill="#000">0</text>
<text x="88.5" y="783.3" font-family='"Liberation Sans", Arial, Helvetica, sans-serif' font-size="23.5" font-weight="700" text-anchor="end" fill="#000">1</text>
<text x="88.5" y="704.5" font-family='"Liberation Sans", Arial, Helvetica, sans-serif' font-size="23.5" font-weight="700" text-anchor="end" fill="#000">2</text>
<text x="88.5" y="625.7" font-family='"Liberation Sans", Arial, Helvetica, sans-serif' font-size="23.5" font-weight="700" text-anchor="end" fill="#000">3</text>
<text x="88.5" y="546.9" font-family='"Liberation Sans", Arial, Helvetica, sans-serif' font-size="23.5" font-weight="700" text-anchor="end" fill="#000">4</text>
<text x="133.8" y="927.0" font-family='"Liberation Sans", Arial, Helvetica, sans-serif' font-size="24.4" font-weight="700" text-anchor="middle" fill="#000">0.0</text>
<text x="200.8" y="927.0" font-family='"Liberation Sans", Arial, Helvetica, sans-serif' font-size="24.4" font-weight="700" text-anchor="middle" fill="#000">0.5</text>
<text x="267.8" y="927.0" font-family='"Liberation Sans", Arial, Helvetica, sans-serif' font-size="24.4" font-weight="700" text-anchor="middle" fill="#000">1.0</text>
<text x="334.8" y="927.0" font-family='"Liberation Sans", Arial, Helvetica, sans-serif' font-size="24.4" font-weight="700" text-anchor="middle" fill="#000">1.5</text>
<text x="401.8" y="927.0" font-family='"Liberation Sans", Arial, Helvetica, sans-serif' font-size="24.4" font-weight="700" text-anchor="middle" fill="#000">2.0</text>
<text x="468.8" y="927.0" font-family='"Liberation Sans", Arial, Helvetica, sans-serif' font-size="24.4" font-weight="700" text-anchor="middle" fill="#000">2.5</text>
<text x="535.8" y="927.0" font-family='"Liberation Sans", Arial, Helvetica, sans-serif' font-size="24.4" font-weight="700" text-anchor="middle" fill="#000">3.0</text>
<text x="339.3" y="968.0" font-family='"Liberation Sans", Arial, Helvetica, sans-serif' font-size="27.5" font-weight="400" text-anchor="middle" fill="#000" textLength="127" lengthAdjust="spacingAndGlyphs">Strain (%)</text>
<text transform="translate(35.8,728) rotate(-90)" font-family='"Liberation Sans", Arial, Helvetica, sans-serif' font-size="28" fill="#000" textLength="86.5" lengthAdjust="spacingAndGlyphs">R<tspan font-size="19" dy="6">R</tspan><tspan dy="-6"> (%)</tspan></text>
<path d="M133.8,855.8 C136.0,855.8 142.7,855.8 147.2,855.8 C151.7,855.8 156.1,855.8 160.6,855.8 C165.1,855.8 169.5,855.8 174.0,855.7 C178.5,855.7 182.9,855.7 187.4,855.6 C191.9,855.6 196.3,855.5 200.8,855.4 C205.3,855.3 209.7,855.3 214.2,855.1 C218.7,855.0 223.1,854.9 227.6,854.7 C232.1,854.5 236.5,854.3 241.0,854.0 C245.5,853.8 249.9,853.5 254.4,853.2 C258.9,852.9 263.3,852.5 267.8,852.1 C272.3,851.7 276.7,851.2 281.2,850.7 C285.7,850.2 290.1,849.7 294.6,849.0 C299.1,848.4 303.5,847.7 308.0,847.0 C312.5,846.2 316.9,845.4 321.4,844.5 C325.9,843.6 330.3,842.6 334.8,841.6 C339.3,840.5 343.7,839.4 348.2,838.2 C352.7,836.9 357.1,835.6 361.6,834.2 C366.1,832.8 370.5,831.3 375.0,829.7 C379.5,828.1 383.9,826.3 388.4,824.5 C392.9,822.7 397.3,820.8 401.8,818.7 C406.3,816.6 410.7,814.5 415.2,812.1 C419.7,809.8 424.1,807.4 428.6,804.8 C433.1,802.3 437.5,799.6 442.0,796.7 C446.5,793.8 450.9,790.9 455.4,787.7 C459.9,784.6 466.6,779.4 468.8,777.8" fill="none" stroke="#111" stroke-width="2.4"/>
<path d="M147.2,854.6 V857.0 M142.2,854.6 h10 M142.2,857.0 h10" stroke="#111" stroke-width="2" fill="none"/>
<path d="M160.6,854.6 V857.0 M155.6,854.6 h10 M155.6,857.0 h10" stroke="#111" stroke-width="2" fill="none"/>
<path d="M174.0,854.6 V856.9 M169.0,854.6 h10 M169.0,856.9 h10" stroke="#111" stroke-width="2" fill="none"/>
<path d="M187.4,853.7 V857.5 M182.4,853.7 h10 M182.4,857.5 h10" stroke="#111" stroke-width="2" fill="none"/>
<path d="M200.8,852.7 V858.2 M195.8,852.7 h10 M195.8,858.2 h10" stroke="#111" stroke-width="2" fill="none"/>
<path d="M214.2,851.5 V858.8 M209.2,851.5 h10 M209.2,858.8 h10" stroke="#111" stroke-width="2" fill="none"/>
<path d="M227.6,850.2 V859.2 M222.6,850.2 h10 M222.6,859.2 h10" stroke="#111" stroke-width="2" fill="none"/>
<path d="M241.0,848.7 V859.4 M236.0,848.7 h10 M236.0,859.4 h10" stroke="#111" stroke-width="2" fill="none"/>
<path d="M254.4,847.0 V859.4 M249.4,847.0 h10 M249.4,859.4 h10" stroke="#111" stroke-width="2" fill="none"/>
<path d="M267.8,845.0 V859.2 M262.8,845.0 h10 M262.8,859.2 h10" stroke="#111" stroke-width="2" fill="none"/>
<path d="M281.2,842.8 V858.7 M276.2,842.8 h10 M276.2,858.7 h10" stroke="#111" stroke-width="2" fill="none"/>
<path d="M294.6,840.2 V857.9 M289.6,840.2 h10 M289.6,857.9 h10" stroke="#111" stroke-width="2" fill="none"/>
<path d="M308.0,837.3 V856.7 M303.0,837.3 h10 M303.0,856.7 h10" stroke="#111" stroke-width="2" fill="none"/>
<path d="M321.4,833.9 V855.0 M316.4,833.9 h10 M316.4,855.0 h10" stroke="#111" stroke-width="2" fill="none"/>
<path d="M334.8,830.1 V853.0 M329.8,830.1 h10 M329.8,853.0 h10" stroke="#111" stroke-width="2" fill="none"/>
<path d="M348.2,825.9 V850.4 M343.2,825.9 h10 M343.2,850.4 h10" stroke="#111" stroke-width="2" fill="none"/>
<path d="M361.6,821.0 V847.4 M356.6,821.0 h10 M356.6,847.4 h10" stroke="#111" stroke-width="2" fill="none"/>
<path d="M375.0,815.6 V843.7 M370.0,815.6 h10 M370.0,843.7 h10" stroke="#111" stroke-width="2" fill="none"/>
<path d="M388.4,809.6 V839.4 M383.4,809.6 h10 M383.4,839.4 h10" stroke="#111" stroke-width="2" fill="none"/>
<path d="M401.8,802.9 V834.5 M396.8,802.9 h10 M396.8,834.5 h10" stroke="#111" stroke-width="2" fill="none"/>
<path d="M415.2,795.5 V828.8 M410.2,795.5 h10 M410.2,828.8 h10" stroke="#111" stroke-width="2" fill="none"/>
<path d="M428.6,787.3 V822.3 M423.6,787.3 h10 M423.6,822.3 h10" stroke="#111" stroke-width="2" fill="none"/>
<path d="M442.0,778.3 V815.1 M437.0,778.3 h10 M437.0,815.1 h10" stroke="#111" stroke-width="2" fill="none"/>
<path d="M455.4,768.5 V806.9 M450.4,768.5 h10 M450.4,806.9 h10" stroke="#111" stroke-width="2" fill="none"/>
<path d="M468.8,757.7 V797.9 M463.8,757.7 h10 M463.8,797.9 h10" stroke="#111" stroke-width="2" fill="none"/>
<path d="M133.8,855.8 C136.0,856.3 142.7,857.9 147.2,858.7 C151.7,859.6 156.1,860.3 160.6,860.9 C165.1,861.6 169.5,862.1 174.0,862.6 C178.5,863.1 182.9,863.5 187.4,863.9 C191.9,864.2 196.3,864.5 200.8,864.8 C205.3,865.1 209.7,865.3 214.2,865.5 C218.7,865.7 223.1,865.9 227.6,866.0 C232.1,866.2 236.5,866.3 241.0,866.4 C245.5,866.5 249.9,866.6 254.4,866.7 C258.9,866.8 263.3,866.9 267.8,866.9 C272.3,867.0 276.7,867.1 281.2,867.1 C285.7,867.2 290.1,867.2 294.6,867.2 C299.1,867.3 303.5,867.3 308.0,867.3 C312.5,867.4 316.9,867.4 321.4,867.4 C325.9,867.4 330.3,867.4 334.8,867.5 C339.3,867.5 343.7,867.5 348.2,867.5 C352.7,867.5 357.1,867.5 361.6,867.5 C366.1,867.5 370.5,867.5 375.0,867.6 C379.5,867.6 383.9,867.6 388.4,867.6 C392.9,867.6 397.3,867.6 401.8,867.6 C406.3,867.6 410.7,867.6 415.2,867.6 C419.7,867.6 424.1,867.6 428.6,867.6 C433.1,867.6 437.5,867.6 442.0,867.6 C446.5,867.6 450.9,867.6 455.4,867.6 C459.9,867.6 466.6,867.6 468.8,867.6" fill="none" stroke="#1010e0" stroke-width="2.4"/>
<path d="M147.2,856.4 V861.1 M142.2,856.4 h10 M142.2,861.1 h10" stroke="#1010e0" stroke-width="2" fill="none"/>
<path d="M160.6,853.1 V868.8 M155.6,853.1 h10 M155.6,868.8 h10" stroke="#1010e0" stroke-width="2" fill="none"/>
<path d="M174.0,854.7 V870.5 M169.0,854.7 h10 M169.0,870.5 h10" stroke="#1010e0" stroke-width="2" fill="none"/>
<path d="M187.4,856.0 V871.7 M182.4,856.0 h10 M182.4,871.7 h10" stroke="#1010e0" stroke-width="2" fill="none"/>
<path d="M200.8,856.9 V872.7 M195.8,856.9 h10 M195.8,872.7 h10" stroke="#1010e0" stroke-width="2" fill="none"/>
<path d="M214.2,857.6 V873.4 M209.2,857.6 h10 M209.2,873.4 h10" stroke="#1010e0" stroke-width="2" fill="none"/>
<path d="M227.6,858.1 V873.9 M222.6,858.1 h10 M222.6,873.9 h10" stroke="#1010e0" stroke-width="2" fill="none"/>
<path d="M241.0,858.5 V874.3 M236.0,858.5 h10 M236.0,874.3 h10" stroke="#1010e0" stroke-width="2" fill="none"/>
<path d="M254.4,858.8 V874.6 M249.4,858.8 h10 M249.4,874.6 h10" stroke="#1010e0" stroke-width="2" fill="none"/>
<path d="M267.8,859.1 V874.8 M262.8,859.1 h10 M262.8,874.8 h10" stroke="#1010e0" stroke-width="2" fill="none"/>
<path d="M281.2,859.2 V875.0 M276.2,859.2 h10 M276.2,875.0 h10" stroke="#1010e0" stroke-width="2" fill="none"/>
<path d="M294.6,859.4 V875.1 M289.6,859.4 h10 M289.6,875.1 h10" stroke="#1010e0" stroke-width="2" fill="none"/>
<path d="M308.0,859.5 V875.2 M303.0,859.5 h10 M303.0,875.2 h10" stroke="#1010e0" stroke-width="2" fill="none"/>
<path d="M321.4,859.5 V875.3 M316.4,859.5 h10 M316.4,875.3 h10" stroke="#1010e0" stroke-width="2" fill="none"/>
<path d="M334.8,859.6 V875.3 M329.8,859.6 h10 M329.8,875.3 h10" stroke="#1010e0" stroke-width="2" fill="none"/>
<path d="M348.2,859.6 V875.4 M343.2,859.6 h10 M343.2,875.4 h10" stroke="#1010e0" stroke-width="2" fill="none"/>
<path d="M361.6,859.6 V875.4 M356.6,859.6 h10 M356.6,875.4 h10" stroke="#1010e0" stroke-width="2" fill="none"/>
<path d="M375.0,859.7 V875.4 M370.0,859.7 h10 M370.0,875.4 h10" stroke="#1010e0" stroke-width="2" fill="none"/>
<path d="M388.4,859.7 V875.4 M383.4,859.7 h10 M383.4,875.4 h10" stroke="#1010e0" stroke-width="2" fill="none"/>
<path d="M401.8,859.7 V875.5 M396.8,859.7 h10 M396.8,875.5 h10" stroke="#1010e0" stroke-width="2" fill="none"/>
<path d="M415.2,859.7 V875.5 M410.2,859.7 h10 M410.2,875.5 h10" stroke="#1010e0" stroke-width="2" fill="none"/>
<path d="M428.6,859.7 V875.5 M423.6,859.7 h10 M423.6,875.5 h10" stroke="#1010e0" stroke-width="2" fill="none"/>
<path d="M442.0,859.7 V875.5 M437.0,859.7 h10 M437.0,875.5 h10" stroke="#1010e0" stroke-width="2" fill="none"/>
<path d="M455.4,859.7 V875.5 M450.4,859.7 h10 M450.4,875.5 h10" stroke="#1010e0" stroke-width="2" fill="none"/>
<path d="M468.8,859.7 V875.5 M463.8,859.7 h10 M463.8,875.5 h10" stroke="#1010e0" stroke-width="2" fill="none"/>
<path d="M133.8,855.8 C136.0,855.8 142.7,856.2 147.2,855.8 C151.7,855.4 156.1,854.7 160.6,853.4 C165.1,852.1 169.5,850.3 174.0,847.9 C178.5,845.6 182.9,842.9 187.4,839.3 C191.9,835.6 196.3,831.6 200.8,825.9 C205.3,820.1 209.7,812.9 214.2,804.6 C218.7,796.3 223.1,785.7 227.6,776.2 C232.1,766.8 236.5,757.4 241.0,747.8 C245.5,738.3 249.9,727.6 254.4,718.7 C258.9,709.8 263.3,701.9 267.8,694.3 C272.3,686.6 276.7,678.9 281.2,673.0 C285.7,667.1 290.1,663.3 294.6,658.8 C299.1,654.3 303.5,649.7 308.0,646.2 C312.5,642.6 316.9,640.5 321.4,637.5 C325.9,634.5 330.3,630.8 334.8,628.1 C339.3,625.3 343.7,623.3 348.2,621.0 C352.7,618.6 357.1,616.2 361.6,613.9 C366.1,611.5 370.5,608.9 375.0,606.8 C379.5,604.7 383.9,603.2 388.4,601.3 C392.9,599.3 397.3,596.8 401.8,595.0 C406.3,593.1 410.7,591.8 415.2,590.2 C419.7,588.7 424.1,586.8 428.6,585.5 C433.1,584.2 437.5,583.7 442.0,582.4 C446.5,581.1 450.9,579.2 455.4,577.6 C459.9,576.1 466.6,573.7 468.8,572.9" fill="none" stroke="#e01010" stroke-width="2.4"/>
<path d="M147.2,853.2 V858.4 M142.2,853.2 h10 M142.2,858.4 h10" stroke="#e01010" stroke-width="2" fill="none"/>
<path d="M160.6,849.8 V857.1 M155.6,849.8 h10 M155.6,857.1 h10" stroke="#e01010" stroke-width="2" fill="none"/>
<path d="M174.0,843.3 V852.6 M169.0,843.3 h10 M169.0,852.6 h10" stroke="#e01010" stroke-width="2" fill="none"/>
<path d="M187.4,833.6 V844.9 M182.4,833.6 h10 M182.4,844.9 h10" stroke="#e01010" stroke-width="2" fill="none"/>
<path d="M200.8,819.2 V832.6 M195.8,819.2 h10 M195.8,832.6 h10" stroke="#e01010" stroke-width="2" fill="none"/>
<path d="M214.2,796.9 V812.3 M209.2,796.9 h10 M209.2,812.3 h10" stroke="#e01010" stroke-width="2" fill="none"/>
<path d="M227.6,767.5 V785.0 M222.6,767.5 h10 M222.6,785.0 h10" stroke="#e01010" stroke-width="2" fill="none"/>
<path d="M241.0,738.1 V757.6 M236.0,738.1 h10 M236.0,757.6 h10" stroke="#e01010" stroke-width="2" fill="none"/>
<path d="M254.4,707.9 V729.5 M249.4,707.9 h10 M249.4,729.5 h10" stroke="#e01010" stroke-width="2" fill="none"/>
<path d="M267.8,682.4 V706.1 M262.8,682.4 h10 M262.8,706.1 h10" stroke="#e01010" stroke-width="2" fill="none"/>
<path d="M281.2,660.1 V685.8 M276.2,660.1 h10 M276.2,685.8 h10" stroke="#e01010" stroke-width="2" fill="none"/>
<path d="M294.6,644.9 V672.7 M289.6,644.9 h10 M289.6,672.7 h10" stroke="#e01010" stroke-width="2" fill="none"/>
<path d="M308.0,631.3 V661.1 M303.0,631.3 h10 M303.0,661.1 h10" stroke="#e01010" stroke-width="2" fill="none"/>
<path d="M321.4,621.6 V653.4 M316.4,621.6 h10 M316.4,653.4 h10" stroke="#e01010" stroke-width="2" fill="none"/>
<path d="M334.8,611.1 V645.0 M329.8,611.1 h10 M329.8,645.0 h10" stroke="#e01010" stroke-width="2" fill="none"/>
<path d="M348.2,603.0 V638.9 M343.2,603.0 h10 M343.2,638.9 h10" stroke="#e01010" stroke-width="2" fill="none"/>
<path d="M361.6,594.9 V632.9 M356.6,594.9 h10 M356.6,632.9 h10" stroke="#e01010" stroke-width="2" fill="none"/>
<path d="M375.0,586.8 V626.8 M370.0,586.8 h10 M370.0,626.8 h10" stroke="#e01010" stroke-width="2" fill="none"/>
<path d="M388.4,580.2 V622.3 M383.4,580.2 h10 M383.4,622.3 h10" stroke="#e01010" stroke-width="2" fill="none"/>
<path d="M401.8,572.9 V617.0 M396.8,572.9 h10 M396.8,617.0 h10" stroke="#e01010" stroke-width="2" fill="none"/>
<path d="M415.2,567.2 V613.3 M410.2,567.2 h10 M410.2,613.3 h10" stroke="#e01010" stroke-width="2" fill="none"/>
<path d="M428.6,561.4 V609.6 M423.6,561.4 h10 M423.6,609.6 h10" stroke="#e01010" stroke-width="2" fill="none"/>
<path d="M442.0,557.2 V607.5 M437.0,557.2 h10 M437.0,607.5 h10" stroke="#e01010" stroke-width="2" fill="none"/>
<path d="M455.4,551.5 V603.8 M450.4,551.5 h10 M450.4,603.8 h10" stroke="#e01010" stroke-width="2" fill="none"/>
<path d="M468.8,545.7 V600.1 M463.8,545.7 h10 M463.8,600.1 h10" stroke="#e01010" stroke-width="2" fill="none"/>
<rect x="117.8" y="526.5" width="214.5" height="72.5" fill="#fff" stroke="#222" stroke-width="1.6"/>
<line x1="127.0" y1="539.3" x2="169.6" y2="539.3" stroke="#d42020" stroke-width="2.2"/>
<line x1="127.0" y1="562.6" x2="169.6" y2="562.6" stroke="#111" stroke-width="2.2"/>
<line x1="127.0" y1="586.0" x2="169.6" y2="586.0" stroke="#2020d0" stroke-width="1.6"/>
<text x="175.0" y="545.2" font-family='"Liberation Sans", Arial, Helvetica, sans-serif' font-size="18.5" font-weight="400" text-anchor="start" fill="#000" textLength="137" lengthAdjust="spacingAndGlyphs">Convex Bending</text>
<text x="175.0" y="568.5" font-family='"Liberation Sans", Arial, Helvetica, sans-serif' font-size="18.5" font-weight="400" text-anchor="start" fill="#000">Linear Stretch</text>
<text x="175.0" y="591.9" font-family='"Liberation Sans", Arial, Helvetica, sans-serif' font-size="18.5" font-weight="400" text-anchor="start" fill="#000">Concave Bending</text>
<defs><radialGradient id="ball" cx="0.4" cy="0.35" r="0.7">
<stop offset="0" stop-color="#ffffff"/><stop offset="0.45" stop-color="#c4c4c4"/><stop offset="1" stop-color="#6a6a6a"/></radialGradient>
<filter id="sb" filterUnits="userSpaceOnUse" x="0" y="0" width="1849" height="985"><feGaussianBlur stdDeviation="1.2"/></filter></defs>
<text x="500.2" y="551.3" font-family='"Liberation Sans", Arial, Helvetica, sans-serif' font-size="17.5" fill="#222" textLength="63.5" lengthAdjust="spacingAndGlyphs">Convex</text>
<path d="M489.2,591.0 A57.9,57.9 0 0 1 575.0,591.0" fill="none" stroke="#dfe2ef" stroke-width="5" filter="url(#sb)"/>
<path d="M497.0,574.0 A70.0,70.0 0 0 1 566.4,574.0" fill="none" stroke="#6e6e6e" stroke-width="3.5" stroke-linecap="round"/>
<path d="M497.0,574.0 A70.0,70.0 0 0 1 566.4,574.0" fill="none" stroke="#8a8a8a" stroke-width="1.2" stroke-linecap="round" opacity="0.6"/>
<circle cx="497.0" cy="574.0" r="3.6" fill="url(#ball)" stroke="#6a6a6a" stroke-width="0.8"/>
<circle cx="566.4" cy="573.7" r="3.6" fill="url(#ball)" stroke="#6a6a6a" stroke-width="0.8"/>
<text x="508.8" y="754.3" font-family='"Liberation Sans", Arial, Helvetica, sans-serif' font-size="17.5" fill="#222" textLength="47.3" lengthAdjust="spacingAndGlyphs">Linear</text>
<path d="M483.6,771.3 H580.5" stroke="#dfe2ef" stroke-width="5" filter="url(#sb)"/>
<path d="M494,766.5 H570.5" stroke="#6e6e6e" stroke-width="3.6" stroke-linecap="round"/>
<circle cx="497.8" cy="764.7" r="3.8" fill="url(#ball)" stroke="#6a6a6a" stroke-width="0.8"/>
<circle cx="565.7" cy="764.7" r="3.8" fill="url(#ball)" stroke="#6a6a6a" stroke-width="0.8"/>
<text x="501.0" y="850.5" font-family='"Liberation Sans", Arial, Helvetica, sans-serif' font-size="17.5" fill="#222" textLength="66.5" lengthAdjust="spacingAndGlyphs">Concave</text>
<path d="M493.7,858.0 A49.1,49.1 0 0 0 572.2,858.0" fill="none" stroke="#dfe2ef" stroke-width="5" filter="url(#sb)"/>
<path d="M509.7,864.2 A33.1,33.1 0 0 0 557.3,864.2" fill="none" stroke="#6e6e6e" stroke-width="3.5" stroke-linecap="round"/>
<path d="M509.7,864.2 A33.1,33.1 0 0 0 557.3,864.2" fill="none" stroke="#8a8a8a" stroke-width="1.2" stroke-linecap="round" opacity="0.6"/>
<circle cx="509.7" cy="864.2" r="3.6" fill="url(#ball)" stroke="#6a6a6a" stroke-width="0.8"/>
<circle cx="557.3" cy="863.9" r="3.6" fill="url(#ball)" stroke="#6a6a6a" stroke-width="0.8"/>
<text x="620.0" y="497.5" font-family='"Liberation Sans", Arial, Helvetica, sans-serif' font-size="41" font-weight="700" text-anchor="start" fill="#000">(e)</text>
<path d="M701.8,502 V886.5 H1220.5 V505 H701.8" fill="none" stroke="#000" stroke-width="2.8"/>
<line x1="693.5" y1="885.2" x2="701.0" y2="885.2" stroke="#000" stroke-width="2.6"/>
<line x1="1221.0" y1="885.2" x2="1212.0" y2="885.2" stroke="#000" stroke-width="2.6"/>
<line x1="697.0" y1="855.0" x2="701.0" y2="855.0" stroke="#000" stroke-width="2.6"/>
<line x1="1221.0" y1="855.0" x2="1214.0" y2="855.0" stroke="#000" stroke-width="2.6"/>
<line x1="693.5" y1="824.8" x2="701.0" y2="824.8" stroke="#000" stroke-width="2.6"/>
<line x1="1221.0" y1="824.8" x2="1212.0" y2="824.8" stroke="#000" stroke-width="2.6"/>
<line x1="697.0" y1="794.5" x2="701.0" y2="794.5" stroke="#000" stroke-width="2.6"/>
<line x1="1221.0" y1="794.5" x2="1214.0" y2="794.5" stroke="#000" stroke-width="2.6"/>
<line x1="693.5" y1="764.3" x2="701.0" y2="764.3" stroke="#000" stroke-width="2.6"/>
<line x1="1221.0" y1="764.3" x2="1212.0" y2="764.3" stroke="#000" stroke-width="2.6"/>
<line x1="697.0" y1="734.0" x2="701.0" y2="734.0" stroke="#000" stroke-width="2.6"/>
<line x1="1221.0" y1="734.0" x2="1214.0" y2="734.0" stroke="#000" stroke-width="2.6"/>
<line x1="693.5" y1="703.8" x2="701.0" y2="703.8" stroke="#000" stroke-width="2.6"/>
<line x1="1221.0" y1="703.8" x2="1212.0" y2="703.8" stroke="#000" stroke-width="2.6"/>
<line x1="697.0" y1="673.5" x2="701.0" y2="673.5" stroke="#000" stroke-width="2.6"/>
<line x1="1221.0" y1="673.5" x2="1214.0" y2="673.5" stroke="#000" stroke-width="2.6"/>
<line x1="693.5" y1="643.3" x2="701.0" y2="643.3" stroke="#000" stroke-width="2.6"/>
<line x1="1221.0" y1="643.3" x2="1212.0" y2="643.3" stroke="#000" stroke-width="2.6"/>
<line x1="697.0" y1="613.1" x2="701.0" y2="613.1" stroke="#000" stroke-width="2.6"/>
<line x1="1221.0" y1="613.1" x2="1214.0" y2="613.1" stroke="#000" stroke-width="2.6"/>
<line x1="693.5" y1="582.8" x2="701.0" y2="582.8" stroke="#000" stroke-width="2.6"/>
<line x1="1221.0" y1="582.8" x2="1212.0" y2="582.8" stroke="#000" stroke-width="2.6"/>
<line x1="697.0" y1="552.6" x2="701.0" y2="552.6" stroke="#000" stroke-width="2.6"/>
<line x1="1221.0" y1="552.6" x2="1214.0" y2="552.6" stroke="#000" stroke-width="2.6"/>
<line x1="693.5" y1="522.4" x2="701.0" y2="522.4" stroke="#000" stroke-width="2.6"/>
<line x1="1221.0" y1="522.4" x2="1212.0" y2="522.4" stroke="#000" stroke-width="2.6"/>
<text x="687.5" y="529.1" font-family='"Liberation Sans", Arial, Helvetica, sans-serif' font-size="22" font-weight="700" text-anchor="end" fill="#000">150</text>
<text x="687.5" y="589.6" font-family='"Liberation Sans", Arial, Helvetica, sans-serif' font-size="22" font-weight="700" text-anchor="end" fill="#000">120</text>
<text x="687.5" y="650.1" font-family='"Liberation Sans", Arial, Helvetica, sans-serif' font-size="22" font-weight="700" text-anchor="end" fill="#000">90</text>
<text x="687.5" y="710.6" font-family='"Liberation Sans", Arial, Helvetica, sans-serif' font-size="22" font-weight="700" text-anchor="end" fill="#000">60</text>
<text x="687.5" y="771.1" font-family='"Liberation Sans", Arial, Helvetica, sans-serif' font-size="22" font-weight="700" text-anchor="end" fill="#000">30</text>
<text x="687.5" y="831.5" font-family='"Liberation Sans", Arial, Helvetica, sans-serif' font-size="22" font-weight="700" text-anchor="end" fill="#000">0</text>
<text x="687.5" y="892.0" font-family='"Liberation Sans", Arial, Helvetica, sans-serif' font-size="22" font-weight="700" text-anchor="end" fill="#000">-30</text>
<line x1="703.5" y1="824.8" x2="1219.0" y2="824.8" stroke="#000" stroke-width="1.8" stroke-dasharray="1.8,2.8"/>
<rect x="753.4" y="824.8" width="69.80000000000007" height="17.5" fill="#0a0aff" stroke="#222" stroke-width="1"/>
<rect x="926" y="743.3" width="70" height="81.4" fill="#000" stroke="#222" stroke-width="1"/>
<rect x="1099.4" y="534.6" width="69.69999999999982" height="290.1" fill="#ff0000" stroke="#222" stroke-width="1"/>
<text x="786.0" y="866.4" font-family='"Liberation Serif", "Times New Roman", serif' font-size="19" font-weight="700" text-anchor="middle" fill="#1c1ccc">-8.68</text>
<text x="962.0" y="734.4" font-family='"Liberation Serif", "Times New Roman", serif' font-size="19" font-weight="700" text-anchor="middle" fill="#111">40.4</text>
<text x="1137.5" y="527.1" font-family='"Liberation Serif", "Times New Roman", serif' font-size="19" font-weight="700" text-anchor="middle" fill="#c81818">143.9</text>
<text x="797.2" y="919.5" font-family='"Liberation Sans", Arial, Helvetica, sans-serif' font-size="22" font-weight="700" text-anchor="middle" fill="#000" textLength="86.8" lengthAdjust="spacingAndGlyphs">Convex</text>
<text x="797.2" y="948.6" font-family='"Liberation Sans", Arial, Helvetica, sans-serif' font-size="22" font-weight="700" text-anchor="middle" fill="#000" textLength="96.7" lengthAdjust="spacingAndGlyphs">Bending</text>
<text x="967.0" y="919.5" font-family='"Liberation Sans", Arial, Helvetica, sans-serif' font-size="22" font-weight="700" text-anchor="middle" fill="#000" textLength="71.6" lengthAdjust="spacingAndGlyphs">Linear</text>
<text x="967.0" y="948.6" font-family='"Liberation Sans", Arial, Helvetica, sans-serif' font-size="22" font-weight="700" text-anchor="middle" fill="#000" textLength="80.7" lengthAdjust="spacingAndGlyphs">stretch</text>
<text x="1138.5" y="919.5" font-family='"Liberation Sans", Arial, Helvetica, sans-serif' font-size="22" font-weight="700" text-anchor="middle" fill="#000" textLength="100.7" lengthAdjust="spacingAndGlyphs">Concave</text>
<text x="1138.5" y="948.6" font-family='"Liberation Sans", Arial, Helvetica, sans-serif' font-size="22" font-weight="700" text-anchor="middle" fill="#000" textLength="94.3" lengthAdjust="spacingAndGlyphs">bending</text>
<text transform="translate(644.7,735) rotate(-90)" font-family='"Liberation Sans", Arial, Helvetica, sans-serif' font-size="26" fill="#000" textLength="82" lengthAdjust="spacingAndGlyphs">R<tspan font-size="18" dy="6">R</tspan><tspan dy="-6"> (%)</tspan></text>
<text x="1267.0" y="497.5" font-family='"Liberation Sans", Arial, Helvetica, sans-serif' font-size="41" font-weight="700" text-anchor="start" fill="#000">(f)</text>
<rect x="1328.6" y="499.6" width="486.4" height="392.4" fill="none" stroke="#000" stroke-width="3.3"/>
<line x1="1328.0" y1="893.0" x2="1328.0" y2="899.5" stroke="#000" stroke-width="3"/>
<line x1="1368.8" y1="893.0" x2="1368.8" y2="897.0" stroke="#000" stroke-width="3"/>
<line x1="1409.5" y1="893.0" x2="1409.5" y2="899.5" stroke="#000" stroke-width="3"/>
<line x1="1450.2" y1="893.0" x2="1450.2" y2="897.0" stroke="#000" stroke-width="3"/>
<line x1="1491.0" y1="893.0" x2="1491.0" y2="899.5" stroke="#000" stroke-width="3"/>
<line x1="1531.8" y1="893.0" x2="1531.8" y2="897.0" stroke="#000" stroke-width="3"/>
<line x1="1572.5" y1="893.0" x2="1572.5" y2="899.5" stroke="#000" stroke-width="3"/>
<line x1="1613.2" y1="893.0" x2="1613.2" y2="897.0" stroke="#000" stroke-width="3"/>
<line x1="1654.0" y1="893.0" x2="1654.0" y2="899.5" stroke="#000" stroke-width="3"/>
<line x1="1694.8" y1="893.0" x2="1694.8" y2="897.0" stroke="#000" stroke-width="3"/>
<line x1="1735.5" y1="893.0" x2="1735.5" y2="899.5" stroke="#000" stroke-width="3"/>
<line x1="1776.2" y1="893.0" x2="1776.2" y2="897.0" stroke="#000" stroke-width="3"/>
<line x1="1817.0" y1="893.0" x2="1817.0" y2="899.5" stroke="#000" stroke-width="3"/>
<line x1="1348.4" y1="500.5" x2="1348.4" y2="506.0" stroke="#000" stroke-width="3"/>
<line x1="1368.8" y1="500.5" x2="1368.8" y2="506.0" stroke="#000" stroke-width="3"/>
<line x1="1389.1" y1="500.5" x2="1389.1" y2="506.0" stroke="#000" stroke-width="3"/>
<line x1="1409.5" y1="500.5" x2="1409.5" y2="506.0" stroke="#000" stroke-width="3"/>
<line x1="1429.9" y1="500.5" x2="1429.9" y2="506.0" stroke="#000" stroke-width="3"/>
<line x1="1450.2" y1="500.5" x2="1450.2" y2="506.0" stroke="#000" stroke-width="3"/>
<line x1="1470.6" y1="500.5" x2="1470.6" y2="506.0" stroke="#000" stroke-width="3"/>
<line x1="1491.0" y1="500.5" x2="1491.0" y2="506.0" stroke="#000" stroke-width="3"/>
<line x1="1511.4" y1="500.5" x2="1511.4" y2="506.0" stroke="#000" stroke-width="3"/>
<line x1="1531.8" y1="500.5" x2="1531.8" y2="506.0" stroke="#000" stroke-width="3"/>
<line x1="1552.1" y1="500.5" x2="1552.1" y2="506.0" stroke="#000" stroke-width="3"/>
<line x1="1572.5" y1="500.5" x2="1572.5" y2="506.0" stroke="#000" stroke-width="3"/>
<line x1="1592.9" y1="500.5" x2="1592.9" y2="506.0" stroke="#000" stroke-width="3"/>
<line x1="1613.2" y1="500.5" x2="1613.2" y2="506.0" stroke="#000" stroke-width="3"/>
<line x1="1633.6" y1="500.5" x2="1633.6" y2="506.0" stroke="#000" stroke-width="3"/>
<line x1="1654.0" y1="500.5" x2="1654.0" y2="506.0" stroke="#000" stroke-width="3"/>
<line x1="1674.4" y1="500.5" x2="1674.4" y2="506.0" stroke="#000" stroke-width="3"/>
<line x1="1694.8" y1="500.5" x2="1694.8" y2="506.0" stroke="#000" stroke-width="3"/>
<line x1="1715.1" y1="500.5" x2="1715.1" y2="506.0" stroke="#000" stroke-width="3"/>
<line x1="1735.5" y1="500.5" x2="1735.5" y2="506.0" stroke="#000" stroke-width="3"/>
<line x1="1755.9" y1="500.5" x2="1755.9" y2="506.0" stroke="#000" stroke-width="3"/>
<line x1="1776.2" y1="500.5" x2="1776.2" y2="506.0" stroke="#000" stroke-width="3"/>
<line x1="1796.6" y1="500.5" x2="1796.6" y2="506.0" stroke="#000" stroke-width="3"/>
<line x1="1324.0" y1="870.0" x2="1328.0" y2="870.0" stroke="#000" stroke-width="3"/>
<line x1="1815.5" y1="870.0" x2="1819.5" y2="870.0" stroke="#000" stroke-width="3"/>
<line x1="1321.5" y1="840.9" x2="1328.0" y2="840.9" stroke="#000" stroke-width="3"/>
<line x1="1815.5" y1="840.9" x2="1823.0" y2="840.9" stroke="#000" stroke-width="3"/>
<line x1="1324.0" y1="811.8" x2="1328.0" y2="811.8" stroke="#000" stroke-width="3"/>
<line x1="1815.5" y1="811.8" x2="1819.5" y2="811.8" stroke="#000" stroke-width="3"/>
<line x1="1321.5" y1="782.7" x2="1328.0" y2="782.7" stroke="#000" stroke-width="3"/>
<line x1="1815.5" y1="782.7" x2="1823.0" y2="782.7" stroke="#000" stroke-width="3"/>
<line x1="1324.0" y1="753.6" x2="1328.0" y2="753.6" stroke="#000" stroke-width="3"/>
<line x1="1815.5" y1="753.6" x2="1819.5" y2="753.6" stroke="#000" stroke-width="3"/>
<line x1="1321.5" y1="724.5" x2="1328.0" y2="724.5" stroke="#000" stroke-width="3"/>
<line x1="1815.5" y1="724.5" x2="1823.0" y2="724.5" stroke="#000" stroke-width="3"/>
<line x1="1324.0" y1="695.4" x2="1328.0" y2="695.4" stroke="#000" stroke-width="3"/>
<line x1="1815.5" y1="695.4" x2="1819.5" y2="695.4" stroke="#000" stroke-width="3"/>
<line x1="1321.5" y1="666.3" x2="1328.0" y2="666.3" stroke="#000" stroke-width="3"/>
<line x1="1815.5" y1="666.3" x2="1823.0" y2="666.3" stroke="#000" stroke-width="3"/>
<line x1="1324.0" y1="637.2" x2="1328.0" y2="637.2" stroke="#000" stroke-width="3"/>
<line x1="1815.5" y1="637.2" x2="1819.5" y2="637.2" stroke="#000" stroke-width="3"/>
<line x1="1321.5" y1="608.1" x2="1328.0" y2="608.1" stroke="#000" stroke-width="3"/>
<line x1="1815.5" y1="608.1" x2="1823.0" y2="608.1" stroke="#000" stroke-width="3"/>
<line x1="1324.0" y1="579.0" x2="1328.0" y2="579.0" stroke="#000" stroke-width="3"/>
<line x1="1815.5" y1="579.0" x2="1819.5" y2="579.0" stroke="#000" stroke-width="3"/>
<line x1="1321.5" y1="549.9" x2="1328.0" y2="549.9" stroke="#000" stroke-width="3"/>
<line x1="1815.5" y1="549.9" x2="1823.0" y2="549.9" stroke="#000" stroke-width="3"/>
<line x1="1324.0" y1="520.8" x2="1328.0" y2="520.8" stroke="#000" stroke-width="3"/>
<line x1="1815.5" y1="520.8" x2="1819.5" y2="520.8" stroke="#000" stroke-width="3"/>
<text x="1317.0" y="847.5" font-family='"Liberation Sans", Arial, Helvetica, sans-serif' font-size="23" font-weight="700" text-anchor="end" fill="#000">0</text>
<text x="1317.0" y="789.3" font-family='"Liberation Sans", Arial, Helvetica, sans-serif' font-size="23" font-weight="700" text-anchor="end" fill="#000">1</text>
<text x="1317.0" y="731.1" font-family='"Liberation Sans", Arial, Helvetica, sans-serif' font-size="23" font-weight="700" text-anchor="end" fill="#000">2</text>
<text x="1317.0" y="672.9" font-family='"Liberation Sans", Arial, Helvetica, sans-serif' font-size="23" font-weight="700" text-anchor="end" fill="#000">3</text>
<text x="1317.0" y="614.7" font-family='"Liberation Sans", Arial, Helvetica, sans-serif' font-size="23" font-weight="700" text-anchor="end" fill="#000">4</text>
<text x="1317.0" y="556.5" font-family='"Liberation Sans", Arial, Helvetica, sans-serif' font-size="23" font-weight="700" text-anchor="end" fill="#000">5</text>
<text x="1325.0" y="921.2" font-family='"Liberation Sans", Arial, Helvetica, sans-serif' font-size="23" font-weight="700" text-anchor="middle" fill="#000">-3</text>
<text x="1406.5" y="921.2" font-family='"Liberation Sans", Arial, Helvetica, sans-serif' font-size="23" font-weight="700" text-anchor="middle" fill="#000">-2</text>
<text x="1488.0" y="921.2" font-family='"Liberation Sans", Arial, Helvetica, sans-serif' font-size="23" font-weight="700" text-anchor="middle" fill="#000">-1</text>
<text x="1572.5" y="921.2" font-family='"Liberation Sans", Arial, Helvetica, sans-serif' font-size="23" font-weight="700" text-anchor="middle" fill="#000">0</text>
<text x="1654.0" y="921.2" font-family='"Liberation Sans", Arial, Helvetica, sans-serif' font-size="23" font-weight="700" text-anchor="middle" fill="#000">1</text>
<text x="1735.5" y="921.2" font-family='"Liberation Sans", Arial, Helvetica, sans-serif' font-size="23" font-weight="700" text-anchor="middle" fill="#000">2</text>
<text x="1817.0" y="921.2" font-family='"Liberation Sans", Arial, Helvetica, sans-serif' font-size="23" font-weight="700" text-anchor="middle" fill="#000">3</text>
<text x="1578.0" y="951.5" font-family='"Liberation Sans", Arial, Helvetica, sans-serif' font-size="27" font-weight="400" text-anchor="middle" fill="#000" textLength="124.5" lengthAdjust="spacingAndGlyphs">Strain (%)</text>
<text transform="translate(1282.9,726.5) rotate(-90)" font-family='"Liberation Sans", Arial, Helvetica, sans-serif' font-size="26" fill="#000" textLength="85.5" lengthAdjust="spacingAndGlyphs">R<tspan font-size="18" dy="6">R</tspan><tspan dy="-6"> (%)</tspan></text>
<line x1="1338.6" y1="842.0" x2="1810.0" y2="842.0" stroke="#000" stroke-width="1.8" stroke-dasharray="1.8,2.8"/>
<line x1="1572.0" y1="521.0" x2="1572.0" y2="890.0" stroke="#000" stroke-width="1.8" stroke-dasharray="1.8,2.8"/>
<path d="M1368.8,851.0 C1375.2,850.9 1395.1,850.7 1407.0,850.5 C1418.9,850.3 1427.8,850.2 1440.0,850.0 C1452.2,849.8 1466.7,849.9 1480.0,849.5 C1493.3,849.1 1509.2,848.2 1520.0,847.5 C1530.8,846.8 1538.3,846.2 1545.0,845.5 C1551.7,844.8 1555.5,843.8 1560.0,843.0 C1564.5,842.2 1570.0,841.3 1572.0,841.0" fill="none" stroke="#1515d0" stroke-width="3"/>
<path d="M1571.9,840.8 C1574.3,840.3 1581.8,839.0 1586.4,837.6 C1591.0,836.2 1596.3,834.2 1599.6,832.3 C1602.9,830.4 1603.8,828.6 1606.0,826.0 C1608.2,823.4 1610.8,819.8 1612.8,816.5 C1614.8,813.2 1616.2,809.5 1618.0,806.0 C1619.8,802.5 1621.2,800.7 1623.4,795.4 C1625.6,790.1 1628.7,780.9 1631.3,774.3 C1633.9,767.7 1636.1,762.8 1639.2,755.8 C1642.3,748.8 1646.3,738.6 1649.8,732.0 C1653.3,725.4 1656.3,721.9 1660.3,716.2 C1664.2,710.5 1669.1,703.4 1673.5,697.7 C1677.9,692.0 1681.9,686.6 1686.7,681.8 C1691.5,676.9 1697.3,672.3 1702.6,668.6 C1707.9,664.9 1713.1,662.2 1718.4,659.4 C1723.7,656.5 1729.0,654.1 1734.3,651.5 C1739.6,648.9 1745.3,646.2 1750.1,643.6 C1754.9,641.0 1759.1,637.5 1763.3,635.6 C1767.5,633.7 1773.2,632.8 1775.2,632.2" fill="none" stroke="#e01515" stroke-width="3" stroke-linejoin="round"/>
<path d="M1394.8,561.9 A69.7,69.7 0 0 0 1512.8,561.9" fill="none" stroke="#dfe2ef" stroke-width="8" filter="url(#sb)"/>
<path d="M1418.3,571.8 A49.1,49.1 0 0 0 1490.1,571.8" fill="none" stroke="#6e6e6e" stroke-width="4.8" stroke-linecap="round"/>
<path d="M1418.3,571.8 A49.1,49.1 0 0 0 1490.1,571.8" fill="none" stroke="#8a8a8a" stroke-width="1.7" stroke-linecap="round" opacity="0.6"/>
<circle cx="1418.3" cy="571.8" r="5.5" fill="url(#ball)" stroke="#6a6a6a" stroke-width="0.8"/>
<circle cx="1490.1" cy="572.5" r="5.5" fill="url(#ball)" stroke="#6a6a6a" stroke-width="0.8"/>
<path d="M1626.4,599.2 A72.8,72.8 0 0 1 1745.2,599.2" fill="none" stroke="#dfe2ef" stroke-width="8" filter="url(#sb)"/>
<path d="M1637.7,575.5 A89.6,89.6 0 0 1 1734.2,575.5" fill="none" stroke="#6e6e6e" stroke-width="4.8" stroke-linecap="round"/>
<path d="M1637.7,575.5 A89.6,89.6 0 0 1 1734.2,575.5" fill="none" stroke="#8a8a8a" stroke-width="1.7" stroke-linecap="round" opacity="0.6"/>
<circle cx="1637.7" cy="574.2" r="5.5" fill="url(#ball)" stroke="#6a6a6a" stroke-width="0.8"/>
<circle cx="1734.2" cy="574.2" r="5.5" fill="url(#ball)" stroke="#6a6a6a" stroke-width="0.8"/>
<text x="1454.0" y="539.8" font-family='"Liberation Sans", Arial, Helvetica, sans-serif' font-size="24" font-weight="400" text-anchor="middle" fill="#222" textLength="97" lengthAdjust="spacingAndGlyphs">Concave</text>
<text x="1454.0" y="625.8" font-family='"Liberation Sans", Arial, Helvetica, sans-serif' font-size="20" font-weight="400" text-anchor="middle" fill="#222" textLength="151" lengthAdjust="spacingAndGlyphs">Pt film Compress</text>
<text x="1686.0" y="545.2" font-family='"Liberation Sans", Arial, Helvetica, sans-serif' font-size="24" font-weight="400" text-anchor="middle" fill="#222" textLength="83" lengthAdjust="spacingAndGlyphs">Convex</text>
<text x="1686.0" y="629.2" font-family='"Liberation Sans", Arial, Helvetica, sans-serif' font-size="20" font-weight="400" text-anchor="middle" fill="#222" textLength="123" lengthAdjust="spacingAndGlyphs">Pt film Stretch</text>
</svg></body></html>
